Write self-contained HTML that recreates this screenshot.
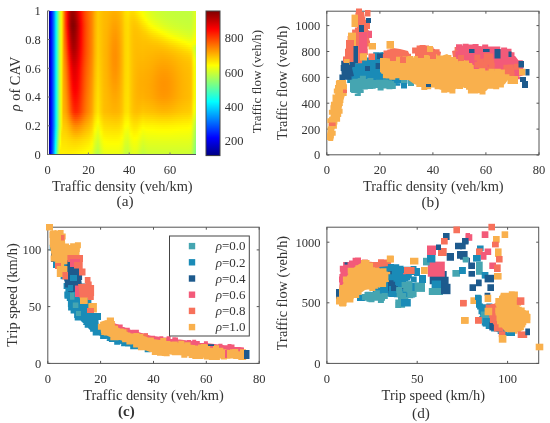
<!DOCTYPE html>
<html><head><meta charset="utf-8"><style>
html,body{margin:0;padding:0;background:#fff;width:550px;height:423px;overflow:hidden}
#hm div{position:absolute}
#hm,svg{filter:blur(0.3px)}
svg{position:absolute;left:0;top:0}
text{fill:#333}
</style></head><body>
<div id="hm"><div style="left:48.9px;top:10.80px;width:147.1px;height:2.60px;background:linear-gradient(90deg,#000095 0.0px,#0000bb 0.8px,#0000e2 1.5px,#0009ff 2.2px,#0029ff 3.0px,#0049ff 3.8px,#0053ff 4.0px,#008aff 5.2px,#00d7ff 6.5px,#22ffdd 7.8px,#69ff96 9.0px,#b0ff4f 10.2px,#dcff23 11.5px,#fff000 12.8px,#ffb600 14.0px,#ff7c00 15.2px,#ff4200 16.5px,#ff1800 17.8px,#ed0000 19.0px,#ce0000 20.0px,#a30000 22.0px,#9b0000 24.0px,#a90000 26.0px,#c50000 28.0px,#e90000 30.0px,#ff0f00 32.0px,#ff2f00 34.0px,#ff4900 36.0px,#ff5d00 38.0px,#ff6d00 40.0px,#ff8800 43.0px,#ffb000 46.0px,#ffcb00 49.0px,#ffc300 52.0px,#ffbb00 55.0px,#ffb900 58.0px,#ffb400 61.0px,#ffaf00 64.0px,#ffaf00 67.0px,#ffb500 70.0px,#ffc400 73.0px,#ffdd00 76.0px,#ffe600 79.0px,#ffdb00 82.0px,#ffdc00 85.0px,#ffe900 88.0px,#fff800 91.0px,#f7ff08 94.0px,#ebff14 97.0px,#e1ff1e 100.0px,#d9ff26 103.0px,#d4ff2b 106.0px,#cfff30 109.0px,#cbff34 112.0px,#c9ff36 115.0px,#c7ff38 118.0px,#c5ff3a 121.0px,#c4ff3b 124.0px,#c3ff3c 127.0px,#c3ff3c 130.0px,#c2ff3d 133.0px,#c2ff3d 136.0px,#c2ff3d 139.0px,#c2ff3d 142.0px,#d6ff29 145.0px,#e3ff1c 147.1px)"></div>
<div style="left:48.9px;top:12.80px;width:147.1px;height:2.60px;background:linear-gradient(90deg,#000095 0.0px,#0000bb 0.8px,#0000e2 1.5px,#0009ff 2.2px,#0029ff 3.0px,#0049ff 3.8px,#0053ff 4.0px,#008aff 5.2px,#00d7ff 6.5px,#22ffdd 7.8px,#69ff96 9.0px,#b0ff4f 10.2px,#dcff23 11.5px,#fff000 12.8px,#ffb600 14.0px,#ff7c00 15.2px,#ff4200 16.5px,#ff1800 17.8px,#ec0000 19.0px,#cd0000 20.0px,#a00000 22.0px,#980000 24.0px,#a60000 26.0px,#c20000 28.0px,#e60000 30.0px,#ff0c00 32.0px,#ff2d00 34.0px,#ff4800 36.0px,#ff5c00 38.0px,#ff6d00 40.0px,#ff8800 43.0px,#ffb000 46.0px,#ffcb00 49.0px,#ffc300 52.0px,#ffbb00 55.0px,#ffb800 58.0px,#ffb300 61.0px,#ffad00 64.0px,#ffad00 67.0px,#ffb300 70.0px,#ffc300 73.0px,#ffdc00 76.0px,#ffe400 79.0px,#ffd800 82.0px,#ffd800 85.0px,#ffe400 88.0px,#fff300 91.0px,#fbff04 94.0px,#efff10 97.0px,#e4ff1b 100.0px,#dcff23 103.0px,#d6ff29 106.0px,#d1ff2e 109.0px,#cdff32 112.0px,#caff35 115.0px,#c8ff37 118.0px,#c6ff39 121.0px,#c5ff3a 124.0px,#c4ff3b 127.0px,#c3ff3c 130.0px,#c3ff3c 133.0px,#c2ff3d 136.0px,#c2ff3d 139.0px,#c3ff3c 142.0px,#d6ff29 145.0px,#e3ff1c 147.1px)"></div>
<div style="left:48.9px;top:14.79px;width:147.1px;height:2.60px;background:linear-gradient(90deg,#000095 0.0px,#0000bb 0.8px,#0000e2 1.5px,#0009ff 2.2px,#0029ff 3.0px,#0049ff 3.8px,#0053ff 4.0px,#008aff 5.2px,#00d7ff 6.5px,#22ffdd 7.8px,#69ff96 9.0px,#b0ff4f 10.2px,#dcff23 11.5px,#fff000 12.8px,#ffb600 14.0px,#ff7c00 15.2px,#ff4200 16.5px,#ff1800 17.8px,#ec0000 19.0px,#cc0000 20.0px,#9e0000 22.0px,#940000 24.0px,#a20000 26.0px,#be0000 28.0px,#e20000 30.0px,#ff0900 32.0px,#ff2b00 34.0px,#ff4600 36.0px,#ff5b00 38.0px,#ff6c00 40.0px,#ff8800 43.0px,#ffb100 46.0px,#ffcb00 49.0px,#ffc300 52.0px,#ffbb00 55.0px,#ffb700 58.0px,#ffb100 61.0px,#ffab00 64.0px,#ffab00 67.0px,#ffb100 70.0px,#ffc100 73.0px,#ffda00 76.0px,#ffe200 79.0px,#ffd500 82.0px,#ffd400 85.0px,#ffde00 88.0px,#ffee00 91.0px,#fffe00 94.0px,#f4ff0b 97.0px,#e8ff17 100.0px,#dfff20 103.0px,#d9ff26 106.0px,#d3ff2c 109.0px,#cfff30 112.0px,#ccff33 115.0px,#c9ff36 118.0px,#c7ff38 121.0px,#c6ff39 124.0px,#c5ff3a 127.0px,#c4ff3b 130.0px,#c3ff3c 133.0px,#c3ff3c 136.0px,#c2ff3d 139.0px,#c3ff3c 142.0px,#d6ff29 145.0px,#e4ff1b 147.1px)"></div>
<div style="left:48.9px;top:16.79px;width:147.1px;height:2.60px;background:linear-gradient(90deg,#000095 0.0px,#0000bb 0.8px,#0000e2 1.5px,#0009ff 2.2px,#0029ff 3.0px,#0049ff 3.8px,#0053ff 4.0px,#008aff 5.2px,#00d7ff 6.5px,#22ffdd 7.8px,#69ff96 9.0px,#b0ff4f 10.2px,#dcff23 11.5px,#fff000 12.8px,#ffb600 14.0px,#ff7c00 15.2px,#ff4200 16.5px,#ff1900 17.8px,#ec0000 19.0px,#cb0000 20.0px,#9c0000 22.0px,#910000 24.0px,#9e0000 26.0px,#ba0000 28.0px,#df0000 30.0px,#ff0600 32.0px,#ff2900 34.0px,#ff4500 36.0px,#ff5a00 38.0px,#ff6b00 40.0px,#ff8700 43.0px,#ffb100 46.0px,#ffcb00 49.0px,#ffc300 52.0px,#ffba00 55.0px,#ffb700 58.0px,#ffb000 61.0px,#ffa900 64.0px,#ffa900 67.0px,#ffb000 70.0px,#ffc000 73.0px,#ffd900 76.0px,#ffe000 79.0px,#ffd200 82.0px,#ffd000 85.0px,#ffd900 88.0px,#ffe800 91.0px,#fff800 94.0px,#f9ff06 97.0px,#ecff13 100.0px,#e3ff1c 103.0px,#dcff23 106.0px,#d7ff28 109.0px,#d2ff2d 112.0px,#ceff31 115.0px,#cbff34 118.0px,#c9ff36 121.0px,#c7ff38 124.0px,#c6ff39 127.0px,#c5ff3a 130.0px,#c4ff3b 133.0px,#c4ff3b 136.0px,#c3ff3c 139.0px,#c4ff3b 142.0px,#d7ff28 145.0px,#e4ff1b 147.1px)"></div>
<div style="left:48.9px;top:18.78px;width:147.1px;height:2.60px;background:linear-gradient(90deg,#000095 0.0px,#0000bb 0.8px,#0000e2 1.5px,#0009ff 2.2px,#0029ff 3.0px,#0049ff 3.8px,#0053ff 4.0px,#008aff 5.2px,#00d7ff 6.5px,#22ffdd 7.8px,#69ff96 9.0px,#b0ff4f 10.2px,#dcff23 11.5px,#fff000 12.8px,#ffb600 14.0px,#ff7c00 15.2px,#ff4300 16.5px,#ff1900 17.8px,#ec0000 19.0px,#ca0000 20.0px,#990000 22.0px,#8d0000 24.0px,#9a0000 26.0px,#b60000 28.0px,#db0000 30.0px,#ff0300 32.0px,#ff2700 34.0px,#ff4300 36.0px,#ff5900 38.0px,#ff6b00 40.0px,#ff8700 43.0px,#ffb100 46.0px,#ffcc00 49.0px,#ffc300 52.0px,#ffba00 55.0px,#ffb600 58.0px,#ffaf00 61.0px,#ffa800 64.0px,#ffa700 67.0px,#ffae00 70.0px,#ffbe00 73.0px,#ffd800 76.0px,#ffdf00 79.0px,#ffd000 82.0px,#ffcc00 85.0px,#ffd400 88.0px,#ffe200 91.0px,#fff100 94.0px,#ffff00 97.0px,#f2ff0d 100.0px,#e8ff17 103.0px,#e1ff1e 106.0px,#dbff24 109.0px,#d6ff29 112.0px,#d1ff2e 115.0px,#ceff31 118.0px,#cbff34 121.0px,#c9ff36 124.0px,#c8ff37 127.0px,#c6ff39 130.0px,#c5ff3a 133.0px,#c5ff3a 136.0px,#c4ff3b 139.0px,#c4ff3b 142.0px,#d8ff27 145.0px,#e5ff1a 147.1px)"></div>
<div style="left:48.9px;top:20.78px;width:147.1px;height:2.60px;background:linear-gradient(90deg,#000095 0.0px,#0000bb 0.8px,#0000e2 1.5px,#0009ff 2.2px,#0029ff 3.0px,#0049ff 3.8px,#0053ff 4.0px,#008aff 5.2px,#00d7ff 6.5px,#22ffdd 7.8px,#69ff96 9.0px,#b0ff4f 10.2px,#dcff23 11.5px,#fff000 12.8px,#ffb600 14.0px,#ff7c00 15.2px,#ff4400 16.5px,#ff1900 17.8px,#ec0000 19.0px,#ca0000 20.0px,#970000 22.0px,#8a0000 24.0px,#960000 26.0px,#b20000 28.0px,#d80000 30.0px,#ff0100 32.0px,#ff2400 34.0px,#ff4200 36.0px,#ff5800 38.0px,#ff6a00 40.0px,#ff8700 43.0px,#ffb100 46.0px,#ffcc00 49.0px,#ffc300 52.0px,#ffba00 55.0px,#ffb600 58.0px,#ffae00 61.0px,#ffa600 64.0px,#ffa500 67.0px,#ffac00 70.0px,#ffbd00 73.0px,#ffd700 76.0px,#ffde00 79.0px,#ffce00 82.0px,#ffc900 85.0px,#ffcf00 88.0px,#ffdc00 91.0px,#ffea00 94.0px,#fff800 97.0px,#f8ff07 100.0px,#eeff11 103.0px,#e7ff18 106.0px,#e0ff1f 109.0px,#daff25 112.0px,#d5ff2a 115.0px,#d1ff2e 118.0px,#ceff31 121.0px,#ccff33 124.0px,#caff35 127.0px,#c8ff37 130.0px,#c7ff38 133.0px,#c6ff39 136.0px,#c5ff3a 139.0px,#c5ff3a 142.0px,#d8ff27 145.0px,#e6ff19 147.1px)"></div>
<div style="left:48.9px;top:22.77px;width:147.1px;height:2.60px;background:linear-gradient(90deg,#000095 0.0px,#0000bb 0.8px,#0000e2 1.5px,#0009ff 2.2px,#0029ff 3.0px,#0049ff 3.8px,#0053ff 4.0px,#008aff 5.2px,#00d7ff 6.5px,#22ffdd 7.8px,#69ff96 9.0px,#b0ff4f 10.2px,#dcff23 11.5px,#fff000 12.8px,#ffb600 14.0px,#ff7c00 15.2px,#ff4400 16.5px,#ff1a00 17.8px,#ec0000 19.0px,#c90000 20.0px,#950000 22.0px,#860000 24.0px,#920000 26.0px,#af0000 28.0px,#d40000 30.0px,#fd0000 32.0px,#ff2200 34.0px,#ff4000 36.0px,#ff5700 38.0px,#ff6a00 40.0px,#ff8700 43.0px,#ffb100 46.0px,#ffcc00 49.0px,#ffc300 52.0px,#ffba00 55.0px,#ffb500 58.0px,#ffad00 61.0px,#ffa400 64.0px,#ffa300 67.0px,#ffab00 70.0px,#ffbc00 73.0px,#ffd600 76.0px,#ffdd00 79.0px,#ffcd00 82.0px,#ffc700 85.0px,#ffcb00 88.0px,#ffd600 91.0px,#ffe400 94.0px,#fff000 97.0px,#ffff00 100.0px,#f5ff0a 103.0px,#edff12 106.0px,#e6ff19 109.0px,#e0ff1f 112.0px,#daff25 115.0px,#d5ff2a 118.0px,#d2ff2d 121.0px,#cfff30 124.0px,#cdff32 127.0px,#cbff34 130.0px,#c9ff36 133.0px,#c8ff37 136.0px,#c7ff38 139.0px,#c7ff38 142.0px,#daff25 145.0px,#e7ff18 147.1px)"></div>
<div style="left:48.9px;top:24.77px;width:147.1px;height:2.60px;background:linear-gradient(90deg,#000095 0.0px,#0000bb 0.8px,#0000e2 1.5px,#0009ff 2.2px,#0029ff 3.0px,#0049ff 3.8px,#0053ff 4.0px,#008aff 5.2px,#00d7ff 6.5px,#22ffdd 7.8px,#69ff96 9.0px,#b0ff4f 10.2px,#dcff23 11.5px,#fff000 12.8px,#ffb600 14.0px,#ff7c00 15.2px,#ff4600 16.5px,#ff1b00 17.8px,#ed0000 19.0px,#ca0000 20.0px,#950000 22.0px,#850000 24.0px,#900000 26.0px,#ac0000 28.0px,#d20000 30.0px,#fb0000 32.0px,#ff2100 34.0px,#ff3f00 36.0px,#ff5700 38.0px,#ff6900 40.0px,#ff8700 43.0px,#ffb100 46.0px,#ffcc00 49.0px,#ffc300 52.0px,#ffba00 55.0px,#ffb500 58.0px,#ffac00 61.0px,#ffa200 64.0px,#ffa100 67.0px,#ffa900 70.0px,#ffbb00 73.0px,#ffd600 76.0px,#ffdd00 79.0px,#ffcc00 82.0px,#ffc500 85.0px,#ffc800 88.0px,#ffd100 91.0px,#ffdd00 94.0px,#ffe900 97.0px,#fff700 100.0px,#fdff02 103.0px,#f5ff0a 106.0px,#edff12 109.0px,#e6ff19 112.0px,#e0ff1f 115.0px,#dbff24 118.0px,#d6ff29 121.0px,#d3ff2c 124.0px,#d0ff2f 127.0px,#ceff31 130.0px,#ccff33 133.0px,#caff35 136.0px,#c9ff36 139.0px,#c9ff36 142.0px,#dbff24 145.0px,#e8ff17 147.1px)"></div>
<div style="left:48.9px;top:26.77px;width:147.1px;height:2.60px;background:linear-gradient(90deg,#000095 0.0px,#0000bb 0.8px,#0000e2 1.5px,#0009ff 2.2px,#0029ff 3.0px,#0049ff 3.8px,#0053ff 4.0px,#008aff 5.2px,#00d7ff 6.5px,#22ffdd 7.8px,#69ff96 9.0px,#b0ff4f 10.2px,#dcff23 11.5px,#fff000 12.8px,#ffb600 14.0px,#ff7c00 15.2px,#ff4900 16.5px,#ff1f00 17.8px,#f10000 19.0px,#cf0000 20.0px,#990000 22.0px,#880000 24.0px,#930000 26.0px,#ae0000 28.0px,#d30000 30.0px,#fc0000 32.0px,#ff2100 34.0px,#ff3f00 36.0px,#ff5700 38.0px,#ff6900 40.0px,#ff8700 43.0px,#ffb100 46.0px,#ffcd00 49.0px,#ffc300 52.0px,#ffba00 55.0px,#ffb400 58.0px,#ffab00 61.0px,#ffa100 64.0px,#ff9f00 67.0px,#ffa800 70.0px,#ffbb00 73.0px,#ffd500 76.0px,#ffdd00 79.0px,#ffcc00 82.0px,#ffc300 85.0px,#ffc500 88.0px,#ffcd00 91.0px,#ffd700 94.0px,#ffe200 97.0px,#ffef00 100.0px,#fff900 103.0px,#fdff02 106.0px,#f5ff0a 109.0px,#eeff11 112.0px,#e7ff18 115.0px,#e1ff1e 118.0px,#dcff23 121.0px,#d8ff27 124.0px,#d5ff2a 127.0px,#d2ff2d 130.0px,#cfff30 133.0px,#cdff32 136.0px,#cbff34 139.0px,#cbff34 142.0px,#ddff22 145.0px,#eaff15 147.1px)"></div>
<div style="left:48.9px;top:28.76px;width:147.1px;height:2.60px;background:linear-gradient(90deg,#000095 0.0px,#0000bb 0.8px,#0000e2 1.5px,#0009ff 2.2px,#0029ff 3.0px,#0049ff 3.8px,#0053ff 4.0px,#008aff 5.2px,#00d7ff 6.5px,#22ffdd 7.8px,#69ff96 9.0px,#b0ff4f 10.2px,#dcff23 11.5px,#fff000 12.8px,#ffb600 14.0px,#ff7c00 15.2px,#ff4c00 16.5px,#ff2300 17.8px,#f60000 19.0px,#d30000 20.0px,#9d0000 22.0px,#8b0000 24.0px,#950000 26.0px,#b00000 28.0px,#d50000 30.0px,#fc0000 32.0px,#ff2200 34.0px,#ff4000 36.0px,#ff5700 38.0px,#ff6900 40.0px,#ff8700 43.0px,#ffb200 46.0px,#ffcd00 49.0px,#ffc300 52.0px,#ffb900 55.0px,#ffb400 58.0px,#ffa900 61.0px,#ff9f00 64.0px,#ff9d00 67.0px,#ffa700 70.0px,#ffba00 73.0px,#ffd500 76.0px,#ffdc00 79.0px,#ffcb00 82.0px,#ffc200 85.0px,#ffc300 88.0px,#ffc900 91.0px,#ffd200 94.0px,#ffdb00 97.0px,#ffe700 100.0px,#fff000 103.0px,#fff800 106.0px,#feff01 109.0px,#f6ff09 112.0px,#efff10 115.0px,#e8ff17 118.0px,#e2ff1d 121.0px,#deff21 124.0px,#daff25 127.0px,#d7ff28 130.0px,#d4ff2b 133.0px,#d1ff2e 136.0px,#cfff30 139.0px,#ceff31 142.0px,#e0ff1f 145.0px,#edff12 147.1px)"></div>
<div style="left:48.9px;top:30.76px;width:147.1px;height:2.60px;background:linear-gradient(90deg,#000095 0.0px,#0000bb 0.8px,#0000e2 1.5px,#0009ff 2.2px,#0029ff 3.0px,#0049ff 3.8px,#0053ff 4.0px,#008aff 5.2px,#00d7ff 6.5px,#22ffdd 7.8px,#69ff96 9.0px,#b0ff4f 10.2px,#dcff23 11.5px,#fff000 12.8px,#ffb600 14.0px,#ff7c00 15.2px,#ff4f00 16.5px,#ff2700 17.8px,#fa0000 19.0px,#d80000 20.0px,#a20000 22.0px,#8e0000 24.0px,#980000 26.0px,#b20000 28.0px,#d60000 30.0px,#fd0000 32.0px,#ff2200 34.0px,#ff4000 36.0px,#ff5700 38.0px,#ff6a00 40.0px,#ff8700 43.0px,#ffb200 46.0px,#ffcd00 49.0px,#ffc400 52.0px,#ffb900 55.0px,#ffb300 58.0px,#ffa800 61.0px,#ff9e00 64.0px,#ff9c00 67.0px,#ffa500 70.0px,#ffb900 73.0px,#ffd500 76.0px,#ffdc00 79.0px,#ffcb00 82.0px,#ffc100 85.0px,#ffc200 88.0px,#ffc600 91.0px,#ffcd00 94.0px,#ffd400 97.0px,#ffdf00 100.0px,#ffe800 103.0px,#ffef00 106.0px,#fff700 109.0px,#fffe00 112.0px,#f8ff07 115.0px,#f1ff0e 118.0px,#eaff15 121.0px,#e5ff1a 124.0px,#e1ff1e 127.0px,#ddff22 130.0px,#d9ff26 133.0px,#d6ff29 136.0px,#d3ff2c 139.0px,#d2ff2d 142.0px,#e3ff1c 145.0px,#f0ff0f 147.1px)"></div>
<div style="left:48.9px;top:32.75px;width:147.1px;height:2.60px;background:linear-gradient(90deg,#000095 0.0px,#0000bb 0.8px,#0000e2 1.5px,#0009ff 2.2px,#0029ff 3.0px,#0049ff 3.8px,#0053ff 4.0px,#008aff 5.2px,#00d7ff 6.5px,#22ffdd 7.8px,#69ff96 9.0px,#b0ff4f 10.2px,#dcff23 11.5px,#fff000 12.8px,#ffb600 14.0px,#ff7c00 15.2px,#ff5300 16.5px,#ff2b00 17.8px,#fe0000 19.0px,#dd0000 20.0px,#a60000 22.0px,#920000 24.0px,#9b0000 26.0px,#b40000 28.0px,#d70000 30.0px,#fe0000 32.0px,#ff2300 34.0px,#ff4000 36.0px,#ff5700 38.0px,#ff6a00 40.0px,#ff8700 43.0px,#ffb200 46.0px,#ffcd00 49.0px,#ffc400 52.0px,#ffb900 55.0px,#ffb300 58.0px,#ffa700 61.0px,#ff9c00 64.0px,#ff9a00 67.0px,#ffa400 70.0px,#ffb800 73.0px,#ffd500 76.0px,#ffdc00 79.0px,#ffcb00 82.0px,#ffc100 85.0px,#ffc100 88.0px,#ffc400 91.0px,#ffca00 94.0px,#ffcf00 97.0px,#ffd800 100.0px,#ffdf00 103.0px,#ffe600 106.0px,#ffed00 109.0px,#fff500 112.0px,#fffc00 115.0px,#faff05 118.0px,#f3ff0c 121.0px,#eeff11 124.0px,#e8ff17 127.0px,#e4ff1b 130.0px,#dfff20 133.0px,#dcff23 136.0px,#d8ff27 139.0px,#d6ff29 142.0px,#e8ff17 145.0px,#f4ff0b 147.1px)"></div>
<div style="left:48.9px;top:34.75px;width:147.1px;height:2.60px;background:linear-gradient(90deg,#000095 0.0px,#0000bb 0.8px,#0000e2 1.5px,#0009ff 2.2px,#0029ff 3.0px,#0049ff 3.8px,#0053ff 4.0px,#008aff 5.2px,#00d7ff 6.5px,#22ffdd 7.8px,#69ff96 9.0px,#b0ff4f 10.2px,#dcff23 11.5px,#fff000 12.8px,#ffb600 14.0px,#ff7c00 15.2px,#ff5600 16.5px,#ff2e00 17.8px,#ff0400 19.0px,#e10000 20.0px,#aa0000 22.0px,#950000 24.0px,#9d0000 26.0px,#b60000 28.0px,#d90000 30.0px,#ff0000 32.0px,#ff2300 34.0px,#ff4100 36.0px,#ff5700 38.0px,#ff6a00 40.0px,#ff8700 43.0px,#ffb200 46.0px,#ffce00 49.0px,#ffc400 52.0px,#ffb900 55.0px,#ffb200 58.0px,#ffa600 61.0px,#ff9b00 64.0px,#ff9800 67.0px,#ffa300 70.0px,#ffb800 73.0px,#ffd400 76.0px,#ffdc00 79.0px,#ffca00 82.0px,#ffc000 85.0px,#ffc000 88.0px,#ffc300 91.0px,#ffc700 94.0px,#ffca00 97.0px,#ffd100 100.0px,#ffd800 103.0px,#ffde00 106.0px,#ffe400 109.0px,#ffeb00 112.0px,#fff200 115.0px,#fffa00 118.0px,#fcff03 121.0px,#f7ff08 124.0px,#f1ff0e 127.0px,#ecff13 130.0px,#e7ff18 133.0px,#e3ff1c 136.0px,#deff21 139.0px,#dcff23 142.0px,#edff12 145.0px,#f9ff06 147.1px)"></div>
<div style="left:48.9px;top:36.75px;width:147.1px;height:2.60px;background:linear-gradient(90deg,#000095 0.0px,#0000bb 0.8px,#0000e2 1.5px,#0009ff 2.2px,#0029ff 3.0px,#0049ff 3.8px,#0053ff 4.0px,#008aff 5.2px,#00d7ff 6.5px,#22ffdd 7.8px,#69ff96 9.0px,#b0ff4f 10.2px,#dcff23 11.5px,#fff000 12.8px,#ffb600 14.0px,#ff7c00 15.2px,#ff5900 16.5px,#ff3200 17.8px,#ff0800 19.0px,#e60000 20.0px,#af0000 22.0px,#980000 24.0px,#a00000 26.0px,#b80000 28.0px,#da0000 30.0px,#ff0100 32.0px,#ff2400 34.0px,#ff4100 36.0px,#ff5800 38.0px,#ff6a00 40.0px,#ff8700 43.0px,#ffb200 46.0px,#ffce00 49.0px,#ffc400 52.0px,#ffb900 55.0px,#ffb200 58.0px,#ffa500 61.0px,#ff9900 64.0px,#ff9700 67.0px,#ffa200 70.0px,#ffb700 73.0px,#ffd400 76.0px,#ffdc00 79.0px,#ffca00 82.0px,#ffc000 85.0px,#ffbf00 88.0px,#ffc100 91.0px,#ffc500 94.0px,#ffc700 97.0px,#ffcc00 100.0px,#ffd100 103.0px,#ffd600 106.0px,#ffdb00 109.0px,#ffe100 112.0px,#ffe800 115.0px,#fff000 118.0px,#fff700 121.0px,#fffd00 124.0px,#fbff04 127.0px,#f5ff0a 130.0px,#f0ff0f 133.0px,#ebff14 136.0px,#e6ff19 139.0px,#e3ff1c 142.0px,#f3ff0c 145.0px,#feff01 147.1px)"></div>
<div style="left:48.9px;top:38.74px;width:147.1px;height:2.60px;background:linear-gradient(90deg,#000095 0.0px,#0000bb 0.8px,#0000e2 1.5px,#0009ff 2.2px,#0029ff 3.0px,#0049ff 3.8px,#0053ff 4.0px,#008aff 5.2px,#00d7ff 6.5px,#22ffdd 7.8px,#69ff96 9.0px,#b0ff4f 10.2px,#dcff23 11.5px,#fff000 12.8px,#ffb600 14.0px,#ff7c00 15.2px,#ff5b00 16.5px,#ff3600 17.8px,#ff0c00 19.0px,#ea0000 20.0px,#b30000 22.0px,#9c0000 24.0px,#a30000 26.0px,#ba0000 28.0px,#db0000 30.0px,#ff0100 32.0px,#ff2400 34.0px,#ff4100 36.0px,#ff5800 38.0px,#ff6a00 40.0px,#ff8800 43.0px,#ffb300 46.0px,#ffce00 49.0px,#ffc400 52.0px,#ffb900 55.0px,#ffb100 58.0px,#ffa500 61.0px,#ff9800 64.0px,#ff9500 67.0px,#ffa100 70.0px,#ffb700 73.0px,#ffd400 76.0px,#ffdc00 79.0px,#ffca00 82.0px,#ffc000 85.0px,#ffbe00 88.0px,#ffc000 91.0px,#ffc300 94.0px,#ffc400 97.0px,#ffc700 100.0px,#ffcb00 103.0px,#ffcf00 106.0px,#ffd300 109.0px,#ffd900 112.0px,#ffdf00 115.0px,#ffe600 118.0px,#ffed00 121.0px,#fff300 124.0px,#fff900 127.0px,#ffff00 130.0px,#f9ff06 133.0px,#f3ff0c 136.0px,#eeff11 139.0px,#ebff14 142.0px,#f9ff06 145.0px,#fffb00 147.1px)"></div>
<div style="left:48.9px;top:40.74px;width:147.1px;height:2.60px;background:linear-gradient(90deg,#000095 0.0px,#0000bb 0.8px,#0000e2 1.5px,#0009ff 2.2px,#0029ff 3.0px,#0049ff 3.8px,#0053ff 4.0px,#008aff 5.2px,#00d7ff 6.5px,#22ffdd 7.8px,#69ff96 9.0px,#b0ff4f 10.2px,#dcff23 11.5px,#fff000 12.8px,#ffb600 14.0px,#ff7d00 15.2px,#ff5e00 16.5px,#ff3900 17.8px,#ff1000 19.0px,#ee0000 20.0px,#b80000 22.0px,#9f0000 24.0px,#a50000 26.0px,#bc0000 28.0px,#dd0000 30.0px,#ff0200 32.0px,#ff2500 34.0px,#ff4100 36.0px,#ff5800 38.0px,#ff6a00 40.0px,#ff8800 43.0px,#ffb300 46.0px,#ffce00 49.0px,#ffc400 52.0px,#ffb900 55.0px,#ffb100 58.0px,#ffa400 61.0px,#ff9700 64.0px,#ff9400 67.0px,#ffa000 70.0px,#ffb600 73.0px,#ffd400 76.0px,#ffdc00 79.0px,#ffca00 82.0px,#ffc000 85.0px,#ffbe00 88.0px,#ffbf00 91.0px,#ffc100 94.0px,#ffc100 97.0px,#ffc400 100.0px,#ffc700 103.0px,#ffc900 106.0px,#ffcc00 109.0px,#ffd100 112.0px,#ffd600 115.0px,#ffdc00 118.0px,#ffe300 121.0px,#ffe900 124.0px,#ffef00 127.0px,#fff500 130.0px,#fffb00 133.0px,#fdff02 136.0px,#f7ff08 139.0px,#f3ff0c 142.0px,#fcff03 145.0px,#fffd00 147.1px)"></div>
<div style="left:48.9px;top:42.73px;width:147.1px;height:2.60px;background:linear-gradient(90deg,#000095 0.0px,#0000bb 0.8px,#0000e2 1.5px,#0009ff 2.2px,#0029ff 3.0px,#0049ff 3.8px,#0053ff 4.0px,#008aff 5.2px,#00d7ff 6.5px,#22ffdd 7.8px,#69ff96 9.0px,#b0ff4f 10.2px,#dcff23 11.5px,#fff000 12.8px,#ffb600 14.0px,#ff7f00 15.2px,#ff6100 16.5px,#ff3d00 17.8px,#ff1400 19.0px,#f30000 20.0px,#bc0000 22.0px,#a30000 24.0px,#a80000 26.0px,#be0000 28.0px,#de0000 30.0px,#ff0300 32.0px,#ff2500 34.0px,#ff4200 36.0px,#ff5800 38.0px,#ff6a00 40.0px,#ff8800 43.0px,#ffb300 46.0px,#ffcf00 49.0px,#ffc400 52.0px,#ffb900 55.0px,#ffb100 58.0px,#ffa300 61.0px,#ff9600 64.0px,#ff9300 67.0px,#ff9f00 70.0px,#ffb600 73.0px,#ffd400 76.0px,#ffdc00 79.0px,#ffca00 82.0px,#ffbf00 85.0px,#ffbd00 88.0px,#ffbe00 91.0px,#ffc000 94.0px,#ffc000 97.0px,#ffc100 100.0px,#ffc300 103.0px,#ffc400 106.0px,#ffc600 109.0px,#ffca00 112.0px,#ffce00 115.0px,#ffd300 118.0px,#ffda00 121.0px,#ffdf00 124.0px,#ffe500 127.0px,#ffeb00 130.0px,#fff100 133.0px,#fff700 136.0px,#fffd00 139.0px,#fcff03 142.0px,#f5ff0a 145.0px,#f1ff0e 147.1px)"></div>
<div style="left:48.9px;top:44.73px;width:147.1px;height:2.60px;background:linear-gradient(90deg,#000095 0.0px,#0000bb 0.8px,#0000e2 1.5px,#0009ff 2.2px,#0029ff 3.0px,#0049ff 3.8px,#0053ff 4.0px,#008aff 5.2px,#00d7ff 6.5px,#22ffdd 7.8px,#69ff96 9.0px,#b0ff4f 10.2px,#dcff23 11.5px,#fff000 12.8px,#ffb600 14.0px,#ff8100 15.2px,#ff6400 16.5px,#ff4000 17.8px,#ff1800 19.0px,#f70000 20.0px,#c00000 22.0px,#a60000 24.0px,#ab0000 26.0px,#c00000 28.0px,#df0000 30.0px,#ff0400 32.0px,#ff2600 34.0px,#ff4200 36.0px,#ff5800 38.0px,#ff6a00 40.0px,#ff8800 43.0px,#ffb300 46.0px,#ffcf00 49.0px,#ffc400 52.0px,#ffb900 55.0px,#ffb000 58.0px,#ffa200 61.0px,#ff9500 64.0px,#ff9200 67.0px,#ff9e00 70.0px,#ffb500 73.0px,#ffd400 76.0px,#ffdc00 79.0px,#ffca00 82.0px,#ffbf00 85.0px,#ffbd00 88.0px,#ffbd00 91.0px,#ffbf00 94.0px,#ffbe00 97.0px,#ffbe00 100.0px,#ffbf00 103.0px,#ffc000 106.0px,#ffc100 109.0px,#ffc400 112.0px,#ffc700 115.0px,#ffcb00 118.0px,#ffd100 121.0px,#ffd600 124.0px,#ffdc00 127.0px,#ffe200 130.0px,#ffe800 133.0px,#ffed00 136.0px,#fff300 139.0px,#fffa00 142.0px,#e7ff18 145.0px,#d2ff2d 147.1px)"></div>
<div style="left:48.9px;top:46.72px;width:147.1px;height:2.60px;background:linear-gradient(90deg,#000095 0.0px,#0000bb 0.8px,#0000e2 1.5px,#0009ff 2.2px,#0029ff 3.0px,#0049ff 3.8px,#0053ff 4.0px,#008aff 5.2px,#00d7ff 6.5px,#22ffdd 7.8px,#69ff96 9.0px,#b0ff4f 10.2px,#dcff23 11.5px,#fff000 12.8px,#ffb600 14.0px,#ff8300 15.2px,#ff6700 16.5px,#ff4400 17.8px,#ff1d00 19.0px,#fc0000 20.0px,#c50000 22.0px,#aa0000 24.0px,#ae0000 26.0px,#c20000 28.0px,#e20000 30.0px,#ff0600 32.0px,#ff2700 34.0px,#ff4300 36.0px,#ff5900 38.0px,#ff6b00 40.0px,#ff8800 43.0px,#ffb300 46.0px,#ffcf00 49.0px,#ffc400 52.0px,#ffb800 55.0px,#ffb000 58.0px,#ffa200 61.0px,#ff9400 64.0px,#ff9100 67.0px,#ff9e00 70.0px,#ffb500 73.0px,#ffd400 76.0px,#ffdc00 79.0px,#ffca00 82.0px,#ffbf00 85.0px,#ffbc00 88.0px,#ffbd00 91.0px,#ffbe00 94.0px,#ffbd00 97.0px,#ffbc00 100.0px,#ffbd00 103.0px,#ffbd00 106.0px,#ffbd00 109.0px,#ffbf00 112.0px,#ffc100 115.0px,#ffc500 118.0px,#ffca00 121.0px,#ffce00 124.0px,#ffd300 127.0px,#ffd900 130.0px,#ffdf00 133.0px,#ffe400 136.0px,#ffea00 139.0px,#fff100 142.0px,#deff21 145.0px,#beff41 147.1px)"></div>
<div style="left:48.9px;top:48.72px;width:147.1px;height:2.60px;background:linear-gradient(90deg,#000095 0.0px,#0000bb 0.8px,#0000e2 1.5px,#0009ff 2.2px,#0029ff 3.0px,#0049ff 3.8px,#0053ff 4.0px,#008aff 5.2px,#00d7ff 6.5px,#22ffdd 7.8px,#69ff96 9.0px,#b0ff4f 10.2px,#dcff23 11.5px,#fff000 12.8px,#ffb600 14.0px,#ff8600 15.2px,#ff6a00 16.5px,#ff4800 17.8px,#ff2200 19.0px,#ff0200 20.0px,#cb0000 22.0px,#b00000 24.0px,#b30000 26.0px,#c60000 28.0px,#e40000 30.0px,#ff0800 32.0px,#ff2800 34.0px,#ff4400 36.0px,#ff5900 38.0px,#ff6b00 40.0px,#ff8800 43.0px,#ffb400 46.0px,#ffcf00 49.0px,#ffc400 52.0px,#ffb800 55.0px,#ffb000 58.0px,#ffa200 61.0px,#ff9300 64.0px,#ff9100 67.0px,#ff9d00 70.0px,#ffb500 73.0px,#ffd400 76.0px,#ffdc00 79.0px,#ffca00 82.0px,#ffbf00 85.0px,#ffbb00 88.0px,#ffbc00 91.0px,#ffbd00 94.0px,#ffbb00 97.0px,#ffbb00 100.0px,#ffbb00 103.0px,#ffba00 106.0px,#ffba00 109.0px,#ffba00 112.0px,#ffbc00 115.0px,#ffbf00 118.0px,#ffc300 121.0px,#ffc700 124.0px,#ffcc00 127.0px,#ffd100 130.0px,#ffd600 133.0px,#ffdc00 136.0px,#ffe100 139.0px,#ffe900 142.0px,#e1ff1e 145.0px,#bcff43 147.1px)"></div>
<div style="left:48.9px;top:50.72px;width:147.1px;height:2.60px;background:linear-gradient(90deg,#000095 0.0px,#0000bb 0.8px,#0000e2 1.5px,#0009ff 2.2px,#0029ff 3.0px,#0049ff 3.8px,#0053ff 4.0px,#008aff 5.2px,#00d7ff 6.5px,#22ffdd 7.8px,#69ff96 9.0px,#b0ff4f 10.2px,#dcff23 11.5px,#fff000 12.8px,#ffb600 14.0px,#ff8800 15.2px,#ff6d00 16.5px,#ff4c00 17.8px,#ff2700 19.0px,#ff0800 20.0px,#d10000 22.0px,#b50000 24.0px,#b70000 26.0px,#ca0000 28.0px,#e70000 30.0px,#ff0a00 32.0px,#ff2a00 34.0px,#ff4400 36.0px,#ff5a00 38.0px,#ff6b00 40.0px,#ff8800 43.0px,#ffb400 46.0px,#ffd000 49.0px,#ffc400 52.0px,#ffb800 55.0px,#ffb000 58.0px,#ffa100 61.0px,#ff9300 64.0px,#ff9000 67.0px,#ff9d00 70.0px,#ffb500 73.0px,#ffd400 76.0px,#ffdd00 79.0px,#ffca00 82.0px,#ffbe00 85.0px,#ffbb00 88.0px,#ffbb00 91.0px,#ffbc00 94.0px,#ffba00 97.0px,#ffb900 100.0px,#ffb900 103.0px,#ffb700 106.0px,#ffb700 109.0px,#ffb600 112.0px,#ffb800 115.0px,#ffba00 118.0px,#ffbe00 121.0px,#ffc200 124.0px,#ffc600 127.0px,#ffcb00 130.0px,#ffcf00 133.0px,#ffd400 136.0px,#ffd900 139.0px,#ffe000 142.0px,#e7ff18 145.0px,#c2ff3d 147.1px)"></div>
<div style="left:48.9px;top:52.71px;width:147.1px;height:2.60px;background:linear-gradient(90deg,#000095 0.0px,#0000bb 0.8px,#0000e2 1.5px,#0009ff 2.2px,#0029ff 3.0px,#0049ff 3.8px,#0053ff 4.0px,#008aff 5.2px,#00d7ff 6.5px,#22ffdd 7.8px,#69ff96 9.0px,#b0ff4f 10.2px,#dcff23 11.5px,#fff000 12.8px,#ffb600 14.0px,#ff8a00 15.2px,#ff7000 16.5px,#ff5000 17.8px,#ff2b00 19.0px,#ff0d00 20.0px,#d70000 22.0px,#ba0000 24.0px,#bc0000 26.0px,#cd0000 28.0px,#ea0000 30.0px,#ff0c00 32.0px,#ff2b00 34.0px,#ff4500 36.0px,#ff5a00 38.0px,#ff6c00 40.0px,#ff8900 43.0px,#ffb400 46.0px,#ffd000 49.0px,#ffc500 52.0px,#ffb800 55.0px,#ffb000 58.0px,#ffa100 61.0px,#ff9200 64.0px,#ff9000 67.0px,#ff9c00 70.0px,#ffb500 73.0px,#ffd400 76.0px,#ffdd00 79.0px,#ffca00 82.0px,#ffbe00 85.0px,#ffba00 88.0px,#ffba00 91.0px,#ffbb00 94.0px,#ffb900 97.0px,#ffb800 100.0px,#ffb700 103.0px,#ffb500 106.0px,#ffb400 109.0px,#ffb300 112.0px,#ffb400 115.0px,#ffb600 118.0px,#ffb900 121.0px,#ffbd00 124.0px,#ffc100 127.0px,#ffc500 130.0px,#ffca00 133.0px,#ffce00 136.0px,#ffd200 139.0px,#ffd900 142.0px,#eeff11 145.0px,#c9ff36 147.1px)"></div>
<div style="left:48.9px;top:54.71px;width:147.1px;height:2.60px;background:linear-gradient(90deg,#000095 0.0px,#0000bb 0.8px,#0000e2 1.5px,#0009ff 2.2px,#0029ff 3.0px,#0049ff 3.8px,#0053ff 4.0px,#008aff 5.2px,#00d7ff 6.5px,#22ffdd 7.8px,#69ff96 9.0px,#b0ff4f 10.2px,#dcff23 11.5px,#fff000 12.8px,#ffb600 14.0px,#ff8c00 15.2px,#ff7300 16.5px,#ff5400 17.8px,#ff3000 19.0px,#ff1200 20.0px,#dd0000 22.0px,#c00000 24.0px,#c00000 26.0px,#d10000 28.0px,#ed0000 30.0px,#ff0e00 32.0px,#ff2d00 34.0px,#ff4700 36.0px,#ff5c00 38.0px,#ff6d00 40.0px,#ff8a00 43.0px,#ffb500 46.0px,#ffd100 49.0px,#ffc500 52.0px,#ffb800 55.0px,#ffb000 58.0px,#ffa100 61.0px,#ff9200 64.0px,#ff8f00 67.0px,#ff9c00 70.0px,#ffb400 73.0px,#ffd400 76.0px,#ffdd00 79.0px,#ffca00 82.0px,#ffbe00 85.0px,#ffba00 88.0px,#ffb900 91.0px,#ffba00 94.0px,#ffb800 97.0px,#ffb600 100.0px,#ffb500 103.0px,#ffb300 106.0px,#ffb100 109.0px,#ffb000 112.0px,#ffb000 115.0px,#ffb200 118.0px,#ffb500 121.0px,#ffb800 124.0px,#ffbd00 127.0px,#ffc100 130.0px,#ffc500 133.0px,#ffc900 136.0px,#ffcd00 139.0px,#ffd300 142.0px,#f5ff0a 145.0px,#cfff30 147.1px)"></div>
<div style="left:48.9px;top:56.70px;width:147.1px;height:2.60px;background:linear-gradient(90deg,#000095 0.0px,#0000bb 0.8px,#0000e2 1.5px,#0009ff 2.2px,#0029ff 3.0px,#0049ff 3.8px,#0053ff 4.0px,#008aff 5.2px,#00d7ff 6.5px,#22ffdd 7.8px,#69ff96 9.0px,#b0ff4f 10.2px,#dcff23 11.5px,#fff000 12.8px,#ffb600 14.0px,#ff8e00 15.2px,#ff7600 16.5px,#ff5700 17.8px,#ff3500 19.0px,#ff1800 20.0px,#e20000 22.0px,#c50000 24.0px,#c50000 26.0px,#d50000 28.0px,#f00000 30.0px,#ff1100 32.0px,#ff2f00 34.0px,#ff4900 36.0px,#ff5d00 38.0px,#ff6e00 40.0px,#ff8b00 43.0px,#ffb600 46.0px,#ffd100 49.0px,#ffc500 52.0px,#ffb900 55.0px,#ffb000 58.0px,#ffa100 61.0px,#ff9200 64.0px,#ff8f00 67.0px,#ff9c00 70.0px,#ffb500 73.0px,#ffd400 76.0px,#ffdd00 79.0px,#ffca00 82.0px,#ffbe00 85.0px,#ffb900 88.0px,#ffb800 91.0px,#ffb900 94.0px,#ffb600 97.0px,#ffb500 100.0px,#ffb300 103.0px,#ffb100 106.0px,#ffaf00 109.0px,#ffad00 112.0px,#ffad00 115.0px,#ffaf00 118.0px,#ffb100 121.0px,#ffb500 124.0px,#ffb900 127.0px,#ffbd00 130.0px,#ffc100 133.0px,#ffc500 136.0px,#ffc800 139.0px,#ffce00 142.0px,#faff05 145.0px,#d5ff2a 147.1px)"></div>
<div style="left:48.9px;top:58.70px;width:147.1px;height:2.60px;background:linear-gradient(90deg,#000095 0.0px,#0000bb 0.8px,#0000e2 1.5px,#0009ff 2.2px,#0029ff 3.0px,#0049ff 3.8px,#0053ff 4.0px,#008aff 5.2px,#00d7ff 6.5px,#22ffdd 7.8px,#69ff96 9.0px,#b0ff4f 10.2px,#dcff23 11.5px,#fff000 12.8px,#ffb600 14.0px,#ff9000 15.2px,#ff7900 16.5px,#ff5b00 17.8px,#ff3900 19.0px,#ff1d00 20.0px,#e80000 22.0px,#ca0000 24.0px,#ca0000 26.0px,#d90000 28.0px,#f30000 30.0px,#ff1300 32.0px,#ff3100 34.0px,#ff4a00 36.0px,#ff5f00 38.0px,#ff7000 40.0px,#ff8c00 43.0px,#ffb700 46.0px,#ffd200 49.0px,#ffc600 52.0px,#ffb900 55.0px,#ffb000 58.0px,#ffa100 61.0px,#ff9200 64.0px,#ff9000 67.0px,#ff9c00 70.0px,#ffb500 73.0px,#ffd400 76.0px,#ffdd00 79.0px,#ffca00 82.0px,#ffbd00 85.0px,#ffb900 88.0px,#ffb700 91.0px,#ffb800 94.0px,#ffb500 97.0px,#ffb400 100.0px,#ffb200 103.0px,#ffaf00 106.0px,#ffac00 109.0px,#ffaa00 112.0px,#ffaa00 115.0px,#ffab00 118.0px,#ffae00 121.0px,#ffb200 124.0px,#ffb600 127.0px,#ffba00 130.0px,#ffbe00 133.0px,#ffc200 136.0px,#ffc500 139.0px,#ffca00 142.0px,#feff01 145.0px,#d9ff26 147.1px)"></div>
<div style="left:48.9px;top:60.70px;width:147.1px;height:2.60px;background:linear-gradient(90deg,#000095 0.0px,#0000bb 0.8px,#0000e2 1.5px,#0009ff 2.2px,#0029ff 3.0px,#0049ff 3.8px,#0053ff 4.0px,#008aff 5.2px,#00d7ff 6.5px,#22ffdd 7.8px,#69ff96 9.0px,#b0ff4f 10.2px,#dcff23 11.5px,#fff000 12.8px,#ffb600 14.0px,#ff9200 15.2px,#ff7b00 16.5px,#ff5f00 17.8px,#ff3e00 19.0px,#ff2200 20.0px,#ee0000 22.0px,#d00000 24.0px,#ce0000 26.0px,#dd0000 28.0px,#f60000 30.0px,#ff1600 32.0px,#ff3300 34.0px,#ff4c00 36.0px,#ff6000 38.0px,#ff7100 40.0px,#ff8d00 43.0px,#ffb800 46.0px,#ffd300 49.0px,#ffc600 52.0px,#ffb900 55.0px,#ffb000 58.0px,#ffa100 61.0px,#ff9300 64.0px,#ff9000 67.0px,#ff9d00 70.0px,#ffb500 73.0px,#ffd400 76.0px,#ffdd00 79.0px,#ffca00 82.0px,#ffbd00 85.0px,#ffb800 88.0px,#ffb600 91.0px,#ffb600 94.0px,#ffb400 97.0px,#ffb200 100.0px,#ffb000 103.0px,#ffad00 106.0px,#ffaa00 109.0px,#ffa800 112.0px,#ffa700 115.0px,#ffa900 118.0px,#ffab00 121.0px,#ffaf00 124.0px,#ffb300 127.0px,#ffb800 130.0px,#ffbc00 133.0px,#ffbf00 136.0px,#ffc200 139.0px,#ffc700 142.0px,#fffd00 145.0px,#dcff23 147.1px)"></div>
<div style="left:48.9px;top:62.69px;width:147.1px;height:2.60px;background:linear-gradient(90deg,#000095 0.0px,#0000bb 0.8px,#0000e2 1.5px,#0009ff 2.2px,#0029ff 3.0px,#0049ff 3.8px,#0053ff 4.0px,#008aff 5.2px,#00d7ff 6.5px,#22ffdd 7.8px,#69ff96 9.0px,#b0ff4f 10.2px,#dcff23 11.5px,#fff000 12.8px,#ffb600 14.0px,#ff9400 15.2px,#ff7e00 16.5px,#ff6200 17.8px,#ff4200 19.0px,#ff2700 20.0px,#f30000 22.0px,#d50000 24.0px,#d30000 26.0px,#e10000 28.0px,#fa0000 30.0px,#ff1800 32.0px,#ff3500 34.0px,#ff4e00 36.0px,#ff6200 38.0px,#ff7200 40.0px,#ff8e00 43.0px,#ffb900 46.0px,#ffd300 49.0px,#ffc600 52.0px,#ffb900 55.0px,#ffb000 58.0px,#ffa200 61.0px,#ff9300 64.0px,#ff9000 67.0px,#ff9d00 70.0px,#ffb500 73.0px,#ffd400 76.0px,#ffdd00 79.0px,#ffca00 82.0px,#ffbd00 85.0px,#ffb700 88.0px,#ffb500 91.0px,#ffb500 94.0px,#ffb300 97.0px,#ffb100 100.0px,#ffaf00 103.0px,#ffab00 106.0px,#ffa800 109.0px,#ffa500 112.0px,#ffa500 115.0px,#ffa600 118.0px,#ffa900 121.0px,#ffad00 124.0px,#ffb100 127.0px,#ffb600 130.0px,#ffba00 133.0px,#ffbd00 136.0px,#ffc000 139.0px,#ffc500 142.0px,#fffb00 145.0px,#dfff20 147.1px)"></div>
<div style="left:48.9px;top:64.69px;width:147.1px;height:2.60px;background:linear-gradient(90deg,#000095 0.0px,#0000bb 0.8px,#0000e2 1.5px,#0009ff 2.2px,#0029ff 3.0px,#0049ff 3.8px,#0053ff 4.0px,#008aff 5.2px,#00d7ff 6.5px,#22ffdd 7.8px,#69ff96 9.0px,#b0ff4f 10.2px,#dcff23 11.5px,#fff000 12.8px,#ffb600 14.0px,#ff9600 15.2px,#ff8100 16.5px,#ff6600 17.8px,#ff4600 19.0px,#ff2c00 20.0px,#f90000 22.0px,#da0000 24.0px,#d80000 26.0px,#e50000 28.0px,#fd0000 30.0px,#ff1b00 32.0px,#ff3700 34.0px,#ff5000 36.0px,#ff6300 38.0px,#ff7400 40.0px,#ff8f00 43.0px,#ffba00 46.0px,#ffd400 49.0px,#ffc700 52.0px,#ffb900 55.0px,#ffb000 58.0px,#ffa200 61.0px,#ff9400 64.0px,#ff9100 67.0px,#ff9d00 70.0px,#ffb500 73.0px,#ffd500 76.0px,#ffdd00 79.0px,#ffca00 82.0px,#ffbd00 85.0px,#ffb700 88.0px,#ffb400 91.0px,#ffb400 94.0px,#ffb200 97.0px,#ffb000 100.0px,#ffad00 103.0px,#ffa900 106.0px,#ffa500 109.0px,#ffa300 112.0px,#ffa200 115.0px,#ffa300 118.0px,#ffa600 121.0px,#ffaa00 124.0px,#ffaf00 127.0px,#ffb400 130.0px,#ffb800 133.0px,#ffbc00 136.0px,#ffbf00 139.0px,#ffc400 142.0px,#fff900 145.0px,#e1ff1e 147.1px)"></div>
<div style="left:48.9px;top:66.68px;width:147.1px;height:2.60px;background:linear-gradient(90deg,#000095 0.0px,#0000bb 0.8px,#0000e2 1.5px,#0009ff 2.2px,#0029ff 3.0px,#0049ff 3.8px,#0053ff 4.0px,#008aff 5.2px,#00d7ff 6.5px,#22ffdd 7.8px,#69ff96 9.0px,#b0ff4f 10.2px,#dcff23 11.5px,#fff000 12.8px,#ffb600 14.0px,#ff9800 15.2px,#ff8300 16.5px,#ff6900 17.8px,#ff4b00 19.0px,#ff3000 20.0px,#ff0000 22.0px,#e00000 24.0px,#dc0000 26.0px,#e90000 28.0px,#ff0100 30.0px,#ff1e00 32.0px,#ff3a00 34.0px,#ff5200 36.0px,#ff6500 38.0px,#ff7500 40.0px,#ff9000 43.0px,#ffbb00 46.0px,#ffd500 49.0px,#ffc700 52.0px,#ffb900 55.0px,#ffb100 58.0px,#ffa200 61.0px,#ff9500 64.0px,#ff9200 67.0px,#ff9e00 70.0px,#ffb600 73.0px,#ffd500 76.0px,#ffdd00 79.0px,#ffca00 82.0px,#ffbc00 85.0px,#ffb600 88.0px,#ffb300 91.0px,#ffb300 94.0px,#ffb100 97.0px,#ffaf00 100.0px,#ffac00 103.0px,#ffa700 106.0px,#ffa300 109.0px,#ffa000 112.0px,#ffa000 115.0px,#ffa100 118.0px,#ffa400 121.0px,#ffa800 124.0px,#ffad00 127.0px,#ffb200 130.0px,#ffb700 133.0px,#ffbb00 136.0px,#ffbd00 139.0px,#ffc200 142.0px,#fff700 145.0px,#e2ff1d 147.1px)"></div>
<div style="left:48.9px;top:68.68px;width:147.1px;height:2.60px;background:linear-gradient(90deg,#000095 0.0px,#0000bb 0.8px,#0000e2 1.5px,#0009ff 2.2px,#0029ff 3.0px,#0049ff 3.8px,#0053ff 4.0px,#008aff 5.2px,#00d7ff 6.5px,#22ffdd 7.8px,#69ff96 9.0px,#b0ff4f 10.2px,#dcff23 11.5px,#fff000 12.8px,#ffb600 14.0px,#ff9900 15.2px,#ff8500 16.5px,#ff6c00 17.8px,#ff4e00 19.0px,#ff3400 20.0px,#ff0400 22.0px,#e40000 24.0px,#e00000 26.0px,#ec0000 28.0px,#ff0400 30.0px,#ff1f00 32.0px,#ff3b00 34.0px,#ff5300 36.0px,#ff6600 38.0px,#ff7600 40.0px,#ff9100 43.0px,#ffbc00 46.0px,#ffd500 49.0px,#ffc700 52.0px,#ffb900 55.0px,#ffb100 58.0px,#ffa300 61.0px,#ff9500 64.0px,#ff9300 67.0px,#ff9f00 70.0px,#ffb600 73.0px,#ffd500 76.0px,#ffdd00 79.0px,#ffca00 82.0px,#ffbc00 85.0px,#ffb500 88.0px,#ffb200 91.0px,#ffb200 94.0px,#ffaf00 97.0px,#ffad00 100.0px,#ffaa00 103.0px,#ffa600 106.0px,#ffa100 109.0px,#ff9e00 112.0px,#ff9d00 115.0px,#ff9e00 118.0px,#ffa200 121.0px,#ffa600 124.0px,#ffac00 127.0px,#ffb100 130.0px,#ffb600 133.0px,#ffba00 136.0px,#ffbc00 139.0px,#ffc100 142.0px,#fff700 145.0px,#e3ff1c 147.1px)"></div>
<div style="left:48.9px;top:70.67px;width:147.1px;height:2.60px;background:linear-gradient(90deg,#000095 0.0px,#0000bb 0.8px,#0000e2 1.5px,#0009ff 2.2px,#0029ff 3.0px,#0049ff 3.8px,#0053ff 4.0px,#008aff 5.2px,#00d7ff 6.5px,#22ffdd 7.8px,#69ff96 9.0px,#b0ff4f 10.2px,#dcff23 11.5px,#fff000 12.8px,#ffb600 14.0px,#ff9a00 15.2px,#ff8700 16.5px,#ff6e00 17.8px,#ff5100 19.0px,#ff3800 20.0px,#ff0800 22.0px,#e70000 24.0px,#e20000 26.0px,#ee0000 28.0px,#ff0500 30.0px,#ff2100 32.0px,#ff3c00 34.0px,#ff5400 36.0px,#ff6700 38.0px,#ff7700 40.0px,#ff9200 43.0px,#ffbd00 46.0px,#ffd600 49.0px,#ffc800 52.0px,#ffba00 55.0px,#ffb100 58.0px,#ffa400 61.0px,#ff9700 64.0px,#ff9400 67.0px,#ffa000 70.0px,#ffb700 73.0px,#ffd500 76.0px,#ffde00 79.0px,#ffca00 82.0px,#ffbc00 85.0px,#ffb500 88.0px,#ffb100 91.0px,#ffb100 94.0px,#ffae00 97.0px,#ffac00 100.0px,#ffa900 103.0px,#ffa400 106.0px,#ff9f00 109.0px,#ff9c00 112.0px,#ff9b00 115.0px,#ff9c00 118.0px,#ffa000 121.0px,#ffa500 124.0px,#ffaa00 127.0px,#ffb000 130.0px,#ffb500 133.0px,#ffb900 136.0px,#ffbc00 139.0px,#ffc100 142.0px,#fff600 145.0px,#e4ff1b 147.1px)"></div>
<div style="left:48.9px;top:72.67px;width:147.1px;height:2.60px;background:linear-gradient(90deg,#000095 0.0px,#0000bb 0.8px,#0000e2 1.5px,#0009ff 2.2px,#0029ff 3.0px,#0049ff 3.8px,#0053ff 4.0px,#008aff 5.2px,#00d7ff 6.5px,#22ffdd 7.8px,#69ff96 9.0px,#b0ff4f 10.2px,#dcff23 11.5px,#fff000 12.8px,#ffb600 14.0px,#ff9c00 15.2px,#ff8900 16.5px,#ff7100 17.8px,#ff5400 19.0px,#ff3b00 20.0px,#ff0b00 22.0px,#ea0000 24.0px,#e50000 26.0px,#f00000 28.0px,#ff0700 30.0px,#ff2200 32.0px,#ff3d00 34.0px,#ff5500 36.0px,#ff6800 38.0px,#ff7800 40.0px,#ff9300 43.0px,#ffbe00 46.0px,#ffd700 49.0px,#ffc800 52.0px,#ffba00 55.0px,#ffb200 58.0px,#ffa500 61.0px,#ff9800 64.0px,#ff9500 67.0px,#ffa100 70.0px,#ffb700 73.0px,#ffd600 76.0px,#ffde00 79.0px,#ffca00 82.0px,#ffbc00 85.0px,#ffb400 88.0px,#ffb000 91.0px,#ffb000 94.0px,#ffad00 97.0px,#ffab00 100.0px,#ffa800 103.0px,#ffa300 106.0px,#ff9e00 109.0px,#ff9a00 112.0px,#ff9900 115.0px,#ff9a00 118.0px,#ff9e00 121.0px,#ffa300 124.0px,#ffa900 127.0px,#ffaf00 130.0px,#ffb400 133.0px,#ffb800 136.0px,#ffbb00 139.0px,#ffc000 142.0px,#fff500 145.0px,#e4ff1b 147.1px)"></div>
<div style="left:48.9px;top:74.67px;width:147.1px;height:2.60px;background:linear-gradient(90deg,#000095 0.0px,#0000bb 0.8px,#0000e2 1.5px,#0009ff 2.2px,#0029ff 3.0px,#0049ff 3.8px,#0053ff 4.0px,#008aff 5.2px,#00d7ff 6.5px,#22ffdd 7.8px,#69ff96 9.0px,#b0ff4f 10.2px,#dcff23 11.5px,#fff000 12.8px,#ffb600 14.0px,#ff9d00 15.2px,#ff8b00 16.5px,#ff7300 17.8px,#ff5700 19.0px,#ff3e00 20.0px,#ff0f00 22.0px,#ee0000 24.0px,#e80000 26.0px,#f20000 28.0px,#ff0900 30.0px,#ff2400 32.0px,#ff3f00 34.0px,#ff5600 36.0px,#ff6a00 38.0px,#ff7a00 40.0px,#ff9400 43.0px,#ffbe00 46.0px,#ffd700 49.0px,#ffc800 52.0px,#ffba00 55.0px,#ffb200 58.0px,#ffa500 61.0px,#ff9900 64.0px,#ff9700 67.0px,#ffa200 70.0px,#ffb800 73.0px,#ffd600 76.0px,#ffde00 79.0px,#ffca00 82.0px,#ffbb00 85.0px,#ffb400 88.0px,#ffb000 91.0px,#ffaf00 94.0px,#ffad00 97.0px,#ffaa00 100.0px,#ffa700 103.0px,#ffa100 106.0px,#ff9c00 109.0px,#ff9900 112.0px,#ff9700 115.0px,#ff9900 118.0px,#ff9d00 121.0px,#ffa200 124.0px,#ffa800 127.0px,#ffae00 130.0px,#ffb300 133.0px,#ffb800 136.0px,#ffbb00 139.0px,#ffc000 142.0px,#fff500 145.0px,#e5ff1a 147.1px)"></div>
<div style="left:48.9px;top:76.66px;width:147.1px;height:2.60px;background:linear-gradient(90deg,#000095 0.0px,#0000bb 0.8px,#0000e2 1.5px,#0009ff 2.2px,#0029ff 3.0px,#0049ff 3.8px,#0053ff 4.0px,#008aff 5.2px,#00d7ff 6.5px,#22ffdd 7.8px,#69ff96 9.0px,#b0ff4f 10.2px,#dcff23 11.5px,#fff000 12.8px,#ffb600 14.0px,#ff9e00 15.2px,#ff8c00 16.5px,#ff7500 17.8px,#ff5900 19.0px,#ff4100 20.0px,#ff1200 22.0px,#f10000 24.0px,#ea0000 26.0px,#f40000 28.0px,#ff0a00 30.0px,#ff2500 32.0px,#ff4000 34.0px,#ff5800 36.0px,#ff6b00 38.0px,#ff7b00 40.0px,#ff9600 43.0px,#ffbf00 46.0px,#ffd800 49.0px,#ffc900 52.0px,#ffba00 55.0px,#ffb200 58.0px,#ffa600 61.0px,#ff9a00 64.0px,#ff9800 67.0px,#ffa300 70.0px,#ffb800 73.0px,#ffd600 76.0px,#ffde00 79.0px,#ffca00 82.0px,#ffbb00 85.0px,#ffb300 88.0px,#ffaf00 91.0px,#ffae00 94.0px,#ffac00 97.0px,#ffaa00 100.0px,#ffa600 103.0px,#ffa000 106.0px,#ff9b00 109.0px,#ff9700 112.0px,#ff9600 115.0px,#ff9700 118.0px,#ff9b00 121.0px,#ffa100 124.0px,#ffa700 127.0px,#ffad00 130.0px,#ffb300 133.0px,#ffb700 136.0px,#ffba00 139.0px,#ffc000 142.0px,#fff500 145.0px,#e5ff1a 147.1px)"></div>
<div style="left:48.9px;top:78.66px;width:147.1px;height:2.60px;background:linear-gradient(90deg,#000095 0.0px,#0000bb 0.8px,#0000e2 1.5px,#0009ff 2.2px,#0029ff 3.0px,#0049ff 3.8px,#0053ff 4.0px,#008aff 5.2px,#00d7ff 6.5px,#22ffdd 7.8px,#69ff96 9.0px,#b0ff4f 10.2px,#dcff23 11.5px,#fff000 12.8px,#ffb600 14.0px,#ff9f00 15.2px,#ff8e00 16.5px,#ff7700 17.8px,#ff5c00 19.0px,#ff4400 20.0px,#ff1600 22.0px,#f40000 24.0px,#ed0000 26.0px,#f60000 28.0px,#ff0c00 30.0px,#ff2600 32.0px,#ff4100 34.0px,#ff5900 36.0px,#ff6c00 38.0px,#ff7c00 40.0px,#ff9700 43.0px,#ffc000 46.0px,#ffd900 49.0px,#ffc900 52.0px,#ffbb00 55.0px,#ffb300 58.0px,#ffa700 61.0px,#ff9c00 64.0px,#ff9a00 67.0px,#ffa400 70.0px,#ffb900 73.0px,#ffd700 76.0px,#ffde00 79.0px,#ffca00 82.0px,#ffbb00 85.0px,#ffb300 88.0px,#ffae00 91.0px,#ffae00 94.0px,#ffab00 97.0px,#ffa900 100.0px,#ffa500 103.0px,#ffa000 106.0px,#ff9a00 109.0px,#ff9600 112.0px,#ff9500 115.0px,#ff9600 118.0px,#ff9a00 121.0px,#ffa000 124.0px,#ffa600 127.0px,#ffad00 130.0px,#ffb200 133.0px,#ffb700 136.0px,#ffba00 139.0px,#ffbf00 142.0px,#fff400 145.0px,#e5ff1a 147.1px)"></div>
<div style="left:48.9px;top:80.65px;width:147.1px;height:2.60px;background:linear-gradient(90deg,#000095 0.0px,#0000bb 0.8px,#0000e2 1.5px,#0009ff 2.2px,#0029ff 3.0px,#0049ff 3.8px,#0053ff 4.0px,#008aff 5.2px,#00d7ff 6.5px,#22ffdd 7.8px,#69ff96 9.0px,#b0ff4f 10.2px,#dcff23 11.5px,#fff000 12.8px,#ffb600 14.0px,#ffa000 15.2px,#ff9000 16.5px,#ff7a00 17.8px,#ff5f00 19.0px,#ff4800 20.0px,#ff1a00 22.0px,#f80000 24.0px,#f00000 26.0px,#f90000 28.0px,#ff0e00 30.0px,#ff2800 32.0px,#ff4200 34.0px,#ff5a00 36.0px,#ff6d00 38.0px,#ff7d00 40.0px,#ff9800 43.0px,#ffc100 46.0px,#ffda00 49.0px,#ffc900 52.0px,#ffbb00 55.0px,#ffb300 58.0px,#ffa800 61.0px,#ff9d00 64.0px,#ff9b00 67.0px,#ffa500 70.0px,#ffba00 73.0px,#ffd700 76.0px,#ffde00 79.0px,#ffca00 82.0px,#ffbb00 85.0px,#ffb300 88.0px,#ffae00 91.0px,#ffad00 94.0px,#ffab00 97.0px,#ffa900 100.0px,#ffa500 103.0px,#ff9f00 106.0px,#ff9900 109.0px,#ff9500 112.0px,#ff9400 115.0px,#ff9500 118.0px,#ff9900 121.0px,#ff9f00 124.0px,#ffa600 127.0px,#ffac00 130.0px,#ffb200 133.0px,#ffb700 136.0px,#ffba00 139.0px,#ffbf00 142.0px,#fff400 145.0px,#e5ff1a 147.1px)"></div>
<div style="left:48.9px;top:82.65px;width:147.1px;height:2.60px;background:linear-gradient(90deg,#000095 0.0px,#0000bb 0.8px,#0000e2 1.5px,#0009ff 2.2px,#0029ff 3.0px,#0049ff 3.8px,#0053ff 4.0px,#008aff 5.2px,#00d7ff 6.5px,#22ffdd 7.8px,#69ff96 9.0px,#b0ff4f 10.2px,#dcff23 11.5px,#fff000 12.8px,#ffb600 14.0px,#ffa100 15.2px,#ff9100 16.5px,#ff7c00 17.8px,#ff6200 19.0px,#ff4b00 20.0px,#ff1d00 22.0px,#fb0000 24.0px,#f20000 26.0px,#fb0000 28.0px,#ff1000 30.0px,#ff2900 32.0px,#ff4400 34.0px,#ff5b00 36.0px,#ff6e00 38.0px,#ff7e00 40.0px,#ff9900 43.0px,#ffc200 46.0px,#ffda00 49.0px,#ffca00 52.0px,#ffbb00 55.0px,#ffb400 58.0px,#ffa900 61.0px,#ff9f00 64.0px,#ff9d00 67.0px,#ffa600 70.0px,#ffba00 73.0px,#ffd700 76.0px,#ffdf00 79.0px,#ffca00 82.0px,#ffbb00 85.0px,#ffb200 88.0px,#ffae00 91.0px,#ffad00 94.0px,#ffab00 97.0px,#ffa800 100.0px,#ffa400 103.0px,#ff9f00 106.0px,#ff9900 109.0px,#ff9500 112.0px,#ff9300 115.0px,#ff9500 118.0px,#ff9900 121.0px,#ff9f00 124.0px,#ffa600 127.0px,#ffac00 130.0px,#ffb200 133.0px,#ffb600 136.0px,#ffba00 139.0px,#ffbf00 142.0px,#fff400 145.0px,#e5ff1a 147.1px)"></div>
<div style="left:48.9px;top:84.65px;width:147.1px;height:2.60px;background:linear-gradient(90deg,#000095 0.0px,#0000bb 0.8px,#0000e2 1.5px,#0009ff 2.2px,#0029ff 3.0px,#0049ff 3.8px,#0053ff 4.0px,#008aff 5.2px,#00d7ff 6.5px,#22ffdd 7.8px,#69ff96 9.0px,#b0ff4f 10.2px,#dcff23 11.5px,#fff000 12.8px,#ffb600 14.0px,#ffa200 15.2px,#ff9300 16.5px,#ff7e00 17.8px,#ff6400 19.0px,#ff4e00 20.0px,#ff2100 22.0px,#fe0000 24.0px,#f50000 26.0px,#fd0000 28.0px,#ff1100 30.0px,#ff2b00 32.0px,#ff4500 34.0px,#ff5c00 36.0px,#ff6f00 38.0px,#ff7f00 40.0px,#ff9a00 43.0px,#ffc300 46.0px,#ffdb00 49.0px,#ffca00 52.0px,#ffbb00 55.0px,#ffb400 58.0px,#ffaa00 61.0px,#ffa100 64.0px,#ff9f00 67.0px,#ffa800 70.0px,#ffbb00 73.0px,#ffd800 76.0px,#ffdf00 79.0px,#ffca00 82.0px,#ffbb00 85.0px,#ffb200 88.0px,#ffae00 91.0px,#ffad00 94.0px,#ffab00 97.0px,#ffa800 100.0px,#ffa400 103.0px,#ff9e00 106.0px,#ff9900 109.0px,#ff9500 112.0px,#ff9300 115.0px,#ff9500 118.0px,#ff9900 121.0px,#ff9f00 124.0px,#ffa500 127.0px,#ffac00 130.0px,#ffb200 133.0px,#ffb600 136.0px,#ffba00 139.0px,#ffbf00 142.0px,#fff400 145.0px,#e5ff1a 147.1px)"></div>
<div style="left:48.9px;top:86.64px;width:147.1px;height:2.60px;background:linear-gradient(90deg,#000095 0.0px,#0000bb 0.8px,#0000e2 1.5px,#0009ff 2.2px,#0029ff 3.0px,#0049ff 3.8px,#0053ff 4.0px,#008aff 5.2px,#00d7ff 6.5px,#22ffdd 7.8px,#69ff96 9.0px,#b0ff4f 10.2px,#dcff23 11.5px,#fff000 12.8px,#ffb600 14.0px,#ffa400 15.2px,#ff9400 16.5px,#ff8000 17.8px,#ff6700 19.0px,#ff5100 20.0px,#ff2400 22.0px,#ff0300 24.0px,#f80000 26.0px,#ff0000 28.0px,#ff1300 30.0px,#ff2c00 32.0px,#ff4600 34.0px,#ff5d00 36.0px,#ff7100 38.0px,#ff8000 40.0px,#ff9b00 43.0px,#ffc400 46.0px,#ffdc00 49.0px,#ffcb00 52.0px,#ffbc00 55.0px,#ffb500 58.0px,#ffac00 61.0px,#ffa200 64.0px,#ffa000 67.0px,#ffa900 70.0px,#ffbc00 73.0px,#ffd800 76.0px,#ffdf00 79.0px,#ffca00 82.0px,#ffbb00 85.0px,#ffb200 88.0px,#ffae00 91.0px,#ffae00 94.0px,#ffab00 97.0px,#ffa800 100.0px,#ffa400 103.0px,#ff9f00 106.0px,#ff9900 109.0px,#ff9500 112.0px,#ff9400 115.0px,#ff9500 118.0px,#ff9900 121.0px,#ff9f00 124.0px,#ffa600 127.0px,#ffac00 130.0px,#ffb200 133.0px,#ffb600 136.0px,#ffba00 139.0px,#ffbf00 142.0px,#fff400 145.0px,#e5ff1a 147.1px)"></div>
<div style="left:48.9px;top:88.64px;width:147.1px;height:2.60px;background:linear-gradient(90deg,#000095 0.0px,#0000bb 0.8px,#0000e2 1.5px,#0009ff 2.2px,#0029ff 3.0px,#0049ff 3.8px,#0053ff 4.0px,#008aff 5.2px,#00d7ff 6.5px,#22ffdd 7.8px,#69ff96 9.0px,#b0ff4f 10.2px,#dcff23 11.5px,#fff000 12.8px,#ffb600 14.0px,#ffa500 15.2px,#ff9600 16.5px,#ff8200 17.8px,#ff6900 19.0px,#ff5400 20.0px,#ff2800 22.0px,#ff0600 24.0px,#fb0000 26.0px,#ff0300 28.0px,#ff1500 30.0px,#ff2e00 32.0px,#ff4700 34.0px,#ff5f00 36.0px,#ff7200 38.0px,#ff8200 40.0px,#ff9c00 43.0px,#ffc500 46.0px,#ffdd00 49.0px,#ffcb00 52.0px,#ffbc00 55.0px,#ffb600 58.0px,#ffad00 61.0px,#ffa400 64.0px,#ffa200 67.0px,#ffaa00 70.0px,#ffbc00 73.0px,#ffd900 76.0px,#ffe000 79.0px,#ffca00 82.0px,#ffbb00 85.0px,#ffb200 88.0px,#ffae00 91.0px,#ffae00 94.0px,#ffab00 97.0px,#ffa900 100.0px,#ffa500 103.0px,#ff9f00 106.0px,#ff9900 109.0px,#ff9500 112.0px,#ff9400 115.0px,#ff9500 118.0px,#ff9900 121.0px,#ff9f00 124.0px,#ffa600 127.0px,#ffac00 130.0px,#ffb200 133.0px,#ffb600 136.0px,#ffba00 139.0px,#ffbf00 142.0px,#fff400 145.0px,#e5ff1a 147.1px)"></div>
<div style="left:48.9px;top:90.63px;width:147.1px;height:2.60px;background:linear-gradient(90deg,#000095 0.0px,#0000bb 0.8px,#0000e2 1.5px,#0009ff 2.2px,#0029ff 3.0px,#0049ff 3.8px,#0053ff 4.0px,#008aff 5.2px,#00d7ff 6.5px,#22ffdd 7.8px,#69ff96 9.0px,#b0ff4f 10.2px,#dcff23 11.5px,#fff000 12.8px,#ffb600 14.0px,#ffa600 15.2px,#ff9700 16.5px,#ff8400 17.8px,#ff6c00 19.0px,#ff5700 20.0px,#ff2c00 22.0px,#ff0b00 24.0px,#fe0000 26.0px,#ff0600 28.0px,#ff1800 30.0px,#ff3000 32.0px,#ff4900 34.0px,#ff6000 36.0px,#ff7300 38.0px,#ff8300 40.0px,#ff9d00 43.0px,#ffc600 46.0px,#ffde00 49.0px,#ffcc00 52.0px,#ffbc00 55.0px,#ffb600 58.0px,#ffae00 61.0px,#ffa500 64.0px,#ffa400 67.0px,#ffac00 70.0px,#ffbd00 73.0px,#ffd900 76.0px,#ffe000 79.0px,#ffca00 82.0px,#ffbb00 85.0px,#ffb200 88.0px,#ffaf00 91.0px,#ffaf00 94.0px,#ffab00 97.0px,#ffa900 100.0px,#ffa500 103.0px,#ffa000 106.0px,#ff9a00 109.0px,#ff9600 112.0px,#ff9500 115.0px,#ff9600 118.0px,#ff9a00 121.0px,#ffa000 124.0px,#ffa600 127.0px,#ffad00 130.0px,#ffb200 133.0px,#ffb700 136.0px,#ffba00 139.0px,#ffbf00 142.0px,#fff400 145.0px,#e5ff1a 147.1px)"></div>
<div style="left:48.9px;top:92.63px;width:147.1px;height:2.60px;background:linear-gradient(90deg,#000095 0.0px,#0000bb 0.8px,#0000e2 1.5px,#0009ff 2.2px,#0029ff 3.0px,#0049ff 3.8px,#0053ff 4.0px,#008aff 5.2px,#00d7ff 6.5px,#22ffdd 7.8px,#69ff96 9.0px,#b0ff4f 10.2px,#dcff23 11.5px,#fff000 12.8px,#ffb600 14.0px,#ffa700 15.2px,#ff9900 16.5px,#ff8600 17.8px,#ff6f00 19.0px,#ff5b00 20.0px,#ff3000 22.0px,#ff0f00 24.0px,#ff0300 26.0px,#ff0900 28.0px,#ff1b00 30.0px,#ff3200 32.0px,#ff4b00 34.0px,#ff6200 36.0px,#ff7500 38.0px,#ff8400 40.0px,#ff9e00 43.0px,#ffc700 46.0px,#ffdf00 49.0px,#ffcc00 52.0px,#ffbd00 55.0px,#ffb700 58.0px,#ffaf00 61.0px,#ffa700 64.0px,#ffa600 67.0px,#ffad00 70.0px,#ffbe00 73.0px,#ffda00 76.0px,#ffe000 79.0px,#ffca00 82.0px,#ffbb00 85.0px,#ffb300 88.0px,#ffaf00 91.0px,#ffb000 94.0px,#ffac00 97.0px,#ffaa00 100.0px,#ffa600 103.0px,#ffa000 106.0px,#ff9b00 109.0px,#ff9700 112.0px,#ff9600 115.0px,#ff9700 118.0px,#ff9b00 121.0px,#ffa100 124.0px,#ffa700 127.0px,#ffad00 130.0px,#ffb300 133.0px,#ffb700 136.0px,#ffba00 139.0px,#ffbf00 142.0px,#fff400 145.0px,#e5ff1a 147.1px)"></div>
<div style="left:48.9px;top:94.62px;width:147.1px;height:2.60px;background:linear-gradient(90deg,#000095 0.0px,#0000bb 0.8px,#0000e2 1.5px,#0009ff 2.2px,#0029ff 3.0px,#0049ff 3.8px,#0053ff 4.0px,#008aff 5.2px,#00d7ff 6.5px,#22ffdd 7.8px,#69ff96 9.0px,#b0ff4f 10.2px,#dcff23 11.5px,#fff000 12.8px,#ffb600 14.0px,#ffa800 15.2px,#ff9a00 16.5px,#ff8900 17.8px,#ff7200 19.0px,#ff5e00 20.0px,#ff3400 22.0px,#ff1300 24.0px,#ff0700 26.0px,#ff0d00 28.0px,#ff1d00 30.0px,#ff3500 32.0px,#ff4d00 34.0px,#ff6400 36.0px,#ff7600 38.0px,#ff8600 40.0px,#ff9f00 43.0px,#ffc800 46.0px,#ffdf00 49.0px,#ffcc00 52.0px,#ffbd00 55.0px,#ffb700 58.0px,#ffb000 61.0px,#ffa900 64.0px,#ffa700 67.0px,#ffae00 70.0px,#ffbf00 73.0px,#ffda00 76.0px,#ffe000 79.0px,#ffca00 82.0px,#ffbb00 85.0px,#ffb300 88.0px,#ffb000 91.0px,#ffb100 94.0px,#ffad00 97.0px,#ffaa00 100.0px,#ffa700 103.0px,#ffa200 106.0px,#ff9c00 109.0px,#ff9900 112.0px,#ff9700 115.0px,#ff9900 118.0px,#ff9c00 121.0px,#ffa200 124.0px,#ffa800 127.0px,#ffae00 130.0px,#ffb300 133.0px,#ffb700 136.0px,#ffba00 139.0px,#ffbf00 142.0px,#fff400 145.0px,#e5ff1a 147.1px)"></div>
<div style="left:48.9px;top:96.62px;width:147.1px;height:2.60px;background:linear-gradient(90deg,#000095 0.0px,#0000bb 0.8px,#0000e2 1.5px,#0009ff 2.2px,#0029ff 3.0px,#0049ff 3.8px,#0053ff 4.0px,#008aff 5.2px,#00d7ff 6.5px,#22ffdd 7.8px,#69ff96 9.0px,#b0ff4f 10.2px,#dcff23 11.5px,#fff000 12.8px,#ffb600 14.0px,#ffa900 15.2px,#ff9c00 16.5px,#ff8b00 17.8px,#ff7500 19.0px,#ff6100 20.0px,#ff3800 22.0px,#ff1800 24.0px,#ff0b00 26.0px,#ff1000 28.0px,#ff2000 30.0px,#ff3700 32.0px,#ff4f00 34.0px,#ff6500 36.0px,#ff7800 38.0px,#ff8700 40.0px,#ffa000 43.0px,#ffc900 46.0px,#ffe000 49.0px,#ffcd00 52.0px,#ffbd00 55.0px,#ffb800 58.0px,#ffb100 61.0px,#ffaa00 64.0px,#ffa900 67.0px,#ffaf00 70.0px,#ffbf00 73.0px,#ffdb00 76.0px,#ffe100 79.0px,#ffcb00 82.0px,#ffbb00 85.0px,#ffb400 88.0px,#ffb100 91.0px,#ffb200 94.0px,#ffae00 97.0px,#ffac00 100.0px,#ffa800 103.0px,#ffa300 106.0px,#ff9e00 109.0px,#ff9b00 112.0px,#ff9a00 115.0px,#ff9b00 118.0px,#ff9f00 121.0px,#ffa400 124.0px,#ffa900 127.0px,#ffaf00 130.0px,#ffb400 133.0px,#ffb800 136.0px,#ffbb00 139.0px,#ffc000 142.0px,#fff500 145.0px,#e5ff1a 147.1px)"></div>
<div style="left:48.9px;top:98.62px;width:147.1px;height:2.60px;background:linear-gradient(90deg,#000095 0.0px,#0000bb 0.8px,#0000e2 1.5px,#0009ff 2.2px,#0029ff 3.0px,#0049ff 3.8px,#0053ff 4.0px,#008aff 5.2px,#00d7ff 6.5px,#22ffdd 7.8px,#69ff96 9.0px,#b0ff4f 10.2px,#dcff23 11.5px,#fff000 12.8px,#ffb600 14.0px,#ffaa00 15.2px,#ff9d00 16.5px,#ff8d00 17.8px,#ff7800 19.0px,#ff6500 20.0px,#ff3d00 22.0px,#ff1c00 24.0px,#ff0f00 26.0px,#ff1400 28.0px,#ff2300 30.0px,#ff3900 32.0px,#ff5100 34.0px,#ff6700 36.0px,#ff7900 38.0px,#ff8800 40.0px,#ffa100 43.0px,#ffca00 46.0px,#ffe100 49.0px,#ffcd00 52.0px,#ffbd00 55.0px,#ffb800 58.0px,#ffb200 61.0px,#ffac00 64.0px,#ffab00 67.0px,#ffb100 70.0px,#ffc000 73.0px,#ffdb00 76.0px,#ffe100 79.0px,#ffcb00 82.0px,#ffbc00 85.0px,#ffb500 88.0px,#ffb300 91.0px,#ffb500 94.0px,#ffb100 97.0px,#ffaf00 100.0px,#ffac00 103.0px,#ffa700 106.0px,#ffa200 109.0px,#ff9f00 112.0px,#ff9e00 115.0px,#ff9f00 118.0px,#ffa200 121.0px,#ffa700 124.0px,#ffad00 127.0px,#ffb200 130.0px,#ffb700 133.0px,#ffba00 136.0px,#ffbd00 139.0px,#ffc200 142.0px,#fff700 145.0px,#e3ff1c 147.1px)"></div>
<div style="left:48.9px;top:100.61px;width:147.1px;height:2.60px;background:linear-gradient(90deg,#000095 0.0px,#0000bb 0.8px,#0000e2 1.5px,#0009ff 2.2px,#0029ff 3.0px,#0049ff 3.8px,#0053ff 4.0px,#008aff 5.2px,#00d7ff 6.5px,#22ffdd 7.8px,#69ff96 9.0px,#b0ff4f 10.2px,#dcff23 11.5px,#fff000 12.8px,#ffb600 14.0px,#ffab00 15.2px,#ff9f00 16.5px,#ff8f00 17.8px,#ff7b00 19.0px,#ff6800 20.0px,#ff4100 22.0px,#ff2100 24.0px,#ff1300 26.0px,#ff1700 28.0px,#ff2600 30.0px,#ff3b00 32.0px,#ff5300 34.0px,#ff6800 36.0px,#ff7a00 38.0px,#ff8900 40.0px,#ffa200 43.0px,#ffcb00 46.0px,#ffe200 49.0px,#ffce00 52.0px,#ffbe00 55.0px,#ffb900 58.0px,#ffb300 61.0px,#ffad00 64.0px,#ffac00 67.0px,#ffb200 70.0px,#ffc100 73.0px,#ffdb00 76.0px,#ffe100 79.0px,#ffcb00 82.0px,#ffbd00 85.0px,#ffb600 88.0px,#ffb500 91.0px,#ffb800 94.0px,#ffb400 97.0px,#ffb200 100.0px,#ffaf00 103.0px,#ffab00 106.0px,#ffa600 109.0px,#ffa300 112.0px,#ffa200 115.0px,#ffa300 118.0px,#ffa600 121.0px,#ffab00 124.0px,#ffb000 127.0px,#ffb500 130.0px,#ffb900 133.0px,#ffbd00 136.0px,#ffc000 139.0px,#ffc400 142.0px,#fff900 145.0px,#e1ff1e 147.1px)"></div>
<div style="left:48.9px;top:102.61px;width:147.1px;height:2.60px;background:linear-gradient(90deg,#000095 0.0px,#0000bb 0.8px,#0000e2 1.5px,#0009ff 2.2px,#0029ff 3.0px,#0049ff 3.8px,#0053ff 4.0px,#008aff 5.2px,#00d7ff 6.5px,#22ffdd 7.8px,#69ff96 9.0px,#b0ff4f 10.2px,#dcff23 11.5px,#fff000 12.8px,#ffb600 14.0px,#ffac00 15.2px,#ffa000 16.5px,#ff9100 17.8px,#ff7d00 19.0px,#ff6b00 20.0px,#ff4500 22.0px,#ff2500 24.0px,#ff1700 26.0px,#ff1b00 28.0px,#ff2900 30.0px,#ff3e00 32.0px,#ff5500 34.0px,#ff6a00 36.0px,#ff7b00 38.0px,#ff8a00 40.0px,#ffa300 43.0px,#ffcc00 46.0px,#ffe300 49.0px,#ffce00 52.0px,#ffbe00 55.0px,#ffb900 58.0px,#ffb400 61.0px,#ffaf00 64.0px,#ffae00 67.0px,#ffb300 70.0px,#ffc100 73.0px,#ffdc00 76.0px,#ffe200 79.0px,#ffcc00 82.0px,#ffbd00 85.0px,#ffb700 88.0px,#ffb700 91.0px,#ffba00 94.0px,#ffb700 97.0px,#ffb500 100.0px,#ffb200 103.0px,#ffae00 106.0px,#ffaa00 109.0px,#ffa700 112.0px,#ffa600 115.0px,#ffa700 118.0px,#ffaa00 121.0px,#ffae00 124.0px,#ffb300 127.0px,#ffb800 130.0px,#ffbc00 133.0px,#ffbf00 136.0px,#ffc200 139.0px,#ffc700 142.0px,#fffb00 145.0px,#deff21 147.1px)"></div>
<div style="left:48.9px;top:104.60px;width:147.1px;height:2.60px;background:linear-gradient(90deg,#000095 0.0px,#0000bb 0.8px,#0000e2 1.5px,#0009ff 2.2px,#0029ff 3.0px,#0049ff 3.8px,#0053ff 4.0px,#008aff 5.2px,#00d7ff 6.5px,#22ffdd 7.8px,#69ff96 9.0px,#b0ff4f 10.2px,#dcff23 11.5px,#fff000 12.8px,#ffb600 14.0px,#ffad00 15.2px,#ffa200 16.5px,#ff9300 17.8px,#ff8000 19.0px,#ff6e00 20.0px,#ff4900 22.0px,#ff2900 24.0px,#ff1b00 26.0px,#ff1e00 28.0px,#ff2c00 30.0px,#ff4000 32.0px,#ff5700 34.0px,#ff6b00 36.0px,#ff7d00 38.0px,#ff8b00 40.0px,#ffa400 43.0px,#ffcd00 46.0px,#ffe300 49.0px,#ffce00 52.0px,#ffbe00 55.0px,#ffb900 58.0px,#ffb500 61.0px,#ffb000 64.0px,#ffaf00 67.0px,#ffb400 70.0px,#ffc200 73.0px,#ffdc00 76.0px,#ffe200 79.0px,#ffcc00 82.0px,#ffbe00 85.0px,#ffb900 88.0px,#ffba00 91.0px,#ffbd00 94.0px,#ffba00 97.0px,#ffb800 100.0px,#ffb600 103.0px,#ffb200 106.0px,#ffae00 109.0px,#ffac00 112.0px,#ffab00 115.0px,#ffac00 118.0px,#ffae00 121.0px,#ffb200 124.0px,#ffb700 127.0px,#ffbb00 130.0px,#ffbf00 133.0px,#ffc200 136.0px,#ffc400 139.0px,#ffc900 142.0px,#fffd00 145.0px,#dcff23 147.1px)"></div>
<div style="left:48.9px;top:106.60px;width:147.1px;height:2.60px;background:linear-gradient(90deg,#000095 0.0px,#0000bb 0.8px,#0000e2 1.5px,#0009ff 2.2px,#0029ff 3.0px,#0049ff 3.8px,#0053ff 4.0px,#008aff 5.2px,#00d7ff 6.5px,#22ffdd 7.8px,#69ff96 9.0px,#b0ff4f 10.2px,#dcff23 11.5px,#fff000 12.8px,#ffb600 14.0px,#ffad00 15.2px,#ffa300 16.5px,#ff9500 17.8px,#ff8200 19.0px,#ff7100 20.0px,#ff4d00 22.0px,#ff2e00 24.0px,#ff1f00 26.0px,#ff2200 28.0px,#ff2f00 30.0px,#ff4300 32.0px,#ff5900 34.0px,#ff6d00 36.0px,#ff7e00 38.0px,#ff8c00 40.0px,#ffa500 43.0px,#ffce00 46.0px,#ffe400 49.0px,#ffcf00 52.0px,#ffbe00 55.0px,#ffba00 58.0px,#ffb600 61.0px,#ffb100 64.0px,#ffb100 67.0px,#ffb500 70.0px,#ffc300 73.0px,#ffdd00 76.0px,#ffe200 79.0px,#ffcc00 82.0px,#ffbf00 85.0px,#ffba00 88.0px,#ffbc00 91.0px,#ffc000 94.0px,#ffbd00 97.0px,#ffbb00 100.0px,#ffb900 103.0px,#ffb600 106.0px,#ffb200 109.0px,#ffb000 112.0px,#ffaf00 115.0px,#ffb000 118.0px,#ffb200 121.0px,#ffb600 124.0px,#ffba00 127.0px,#ffbe00 130.0px,#ffc200 133.0px,#ffc400 136.0px,#ffc700 139.0px,#ffcb00 142.0px,#feff01 145.0px,#daff25 147.1px)"></div>
<div style="left:48.9px;top:108.60px;width:147.1px;height:2.60px;background:linear-gradient(90deg,#000095 0.0px,#0000bb 0.8px,#0000e2 1.5px,#0009ff 2.2px,#0029ff 3.0px,#0049ff 3.8px,#0053ff 4.0px,#008aff 5.2px,#00d7ff 6.5px,#22ffdd 7.8px,#69ff96 9.0px,#b0ff4f 10.2px,#dcff23 11.5px,#fff000 12.8px,#ffb600 14.0px,#ffae00 15.2px,#ffa400 16.5px,#ff9600 17.8px,#ff8500 19.0px,#ff7400 20.0px,#ff5000 22.0px,#ff3200 24.0px,#ff2300 26.0px,#ff2500 28.0px,#ff3200 30.0px,#ff4500 32.0px,#ff5a00 34.0px,#ff6e00 36.0px,#ff7f00 38.0px,#ff8d00 40.0px,#ffa600 43.0px,#ffcf00 46.0px,#ffe500 49.0px,#ffcf00 52.0px,#ffbe00 55.0px,#ffba00 58.0px,#ffb600 61.0px,#ffb300 64.0px,#ffb200 67.0px,#ffb600 70.0px,#ffc300 73.0px,#ffdd00 76.0px,#ffe300 79.0px,#ffcd00 82.0px,#ffc000 85.0px,#ffbc00 88.0px,#ffbe00 91.0px,#ffc300 94.0px,#ffc000 97.0px,#ffbe00 100.0px,#ffbd00 103.0px,#ffba00 106.0px,#ffb600 109.0px,#ffb400 112.0px,#ffb300 115.0px,#ffb400 118.0px,#ffb700 121.0px,#ffba00 124.0px,#ffbe00 127.0px,#ffc100 130.0px,#ffc400 133.0px,#ffc700 136.0px,#ffc900 139.0px,#ffcd00 142.0px,#fcff03 145.0px,#d8ff27 147.1px)"></div>
<div style="left:48.9px;top:110.59px;width:147.1px;height:2.60px;background:linear-gradient(90deg,#000095 0.0px,#0000bb 0.8px,#0000e2 1.5px,#0009ff 2.2px,#0029ff 3.0px,#0049ff 3.8px,#0053ff 4.0px,#008aff 5.2px,#00d7ff 6.5px,#22ffdd 7.8px,#69ff96 9.0px,#b0ff4f 10.2px,#dcff23 11.5px,#fff000 12.8px,#ffb600 14.0px,#ffaf00 15.2px,#ffa600 16.5px,#ff9900 17.8px,#ff8800 19.0px,#ff7800 20.0px,#ff5500 22.0px,#ff3700 24.0px,#ff2800 26.0px,#ff2a00 28.0px,#ff3600 30.0px,#ff4800 32.0px,#ff5d00 34.0px,#ff7100 36.0px,#ff8100 38.0px,#ff8f00 40.0px,#ffa700 43.0px,#ffd000 46.0px,#ffe600 49.0px,#ffd000 52.0px,#ffbf00 55.0px,#ffbb00 58.0px,#ffb800 61.0px,#ffb400 64.0px,#ffb400 67.0px,#ffb700 70.0px,#ffc400 73.0px,#ffde00 76.0px,#ffe300 79.0px,#ffcd00 82.0px,#ffc100 85.0px,#ffbe00 88.0px,#ffc100 91.0px,#ffc700 94.0px,#ffc300 97.0px,#ffc200 100.0px,#ffc100 103.0px,#ffbe00 106.0px,#ffbb00 109.0px,#ffb900 112.0px,#ffb800 115.0px,#ffb900 118.0px,#ffbb00 121.0px,#ffbe00 124.0px,#ffc100 127.0px,#ffc500 130.0px,#ffc800 133.0px,#ffca00 136.0px,#ffcc00 139.0px,#ffd000 142.0px,#faff05 145.0px,#d6ff29 147.1px)"></div>
<div style="left:48.9px;top:112.59px;width:147.1px;height:2.60px;background:linear-gradient(90deg,#000095 0.0px,#0000bb 0.8px,#0000e2 1.5px,#0009ff 2.2px,#0029ff 3.0px,#0049ff 3.8px,#0053ff 4.0px,#008aff 5.2px,#00d7ff 6.5px,#22ffdd 7.8px,#69ff96 9.0px,#b0ff4f 10.2px,#dcff23 11.5px,#fff000 12.8px,#ffb900 14.0px,#ffb300 15.2px,#ffab00 16.5px,#ff9f00 17.8px,#ff8f00 19.0px,#ff8000 20.0px,#ff6000 22.0px,#ff4400 24.0px,#ff3600 26.0px,#ff3800 28.0px,#ff4200 30.0px,#ff5400 32.0px,#ff6700 34.0px,#ff7900 36.0px,#ff8800 38.0px,#ff9500 40.0px,#ffad00 43.0px,#ffd500 46.0px,#ffeb00 49.0px,#ffd400 52.0px,#ffc300 55.0px,#ffc000 58.0px,#ffbd00 61.0px,#ffb900 64.0px,#ffb900 67.0px,#ffbc00 70.0px,#ffc900 73.0px,#ffe200 76.0px,#ffe800 79.0px,#ffd200 82.0px,#ffc600 85.0px,#ffc300 88.0px,#ffc800 91.0px,#ffce00 94.0px,#ffcb00 97.0px,#ffc900 100.0px,#ffc800 103.0px,#ffc600 106.0px,#ffc300 109.0px,#ffc100 112.0px,#ffc100 115.0px,#ffc100 118.0px,#ffc300 121.0px,#ffc600 124.0px,#ffc900 127.0px,#ffcc00 130.0px,#ffcf00 133.0px,#ffd100 136.0px,#ffd200 139.0px,#ffd600 142.0px,#f3ff0c 145.0px,#cfff30 147.1px)"></div>
<div style="left:48.9px;top:114.58px;width:147.1px;height:2.60px;background:linear-gradient(90deg,#000095 0.0px,#0000bb 0.8px,#0000e2 1.5px,#0009ff 2.2px,#0029ff 3.0px,#0049ff 3.8px,#0053ff 4.0px,#008aff 5.2px,#00d7ff 6.5px,#22ffdd 7.8px,#69ff96 9.0px,#b0ff4f 10.2px,#dcff23 11.5px,#fff000 12.8px,#ffbd00 14.0px,#ffb700 15.2px,#ffaf00 16.5px,#ffa400 17.8px,#ff9600 19.0px,#ff8900 20.0px,#ff6c00 22.0px,#ff5200 24.0px,#ff4400 26.0px,#ff4500 28.0px,#ff4f00 30.0px,#ff5f00 32.0px,#ff7000 34.0px,#ff8100 36.0px,#ff9000 38.0px,#ff9c00 40.0px,#ffb200 43.0px,#ffdb00 46.0px,#fff000 49.0px,#ffd900 52.0px,#ffc800 55.0px,#ffc400 58.0px,#ffc100 61.0px,#ffbf00 64.0px,#ffbe00 67.0px,#ffc100 70.0px,#ffce00 73.0px,#ffe700 76.0px,#ffec00 79.0px,#ffd600 82.0px,#ffcb00 85.0px,#ffc900 88.0px,#ffcf00 91.0px,#ffd500 94.0px,#ffd200 97.0px,#ffd100 100.0px,#ffd000 103.0px,#ffce00 106.0px,#ffcb00 109.0px,#ffca00 112.0px,#ffc900 115.0px,#ffca00 118.0px,#ffcb00 121.0px,#ffce00 124.0px,#ffd100 127.0px,#ffd300 130.0px,#ffd600 133.0px,#ffd700 136.0px,#ffd900 139.0px,#ffdd00 142.0px,#edff12 145.0px,#c9ff36 147.1px)"></div>
<div style="left:48.9px;top:116.58px;width:147.1px;height:2.60px;background:linear-gradient(90deg,#000095 0.0px,#0000bb 0.8px,#0000e2 1.5px,#0009ff 2.2px,#0029ff 3.0px,#0049ff 3.8px,#0053ff 4.0px,#008aff 5.2px,#00d7ff 6.5px,#22ffdd 7.8px,#69ff96 9.0px,#b0ff4f 10.2px,#dcff23 11.5px,#fff000 12.8px,#ffc000 14.0px,#ffbb00 15.2px,#ffb400 16.5px,#ffaa00 17.8px,#ff9d00 19.0px,#ff9100 20.0px,#ff7700 22.0px,#ff5f00 24.0px,#ff5200 26.0px,#ff5300 28.0px,#ff5c00 30.0px,#ff6a00 32.0px,#ff7a00 34.0px,#ff8a00 36.0px,#ff9700 38.0px,#ffa200 40.0px,#ffb800 43.0px,#ffe000 46.0px,#fff500 49.0px,#ffde00 52.0px,#ffcc00 55.0px,#ffc900 58.0px,#ffc600 61.0px,#ffc400 64.0px,#ffc300 67.0px,#ffc600 70.0px,#ffd200 73.0px,#ffec00 76.0px,#fff100 79.0px,#ffdb00 82.0px,#ffd000 85.0px,#ffcf00 88.0px,#ffd500 91.0px,#ffdd00 94.0px,#ffd900 97.0px,#ffd800 100.0px,#ffd700 103.0px,#ffd500 106.0px,#ffd300 109.0px,#ffd200 112.0px,#ffd200 115.0px,#ffd200 118.0px,#ffd300 121.0px,#ffd600 124.0px,#ffd800 127.0px,#ffda00 130.0px,#ffdc00 133.0px,#ffde00 136.0px,#ffdf00 139.0px,#ffe300 142.0px,#e7ff18 145.0px,#c3ff3c 147.1px)"></div>
<div style="left:48.9px;top:118.57px;width:147.1px;height:2.60px;background:linear-gradient(90deg,#000095 0.0px,#0000bb 0.8px,#0000e2 1.5px,#0009ff 2.2px,#0029ff 3.0px,#0049ff 3.8px,#0053ff 4.0px,#008aff 5.2px,#00d7ff 6.5px,#22ffdd 7.8px,#69ff96 9.0px,#b0ff4f 10.2px,#dcff23 11.5px,#fff000 12.8px,#ffc300 14.0px,#ffbf00 15.2px,#ffb900 16.5px,#ffb000 17.8px,#ffa400 19.0px,#ff9a00 20.0px,#ff8200 22.0px,#ff6c00 24.0px,#ff6000 26.0px,#ff6100 28.0px,#ff6900 30.0px,#ff7500 32.0px,#ff8400 34.0px,#ff9200 36.0px,#ff9e00 38.0px,#ffa900 40.0px,#ffbe00 43.0px,#ffe500 46.0px,#fffa00 49.0px,#ffe200 52.0px,#ffd100 55.0px,#ffcd00 58.0px,#ffcb00 61.0px,#ffc900 64.0px,#ffc800 67.0px,#ffcb00 70.0px,#ffd700 73.0px,#fff000 76.0px,#fff500 79.0px,#ffe000 82.0px,#ffd500 85.0px,#ffd400 88.0px,#ffdc00 91.0px,#ffe400 94.0px,#ffe000 97.0px,#ffdf00 100.0px,#ffdf00 103.0px,#ffdd00 106.0px,#ffdb00 109.0px,#ffda00 112.0px,#ffda00 115.0px,#ffda00 118.0px,#ffdb00 121.0px,#ffdd00 124.0px,#ffdf00 127.0px,#ffe100 130.0px,#ffe300 133.0px,#ffe500 136.0px,#ffe600 139.0px,#ffea00 142.0px,#e0ff1f 145.0px,#bcff43 147.1px)"></div>
<div style="left:48.9px;top:120.57px;width:147.1px;height:2.60px;background:linear-gradient(90deg,#000095 0.0px,#0000bb 0.8px,#0000e2 1.5px,#0009ff 2.2px,#0029ff 3.0px,#0049ff 3.8px,#0053ff 4.0px,#008aff 5.2px,#00d7ff 6.5px,#22ffdd 7.8px,#69ff96 9.0px,#b0ff4f 10.2px,#dcff23 11.5px,#fff000 12.8px,#ffc600 14.0px,#ffc300 15.2px,#ffbd00 16.5px,#ffb500 17.8px,#ffab00 19.0px,#ffa200 20.0px,#ff8d00 22.0px,#ff7900 24.0px,#ff6e00 26.0px,#ff6f00 28.0px,#ff7600 30.0px,#ff8100 32.0px,#ff8e00 34.0px,#ff9b00 36.0px,#ffa500 38.0px,#ffaf00 40.0px,#ffc300 43.0px,#ffea00 46.0px,#ffff00 49.0px,#ffe700 52.0px,#ffd500 55.0px,#ffd200 58.0px,#ffd000 61.0px,#ffce00 64.0px,#ffcd00 67.0px,#ffd000 70.0px,#ffdb00 73.0px,#fff500 76.0px,#fffa00 79.0px,#ffe400 82.0px,#ffda00 85.0px,#ffda00 88.0px,#ffe200 91.0px,#ffeb00 94.0px,#ffe700 97.0px,#ffe600 100.0px,#ffe600 103.0px,#ffe500 106.0px,#ffe300 109.0px,#ffe200 112.0px,#ffe200 115.0px,#ffe200 118.0px,#ffe300 121.0px,#ffe500 124.0px,#ffe700 127.0px,#ffe800 130.0px,#ffea00 133.0px,#ffeb00 136.0px,#ffec00 139.0px,#fff000 142.0px,#daff25 145.0px,#b6ff49 147.1px)"></div>
<div style="left:48.9px;top:122.57px;width:147.1px;height:2.60px;background:linear-gradient(90deg,#000095 0.0px,#0000bb 0.8px,#0000e2 1.5px,#0009ff 2.2px,#0029ff 3.0px,#0049ff 3.8px,#0053ff 4.0px,#008aff 5.2px,#00d7ff 6.5px,#22ffdd 7.8px,#69ff96 9.0px,#b0ff4f 10.2px,#dcff23 11.5px,#fff000 12.8px,#ffca00 14.0px,#ffc600 15.2px,#ffc200 16.5px,#ffbb00 17.8px,#ffb200 19.0px,#ffaa00 20.0px,#ff9700 22.0px,#ff8600 24.0px,#ff7c00 26.0px,#ff7c00 28.0px,#ff8200 30.0px,#ff8c00 32.0px,#ff9800 34.0px,#ffa300 36.0px,#ffad00 38.0px,#ffb600 40.0px,#ffc900 43.0px,#fff000 46.0px,#faff05 49.0px,#ffeb00 52.0px,#ffd900 55.0px,#ffd600 58.0px,#ffd400 61.0px,#ffd300 64.0px,#ffd200 67.0px,#ffd500 70.0px,#ffe000 73.0px,#fff900 76.0px,#fffe00 79.0px,#ffe900 82.0px,#ffdf00 85.0px,#ffdf00 88.0px,#ffe900 91.0px,#fff200 94.0px,#ffee00 97.0px,#ffee00 100.0px,#ffee00 103.0px,#ffec00 106.0px,#ffeb00 109.0px,#ffea00 112.0px,#ffea00 115.0px,#ffea00 118.0px,#ffeb00 121.0px,#ffec00 124.0px,#ffee00 127.0px,#ffef00 130.0px,#fff100 133.0px,#fff200 136.0px,#fff300 139.0px,#fff600 142.0px,#d4ff2b 145.0px,#b0ff4f 147.1px)"></div>
<div style="left:48.9px;top:124.56px;width:147.1px;height:2.60px;background:linear-gradient(90deg,#000095 0.0px,#0000bb 0.8px,#0000e2 1.5px,#0009ff 2.2px,#0029ff 3.0px,#0049ff 3.8px,#0053ff 4.0px,#008aff 5.2px,#00d7ff 6.5px,#22ffdd 7.8px,#69ff96 9.0px,#b0ff4f 10.2px,#dcff23 11.5px,#fff000 12.8px,#ffcd00 14.0px,#ffca00 15.2px,#ffc600 16.5px,#ffc000 17.8px,#ffb800 19.0px,#ffb100 20.0px,#ffa200 22.0px,#ff9300 24.0px,#ff8a00 26.0px,#ff8a00 28.0px,#ff9000 30.0px,#ff9800 32.0px,#ffa200 34.0px,#ffac00 36.0px,#ffb400 38.0px,#ffbc00 40.0px,#ffce00 43.0px,#fff500 46.0px,#f5ff0a 49.0px,#fff000 52.0px,#ffde00 55.0px,#ffda00 58.0px,#ffd900 61.0px,#ffd800 64.0px,#ffd700 67.0px,#ffda00 70.0px,#ffe500 73.0px,#fffe00 76.0px,#fbff04 79.0px,#ffed00 82.0px,#ffe300 85.0px,#ffe500 88.0px,#ffef00 91.0px,#fff900 94.0px,#fff500 97.0px,#fff500 100.0px,#fff500 103.0px,#fff400 106.0px,#fff300 109.0px,#fff200 112.0px,#fff100 115.0px,#fff200 118.0px,#fff300 121.0px,#fff400 124.0px,#fff500 127.0px,#fff600 130.0px,#fff800 133.0px,#fff800 136.0px,#fff900 139.0px,#fffd00 142.0px,#cdff32 145.0px,#a9ff56 147.1px)"></div>
<div style="left:48.9px;top:126.56px;width:147.1px;height:2.60px;background:linear-gradient(90deg,#000095 0.0px,#0000bc 0.8px,#0000e3 1.5px,#000bff 2.2px,#002bff 3.0px,#004aff 3.8px,#0055ff 4.0px,#008dff 5.2px,#00daff 6.5px,#26ffd9 7.8px,#6eff91 9.0px,#b3ff4c 10.2px,#e0ff1f 11.5px,#ffeb00 12.8px,#ffd000 14.0px,#ffcd00 15.2px,#ffca00 16.5px,#ffc500 17.8px,#ffbe00 19.0px,#ffb800 20.0px,#ffaa00 22.0px,#ff9c00 24.0px,#ff9500 26.0px,#ff9500 28.0px,#ff9900 30.0px,#ffa100 32.0px,#ffaa00 34.0px,#ffb300 36.0px,#ffbb00 38.0px,#ffc200 40.0px,#ffd400 43.0px,#fffa00 46.0px,#f0ff0f 49.0px,#fff500 52.0px,#ffe200 55.0px,#ffdf00 58.0px,#ffde00 61.0px,#ffdc00 64.0px,#ffdc00 67.0px,#ffde00 70.0px,#ffe900 73.0px,#fcff03 76.0px,#f7ff08 79.0px,#fff200 82.0px,#ffe800 85.0px,#ffea00 88.0px,#fff500 91.0px,#ffff00 94.0px,#fffb00 97.0px,#fffa00 100.0px,#fffa00 103.0px,#fff900 106.0px,#fff800 109.0px,#fff700 112.0px,#fff700 115.0px,#fff700 118.0px,#fff800 121.0px,#fff900 124.0px,#fffa00 127.0px,#fffb00 130.0px,#fffc00 133.0px,#fffd00 136.0px,#fffe00 139.0px,#fdff02 142.0px,#c9ff36 145.0px,#a5ff5a 147.1px)"></div>
<div style="left:48.9px;top:128.55px;width:147.1px;height:2.60px;background:linear-gradient(90deg,#000096 0.0px,#0000bd 0.8px,#0000e4 1.5px,#000cff 2.2px,#002cff 3.0px,#004cff 3.8px,#0057ff 4.0px,#0090ff 5.2px,#00deff 6.5px,#2affd5 7.8px,#73ff8c 9.0px,#b7ff48 10.2px,#e4ff1b 11.5px,#ffe600 12.8px,#ffd300 14.0px,#ffd100 15.2px,#ffcd00 16.5px,#ffc900 17.8px,#ffc300 19.0px,#ffbd00 20.0px,#ffb100 22.0px,#ffa500 24.0px,#ff9e00 26.0px,#ff9e00 28.0px,#ffa300 30.0px,#ffaa00 32.0px,#ffb200 34.0px,#ffba00 36.0px,#ffc100 38.0px,#ffc800 40.0px,#ffd900 43.0px,#ffff00 46.0px,#ebff14 49.0px,#fff900 52.0px,#ffe600 55.0px,#ffe300 58.0px,#ffe200 61.0px,#ffe100 64.0px,#ffe100 67.0px,#ffe300 70.0px,#ffee00 73.0px,#f7ff08 76.0px,#f2ff0d 79.0px,#fff600 82.0px,#ffec00 85.0px,#ffef00 88.0px,#fffa00 91.0px,#f9ff06 94.0px,#feff01 97.0px,#ffff00 100.0px,#ffff00 103.0px,#fffe00 106.0px,#fffd00 109.0px,#fffd00 112.0px,#fffd00 115.0px,#fffd00 118.0px,#fffd00 121.0px,#fffe00 124.0px,#ffff00 127.0px,#feff01 130.0px,#fdff02 133.0px,#fcff03 136.0px,#fcff03 139.0px,#f9ff06 142.0px,#c5ff3a 145.0px,#a1ff5e 147.1px)"></div>
<div style="left:48.9px;top:130.55px;width:147.1px;height:2.60px;background:linear-gradient(90deg,#000096 0.0px,#0000be 0.8px,#0000e5 1.5px,#000dff 2.2px,#002eff 3.0px,#004eff 3.8px,#0059ff 4.0px,#0094ff 5.2px,#00e2ff 6.5px,#2effd1 7.8px,#78ff87 9.0px,#baff45 10.2px,#e7ff18 11.5px,#ffe000 12.8px,#ffd600 14.0px,#ffd400 15.2px,#ffd100 16.5px,#ffcd00 17.8px,#ffc800 19.0px,#ffc300 20.0px,#ffb900 22.0px,#ffae00 24.0px,#ffa800 26.0px,#ffa800 28.0px,#ffac00 30.0px,#ffb200 32.0px,#ffba00 34.0px,#ffc100 36.0px,#ffc800 38.0px,#ffce00 40.0px,#ffde00 43.0px,#faff05 46.0px,#e6ff19 49.0px,#fffe00 52.0px,#ffeb00 55.0px,#ffe800 58.0px,#ffe700 61.0px,#ffe600 64.0px,#ffe600 67.0px,#ffe700 70.0px,#fff200 73.0px,#f3ff0c 76.0px,#eeff11 79.0px,#fffa00 82.0px,#fff100 85.0px,#fff300 88.0px,#ffff00 91.0px,#f4ff0b 94.0px,#f9ff06 97.0px,#fbff04 100.0px,#faff05 103.0px,#fbff04 106.0px,#fcff03 109.0px,#fcff03 112.0px,#fcff03 115.0px,#fcff03 118.0px,#fcff03 121.0px,#fbff04 124.0px,#faff05 127.0px,#f9ff06 130.0px,#f9ff06 133.0px,#f8ff07 136.0px,#f8ff07 139.0px,#f4ff0b 142.0px,#c0ff3f 145.0px,#9cff63 147.1px)"></div>
<div style="left:48.9px;top:132.55px;width:147.1px;height:2.60px;background:linear-gradient(90deg,#000097 0.0px,#0000bf 0.8px,#0000e7 1.5px,#000fff 2.2px,#002fff 3.0px,#0050ff 3.8px,#005aff 4.0px,#0097ff 5.2px,#00e6ff 6.5px,#33ffcc 7.8px,#7cff83 9.0px,#beff41 10.2px,#ebff14 11.5px,#ffdb00 12.8px,#ffd800 14.0px,#ffd700 15.2px,#ffd500 16.5px,#ffd100 17.8px,#ffcc00 19.0px,#ffc900 20.0px,#ffc000 22.0px,#ffb700 24.0px,#ffb200 26.0px,#ffb200 28.0px,#ffb600 30.0px,#ffbb00 32.0px,#ffc200 34.0px,#ffc800 36.0px,#ffce00 38.0px,#ffd400 40.0px,#ffe400 43.0px,#f4ff0b 46.0px,#e1ff1e 49.0px,#fcff03 52.0px,#ffef00 55.0px,#ffec00 58.0px,#ffeb00 61.0px,#ffea00 64.0px,#ffea00 67.0px,#ffec00 70.0px,#fff600 73.0px,#eeff11 76.0px,#e9ff16 79.0px,#ffff00 82.0px,#fff500 85.0px,#fff800 88.0px,#faff05 91.0px,#efff10 94.0px,#f4ff0b 97.0px,#f6ff09 100.0px,#f6ff09 103.0px,#f6ff09 106.0px,#f7ff08 109.0px,#f7ff08 112.0px,#f7ff08 115.0px,#f7ff08 118.0px,#f7ff08 121.0px,#f6ff09 124.0px,#f5ff0a 127.0px,#f5ff0a 130.0px,#f4ff0b 133.0px,#f4ff0b 136.0px,#f3ff0c 139.0px,#f0ff0f 142.0px,#bcff43 145.0px,#98ff67 147.1px)"></div>
<div style="left:48.9px;top:134.54px;width:147.1px;height:2.60px;background:linear-gradient(90deg,#000097 0.0px,#0000c0 0.8px,#0000e8 1.5px,#0010ff 2.2px,#0031ff 3.0px,#0051ff 3.8px,#005cff 4.0px,#009aff 5.2px,#00eaff 6.5px,#37ffc8 7.8px,#81ff7e 9.0px,#c1ff3e 10.2px,#efff10 11.5px,#ffdc00 12.8px,#ffdb00 14.0px,#ffda00 15.2px,#ffd800 16.5px,#ffd500 17.8px,#ffd100 19.0px,#ffce00 20.0px,#ffc700 22.0px,#ffc000 24.0px,#ffbc00 26.0px,#ffbc00 28.0px,#ffbf00 30.0px,#ffc400 32.0px,#ffca00 34.0px,#ffcf00 36.0px,#ffd500 38.0px,#ffda00 40.0px,#ffe900 43.0px,#efff10 46.0px,#dcff23 49.0px,#f7ff08 52.0px,#fff300 55.0px,#fff000 58.0px,#fff000 61.0px,#ffef00 64.0px,#ffef00 67.0px,#fff100 70.0px,#fffb00 73.0px,#eaff15 76.0px,#e5ff1a 79.0px,#fbff04 82.0px,#fff900 85.0px,#fffc00 88.0px,#f5ff0a 91.0px,#e9ff16 94.0px,#efff10 97.0px,#f1ff0e 100.0px,#f1ff0e 103.0px,#f1ff0e 106.0px,#f2ff0d 109.0px,#f2ff0d 112.0px,#f2ff0d 115.0px,#f2ff0d 118.0px,#f2ff0d 121.0px,#f1ff0e 124.0px,#f1ff0e 127.0px,#f0ff0f 130.0px,#f0ff0f 133.0px,#efff10 136.0px,#efff10 139.0px,#ecff13 142.0px,#b8ff47 145.0px,#94ff6b 147.1px)"></div>
<div style="left:48.9px;top:136.54px;width:147.1px;height:2.60px;background:linear-gradient(90deg,#000098 0.0px,#0000c0 0.8px,#0000e9 1.5px,#0011ff 2.2px,#0032ff 3.0px,#0053ff 3.8px,#005eff 4.0px,#009eff 5.2px,#00eeff 6.5px,#3bffc4 7.8px,#86ff79 9.0px,#c4ff3b 10.2px,#f3ff0c 11.5px,#ffdf00 12.8px,#ffde00 14.0px,#ffdd00 15.2px,#ffdb00 16.5px,#ffd900 17.8px,#ffd600 19.0px,#ffd400 20.0px,#ffce00 22.0px,#ffc900 24.0px,#ffc600 26.0px,#ffc600 28.0px,#ffc900 30.0px,#ffcd00 32.0px,#ffd200 34.0px,#ffd600 36.0px,#ffdb00 38.0px,#ffe000 40.0px,#ffef00 43.0px,#eaff15 46.0px,#d7ff28 49.0px,#f3ff0c 52.0px,#fff800 55.0px,#fff500 58.0px,#fff400 61.0px,#fff300 64.0px,#fff300 67.0px,#fff500 70.0px,#ffff00 73.0px,#e5ff1a 76.0px,#e0ff1f 79.0px,#f7ff08 82.0px,#fffe00 85.0px,#fdff02 88.0px,#f0ff0f 91.0px,#e4ff1b 94.0px,#eaff15 97.0px,#edff12 100.0px,#ecff13 103.0px,#edff12 106.0px,#edff12 109.0px,#edff12 112.0px,#edff12 115.0px,#edff12 118.0px,#edff12 121.0px,#edff12 124.0px,#ecff13 127.0px,#ecff13 130.0px,#ebff14 133.0px,#ebff14 136.0px,#ebff14 139.0px,#e8ff17 142.0px,#b4ff4b 145.0px,#90ff6f 147.1px)"></div>
<div style="left:48.9px;top:138.53px;width:147.1px;height:2.60px;background:linear-gradient(90deg,#000099 0.0px,#0000c1 0.8px,#0000ea 1.5px,#0012ff 2.2px,#0034ff 3.0px,#0055ff 3.8px,#0060ff 4.0px,#00a1ff 5.2px,#00f2ff 6.5px,#40ffbf 7.8px,#8bff74 9.0px,#c8ff37 10.2px,#f6ff09 11.5px,#ffe100 12.8px,#ffe100 14.0px,#ffe000 15.2px,#ffdf00 16.5px,#ffdd00 17.8px,#ffda00 19.0px,#ffd900 20.0px,#ffd500 22.0px,#ffd200 24.0px,#ffcf00 26.0px,#ffd000 28.0px,#ffd200 30.0px,#ffd600 32.0px,#ffda00 34.0px,#ffde00 36.0px,#ffe200 38.0px,#ffe600 40.0px,#fff400 43.0px,#e5ff1a 46.0px,#d2ff2d 49.0px,#eeff11 52.0px,#fffc00 55.0px,#fff900 58.0px,#fff800 61.0px,#fff800 64.0px,#fff800 67.0px,#fff900 70.0px,#faff05 73.0px,#e1ff1e 76.0px,#dcff23 79.0px,#f2ff0d 82.0px,#fcff03 85.0px,#f8ff07 88.0px,#ebff14 91.0px,#dfff20 94.0px,#e5ff1a 97.0px,#e8ff17 100.0px,#e8ff17 103.0px,#e8ff17 106.0px,#e8ff17 109.0px,#e9ff16 112.0px,#e9ff16 115.0px,#e9ff16 118.0px,#e8ff17 121.0px,#e8ff17 124.0px,#e8ff17 127.0px,#e7ff18 130.0px,#e7ff18 133.0px,#e7ff18 136.0px,#e6ff19 139.0px,#e3ff1c 142.0px,#afff50 145.0px,#8cff73 147.1px)"></div>
<div style="left:48.9px;top:140.53px;width:147.1px;height:2.60px;background:linear-gradient(90deg,#000099 0.0px,#0000c2 0.8px,#0000eb 1.5px,#0013ff 2.2px,#0035ff 3.0px,#0057ff 3.8px,#0062ff 4.0px,#00a4ff 5.2px,#00f6ff 6.5px,#44ffbb 7.8px,#90ff6f 9.0px,#cbff34 10.2px,#fbff04 11.5px,#ffe400 12.8px,#ffe300 14.0px,#ffe300 15.2px,#ffe200 16.5px,#ffe000 17.8px,#ffde00 19.0px,#ffdd00 20.0px,#ffda00 22.0px,#ffd700 24.0px,#ffd600 26.0px,#ffd700 28.0px,#ffd900 30.0px,#ffdc00 32.0px,#ffe000 34.0px,#ffe300 36.0px,#ffe700 38.0px,#ffeb00 40.0px,#fff900 43.0px,#e0ff1f 46.0px,#ceff31 49.0px,#eaff15 52.0px,#feff01 55.0px,#fffd00 58.0px,#fffc00 61.0px,#fffc00 64.0px,#fffc00 67.0px,#fffd00 70.0px,#f6ff09 73.0px,#ddff22 76.0px,#d8ff27 79.0px,#efff10 82.0px,#f8ff07 85.0px,#f4ff0b 88.0px,#e6ff19 91.0px,#daff25 94.0px,#e1ff1e 97.0px,#e4ff1b 100.0px,#e4ff1b 103.0px,#e4ff1b 106.0px,#e4ff1b 109.0px,#e4ff1b 112.0px,#e4ff1b 115.0px,#e4ff1b 118.0px,#e4ff1b 121.0px,#e4ff1b 124.0px,#e4ff1b 127.0px,#e3ff1c 130.0px,#e3ff1c 133.0px,#e3ff1c 136.0px,#e3ff1c 139.0px,#dfff20 142.0px,#acff53 145.0px,#88ff77 147.1px)"></div>
<div style="left:48.9px;top:142.53px;width:147.1px;height:2.60px;background:linear-gradient(90deg,#00009a 0.0px,#0000c3 0.8px,#0000ed 1.5px,#0015ff 2.2px,#0037ff 3.0px,#0058ff 3.8px,#0064ff 4.0px,#00a8ff 5.2px,#00faff 6.5px,#48ffb7 7.8px,#95ff6a 9.0px,#cfff30 10.2px,#fffe00 11.5px,#ffe600 12.8px,#ffe600 14.0px,#ffe500 15.2px,#ffe400 16.5px,#ffe300 17.8px,#ffe100 19.0px,#ffe000 20.0px,#ffde00 22.0px,#ffdc00 24.0px,#ffdb00 26.0px,#ffdc00 28.0px,#ffde00 30.0px,#ffe100 32.0px,#ffe500 34.0px,#ffe800 36.0px,#ffec00 38.0px,#fff000 40.0px,#fffd00 43.0px,#dcff23 46.0px,#c9ff36 49.0px,#e6ff19 52.0px,#faff05 55.0px,#fdff02 58.0px,#feff01 61.0px,#feff01 64.0px,#feff01 67.0px,#fdff02 70.0px,#f3ff0c 73.0px,#d9ff26 76.0px,#d4ff2b 79.0px,#ebff14 82.0px,#f4ff0b 85.0px,#f1ff0e 88.0px,#e2ff1d 91.0px,#d6ff29 94.0px,#ddff22 97.0px,#e0ff1f 100.0px,#e0ff1f 103.0px,#e0ff1f 106.0px,#e0ff1f 109.0px,#e0ff1f 112.0px,#e0ff1f 115.0px,#e0ff1f 118.0px,#e0ff1f 121.0px,#e0ff1f 124.0px,#e0ff1f 127.0px,#e0ff1f 130.0px,#dfff20 133.0px,#dfff20 136.0px,#dfff20 139.0px,#dcff23 142.0px,#a8ff57 145.0px,#84ff7b 147.1px)"></div>
<div style="left:48.9px;top:144.52px;width:147.1px;height:2.60px;background:linear-gradient(90deg,#00009a 0.0px,#0000c4 0.8px,#0000ee 1.5px,#0016ff 2.2px,#0038ff 3.0px,#005aff 3.8px,#0066ff 4.0px,#00abff 5.2px,#00feff 6.5px,#4cffb3 7.8px,#9aff65 9.0px,#d2ff2d 10.2px,#fff900 11.5px,#ffe800 12.8px,#ffe800 14.0px,#ffe700 15.2px,#ffe700 16.5px,#ffe600 17.8px,#ffe400 19.0px,#ffe300 20.0px,#ffe200 22.0px,#ffe100 24.0px,#ffe000 26.0px,#ffe100 28.0px,#ffe400 30.0px,#ffe700 32.0px,#ffea00 34.0px,#ffed00 36.0px,#fff100 38.0px,#fff500 40.0px,#fcff03 43.0px,#d7ff28 46.0px,#c5ff3a 49.0px,#e2ff1d 52.0px,#f7ff08 55.0px,#faff05 58.0px,#faff05 61.0px,#faff05 64.0px,#faff05 67.0px,#f9ff06 70.0px,#efff10 73.0px,#d5ff2a 76.0px,#d0ff2f 79.0px,#e7ff18 82.0px,#f1ff0e 85.0px,#edff12 88.0px,#deff21 91.0px,#d1ff2e 94.0px,#d9ff26 97.0px,#dcff23 100.0px,#dcff23 103.0px,#dcff23 106.0px,#dcff23 109.0px,#dcff23 112.0px,#dcff23 115.0px,#dcff23 118.0px,#dcff23 121.0px,#dcff23 124.0px,#dcff23 127.0px,#dcff23 130.0px,#dcff23 133.0px,#dcff23 136.0px,#dbff24 139.0px,#d8ff27 142.0px,#a4ff5b 145.0px,#81ff7e 147.1px)"></div>
<div style="left:48.9px;top:146.52px;width:147.1px;height:2.60px;background:linear-gradient(90deg,#00009b 0.0px,#0000c5 0.8px,#0000ef 1.5px,#0017ff 2.2px,#003aff 3.0px,#005cff 3.8px,#0067ff 4.0px,#00aeff 5.2px,#03fffc 6.5px,#51ffae 7.8px,#9fff60 9.0px,#d5ff2a 10.2px,#fff400 11.5px,#ffeb00 12.8px,#ffea00 14.0px,#ffea00 15.2px,#ffe900 16.5px,#ffe800 17.8px,#ffe700 19.0px,#ffe700 20.0px,#ffe600 22.0px,#ffe600 24.0px,#ffe500 26.0px,#ffe700 28.0px,#ffe900 30.0px,#ffec00 32.0px,#ffef00 34.0px,#fff200 36.0px,#fff600 38.0px,#fff900 40.0px,#f8ff07 43.0px,#d3ff2c 46.0px,#c1ff3e 49.0px,#deff21 52.0px,#f3ff0c 55.0px,#f6ff09 58.0px,#f6ff09 61.0px,#f7ff08 64.0px,#f7ff08 67.0px,#f5ff0a 70.0px,#ebff14 73.0px,#d1ff2e 76.0px,#ccff33 79.0px,#e3ff1c 82.0px,#edff12 85.0px,#e9ff16 88.0px,#daff25 91.0px,#cdff32 94.0px,#d5ff2a 97.0px,#d8ff27 100.0px,#d8ff27 103.0px,#d8ff27 106.0px,#d9ff26 109.0px,#d9ff26 112.0px,#d9ff26 115.0px,#d9ff26 118.0px,#d9ff26 121.0px,#d8ff27 124.0px,#d8ff27 127.0px,#d8ff27 130.0px,#d8ff27 133.0px,#d8ff27 136.0px,#d8ff27 139.0px,#d5ff2a 142.0px,#a1ff5e 145.0px,#7dff82 147.1px)"></div>
<div style="left:48.9px;top:148.51px;width:147.1px;height:2.60px;background:linear-gradient(90deg,#00009b 0.0px,#0000c6 0.8px,#0000f0 1.5px,#0018ff 2.2px,#003bff 3.0px,#005eff 3.8px,#0069ff 4.0px,#00b2ff 5.2px,#06fff9 6.5px,#55ffaa 7.8px,#a4ff5b 9.0px,#d9ff26 10.2px,#ffef00 11.5px,#ffed00 12.8px,#ffed00 14.0px,#ffec00 15.2px,#ffec00 16.5px,#ffeb00 17.8px,#ffea00 19.0px,#ffea00 20.0px,#ffea00 22.0px,#ffea00 24.0px,#ffeb00 26.0px,#ffec00 28.0px,#ffef00 30.0px,#fff100 32.0px,#fff400 34.0px,#fff700 36.0px,#fffa00 38.0px,#fffe00 40.0px,#f3ff0c 43.0px,#ceff31 46.0px,#bcff43 49.0px,#daff25 52.0px,#efff10 55.0px,#f2ff0d 58.0px,#f3ff0c 61.0px,#f3ff0c 64.0px,#f3ff0c 67.0px,#f2ff0d 70.0px,#e7ff18 73.0px,#ceff31 76.0px,#c9ff36 79.0px,#e0ff1f 82.0px,#e9ff16 85.0px,#e5ff1a 88.0px,#d5ff2a 91.0px,#c9ff36 94.0px,#d1ff2e 97.0px,#d5ff2a 100.0px,#d5ff2a 103.0px,#d5ff2a 106.0px,#d5ff2a 109.0px,#d5ff2a 112.0px,#d5ff2a 115.0px,#d5ff2a 118.0px,#d5ff2a 121.0px,#d5ff2a 124.0px,#d5ff2a 127.0px,#d4ff2b 130.0px,#d4ff2b 133.0px,#d4ff2b 136.0px,#d4ff2b 139.0px,#d1ff2e 142.0px,#9dff62 145.0px,#79ff86 147.1px)"></div>
<div style="left:48.9px;top:150.51px;width:147.1px;height:2.60px;background:linear-gradient(90deg,#00009c 0.0px,#0000c7 0.8px,#0000f1 1.5px,#001aff 2.2px,#003dff 3.0px,#005fff 3.8px,#006bff 4.0px,#00b5ff 5.2px,#0afff5 6.5px,#59ffa6 7.8px,#a9ff56 9.0px,#dcff23 10.2px,#ffef00 11.5px,#ffef00 12.8px,#ffef00 14.0px,#ffef00 15.2px,#ffee00 16.5px,#ffed00 17.8px,#ffed00 19.0px,#ffed00 20.0px,#ffee00 22.0px,#ffef00 24.0px,#fff000 26.0px,#fff200 28.0px,#fff400 30.0px,#fff700 32.0px,#fff900 34.0px,#fffc00 36.0px,#ffff00 38.0px,#fbff04 40.0px,#efff10 43.0px,#caff35 46.0px,#b8ff47 49.0px,#d6ff29 52.0px,#ebff14 55.0px,#efff10 58.0px,#efff10 61.0px,#efff10 64.0px,#efff10 67.0px,#eeff11 70.0px,#e4ff1b 73.0px,#caff35 76.0px,#c5ff3a 79.0px,#dcff23 82.0px,#e6ff19 85.0px,#e1ff1e 88.0px,#d1ff2e 91.0px,#c4ff3b 94.0px,#cdff32 97.0px,#d1ff2e 100.0px,#d1ff2e 103.0px,#d1ff2e 106.0px,#d1ff2e 109.0px,#d1ff2e 112.0px,#d1ff2e 115.0px,#d1ff2e 118.0px,#d1ff2e 121.0px,#d1ff2e 124.0px,#d1ff2e 127.0px,#d1ff2e 130.0px,#d1ff2e 133.0px,#d1ff2e 136.0px,#d0ff2f 139.0px,#cdff32 142.0px,#9aff65 145.0px,#76ff89 147.1px)"></div>
<div style="left:48.9px;top:152.50px;width:147.1px;height:2.60px;background:linear-gradient(90deg,#00009c 0.0px,#0000c7 0.8px,#0000f3 1.5px,#001bff 2.2px,#003eff 3.0px,#0061ff 3.8px,#006dff 4.0px,#00b9ff 5.2px,#0efff1 6.5px,#5effa1 7.8px,#aeff51 9.0px,#e0ff1f 10.2px,#fff100 11.5px,#fff100 12.8px,#fff100 14.0px,#fff100 15.2px,#fff100 16.5px,#fff000 17.8px,#ffef00 19.0px,#fff000 20.0px,#fff200 22.0px,#fff300 24.0px,#fff500 26.0px,#fff700 28.0px,#fffa00 30.0px,#fffc00 32.0px,#ffff00 34.0px,#fdff02 36.0px,#faff05 38.0px,#f6ff09 40.0px,#eaff15 43.0px,#c5ff3a 46.0px,#b3ff4c 49.0px,#d2ff2d 52.0px,#e8ff17 55.0px,#ebff14 58.0px,#ebff14 61.0px,#ebff14 64.0px,#ebff14 67.0px,#eaff15 70.0px,#e0ff1f 73.0px,#c6ff39 76.0px,#c1ff3e 79.0px,#d8ff27 82.0px,#e2ff1d 85.0px,#deff21 88.0px,#cdff32 91.0px,#c0ff3f 94.0px,#c9ff36 97.0px,#cdff32 100.0px,#cdff32 103.0px,#cdff32 106.0px,#cdff32 109.0px,#cdff32 112.0px,#cdff32 115.0px,#cdff32 118.0px,#cdff32 121.0px,#cdff32 124.0px,#cdff32 127.0px,#cdff32 130.0px,#cdff32 133.0px,#cdff32 136.0px,#cdff32 139.0px,#caff35 142.0px,#96ff69 145.0px,#72ff8d 147.1px)"></div>
<div style="left:206.0px;top:11.0px;width:14.0px;height:144.6px;background:linear-gradient(180deg,#800000 0.0%,#ff0000 12.5%,#ff8000 25.0%,#ffff00 37.5%,#80ff80 50.0%,#00ffff 62.5%,#0080ff 75.0%,#0000ff 87.5%,#000080 100.0%)"></div></div>
<svg width="550" height="423" viewBox="0 0 550 423" font-family="Liberation Serif">
<line x1="47.6" y1="10.8" x2="47.6" y2="155.0" stroke="#555" stroke-width="1"/>
<line x1="47.6" y1="154.5" x2="196.0" y2="154.5" stroke="#555" stroke-width="1"/>
<text x="47.6" y="174.0" font-size="12.5" text-anchor="middle">0</text>
<text x="88.4" y="174.0" font-size="12.5" text-anchor="middle">20</text>
<line x1="88.4" y1="154.5" x2="88.4" y2="152.5" stroke="#777" stroke-width="1"/>
<text x="129.2" y="174.0" font-size="12.5" text-anchor="middle">40</text>
<line x1="129.2" y1="154.5" x2="129.2" y2="152.5" stroke="#777" stroke-width="1"/>
<text x="170.0" y="174.0" font-size="12.5" text-anchor="middle">60</text>
<line x1="170.0" y1="154.5" x2="170.0" y2="152.5" stroke="#777" stroke-width="1"/>
<text x="40.8" y="158.9" font-size="12.5" text-anchor="end">0</text>
<line x1="47.6" y1="154.5" x2="49.6" y2="154.5" stroke="#777" stroke-width="1"/>
<text x="40.8" y="130.2" font-size="12.5" text-anchor="end">0.2</text>
<line x1="47.6" y1="125.8" x2="49.6" y2="125.8" stroke="#777" stroke-width="1"/>
<text x="40.8" y="101.4" font-size="12.5" text-anchor="end">0.4</text>
<line x1="47.6" y1="97.0" x2="49.6" y2="97.0" stroke="#777" stroke-width="1"/>
<text x="40.8" y="72.7" font-size="12.5" text-anchor="end">0.6</text>
<line x1="47.6" y1="68.3" x2="49.6" y2="68.3" stroke="#777" stroke-width="1"/>
<text x="40.8" y="43.9" font-size="12.5" text-anchor="end">0.8</text>
<line x1="47.6" y1="39.5" x2="49.6" y2="39.5" stroke="#777" stroke-width="1"/>
<text x="40.8" y="15.2" font-size="12.5" text-anchor="end">1</text>
<line x1="47.6" y1="10.8" x2="49.6" y2="10.8" stroke="#777" stroke-width="1"/>
<rect x="206.0" y="11.0" width="14.0" height="144.6" fill="none" stroke="#444" stroke-width="1"/>
<text x="224.8" y="145.3" font-size="12.5" text-anchor="start">200</text>
<text x="224.8" y="111.0" font-size="12.5" text-anchor="start">400</text>
<text x="224.8" y="76.6" font-size="12.5" text-anchor="start">600</text>
<text x="224.8" y="42.3" font-size="12.5" text-anchor="start">800</text>
<text x="261.0" y="81.5" font-size="13" text-anchor="middle" transform="rotate(-90 261.0 81.5)">Traffic flow (veh/h)</text>
<text x="20.2" y="84.0" font-size="14.4" text-anchor="middle" transform="rotate(-90 20.2 84.0)"><tspan font-style="italic">&#961;</tspan> of CAV</text>
<text x="122.3" y="191.2" font-size="14.4" text-anchor="middle">Traffic density (veh/km)</text>
<text x="125.1" y="206.3" font-size="15.3" text-anchor="middle">(a)</text>
<rect x="326.8" y="11.2" width="212.2" height="143.6" fill="none" stroke="#555555" stroke-width="1"/>
<line x1="326.8" y1="154.8" x2="326.8" y2="152.3" stroke="#555555" stroke-width="1"/>
<line x1="326.8" y1="11.2" x2="326.8" y2="13.7" stroke="#555555" stroke-width="1"/>
<text x="326.8" y="174.3" font-size="12.5" text-anchor="middle">0</text>
<line x1="379.9" y1="154.8" x2="379.9" y2="152.3" stroke="#555555" stroke-width="1"/>
<line x1="379.9" y1="11.2" x2="379.9" y2="13.7" stroke="#555555" stroke-width="1"/>
<text x="379.9" y="174.3" font-size="12.5" text-anchor="middle">20</text>
<line x1="432.9" y1="154.8" x2="432.9" y2="152.3" stroke="#555555" stroke-width="1"/>
<line x1="432.9" y1="11.2" x2="432.9" y2="13.7" stroke="#555555" stroke-width="1"/>
<text x="432.9" y="174.3" font-size="12.5" text-anchor="middle">40</text>
<line x1="485.9" y1="154.8" x2="485.9" y2="152.3" stroke="#555555" stroke-width="1"/>
<line x1="485.9" y1="11.2" x2="485.9" y2="13.7" stroke="#555555" stroke-width="1"/>
<text x="485.9" y="174.3" font-size="12.5" text-anchor="middle">60</text>
<line x1="539.0" y1="154.8" x2="539.0" y2="152.3" stroke="#555555" stroke-width="1"/>
<line x1="539.0" y1="11.2" x2="539.0" y2="13.7" stroke="#555555" stroke-width="1"/>
<text x="539.0" y="174.3" font-size="12.5" text-anchor="middle">80</text>
<line x1="326.8" y1="155.0" x2="329.3" y2="155.0" stroke="#555555" stroke-width="1"/>
<line x1="539.0" y1="155.0" x2="536.5" y2="155.0" stroke="#555555" stroke-width="1"/>
<text x="320.3" y="159.4" font-size="12.5" text-anchor="end">0</text>
<line x1="326.8" y1="129.1" x2="329.3" y2="129.1" stroke="#555555" stroke-width="1"/>
<line x1="539.0" y1="129.1" x2="536.5" y2="129.1" stroke="#555555" stroke-width="1"/>
<text x="320.3" y="133.5" font-size="12.5" text-anchor="end">200</text>
<line x1="326.8" y1="103.2" x2="329.3" y2="103.2" stroke="#555555" stroke-width="1"/>
<line x1="539.0" y1="103.2" x2="536.5" y2="103.2" stroke="#555555" stroke-width="1"/>
<text x="320.3" y="107.6" font-size="12.5" text-anchor="end">400</text>
<line x1="326.8" y1="77.4" x2="329.3" y2="77.4" stroke="#555555" stroke-width="1"/>
<line x1="539.0" y1="77.4" x2="536.5" y2="77.4" stroke="#555555" stroke-width="1"/>
<text x="320.3" y="81.8" font-size="12.5" text-anchor="end">600</text>
<line x1="326.8" y1="51.5" x2="329.3" y2="51.5" stroke="#555555" stroke-width="1"/>
<line x1="539.0" y1="51.5" x2="536.5" y2="51.5" stroke="#555555" stroke-width="1"/>
<text x="320.3" y="55.9" font-size="12.5" text-anchor="end">800</text>
<line x1="326.8" y1="25.6" x2="329.3" y2="25.6" stroke="#555555" stroke-width="1"/>
<line x1="539.0" y1="25.6" x2="536.5" y2="25.6" stroke="#555555" stroke-width="1"/>
<text x="320.3" y="30.0" font-size="12.5" text-anchor="end">1000</text>
<text x="287.5" y="82.8" font-size="14.4" text-anchor="middle" transform="rotate(-90 287.5 82.8)">Traffic flow (veh/h)</text>
<text x="433.3" y="191.2" font-size="14.4" text-anchor="middle">Traffic density (veh/km)</text>
<text x="430.4" y="207.4" font-size="15.3" text-anchor="middle">(b)</text>
<rect x="47.8" y="227.2" width="211.4" height="136.2" fill="none" stroke="#555555" stroke-width="1"/>
<line x1="47.8" y1="363.4" x2="47.8" y2="360.9" stroke="#555555" stroke-width="1"/>
<line x1="47.8" y1="227.2" x2="47.8" y2="229.7" stroke="#555555" stroke-width="1"/>
<text x="47.8" y="382.9" font-size="12.5" text-anchor="middle">0</text>
<line x1="100.6" y1="363.4" x2="100.6" y2="360.9" stroke="#555555" stroke-width="1"/>
<line x1="100.6" y1="227.2" x2="100.6" y2="229.7" stroke="#555555" stroke-width="1"/>
<text x="100.6" y="382.9" font-size="12.5" text-anchor="middle">20</text>
<line x1="153.5" y1="363.4" x2="153.5" y2="360.9" stroke="#555555" stroke-width="1"/>
<line x1="153.5" y1="227.2" x2="153.5" y2="229.7" stroke="#555555" stroke-width="1"/>
<text x="153.5" y="382.9" font-size="12.5" text-anchor="middle">40</text>
<line x1="206.3" y1="363.4" x2="206.3" y2="360.9" stroke="#555555" stroke-width="1"/>
<line x1="206.3" y1="227.2" x2="206.3" y2="229.7" stroke="#555555" stroke-width="1"/>
<text x="206.3" y="382.9" font-size="12.5" text-anchor="middle">60</text>
<line x1="259.2" y1="363.4" x2="259.2" y2="360.9" stroke="#555555" stroke-width="1"/>
<line x1="259.2" y1="227.2" x2="259.2" y2="229.7" stroke="#555555" stroke-width="1"/>
<text x="259.2" y="382.9" font-size="12.5" text-anchor="middle">80</text>
<line x1="47.8" y1="363.4" x2="50.3" y2="363.4" stroke="#555555" stroke-width="1"/>
<line x1="259.2" y1="363.4" x2="256.7" y2="363.4" stroke="#555555" stroke-width="1"/>
<text x="41.3" y="367.8" font-size="12.5" text-anchor="end">0</text>
<line x1="47.8" y1="306.6" x2="50.3" y2="306.6" stroke="#555555" stroke-width="1"/>
<line x1="259.2" y1="306.6" x2="256.7" y2="306.6" stroke="#555555" stroke-width="1"/>
<text x="41.3" y="311.0" font-size="12.5" text-anchor="end">50</text>
<line x1="47.8" y1="249.9" x2="50.3" y2="249.9" stroke="#555555" stroke-width="1"/>
<line x1="259.2" y1="249.9" x2="256.7" y2="249.9" stroke="#555555" stroke-width="1"/>
<text x="41.3" y="254.3" font-size="12.5" text-anchor="end">100</text>
<text x="17.3" y="295.0" font-size="14.4" text-anchor="middle" transform="rotate(-90 17.3 295.0)">Trip speed (km/h)</text>
<text x="153.5" y="400.0" font-size="14.4" text-anchor="middle">Traffic density (veh/km)</text>
<text x="126.4" y="416.0" font-size="15" text-anchor="middle" font-weight="bold">(c)</text>
<rect x="326.9" y="227.2" width="211.8" height="136.2" fill="none" stroke="#555555" stroke-width="1"/>
<line x1="326.9" y1="363.4" x2="326.9" y2="360.9" stroke="#555555" stroke-width="1"/>
<line x1="326.9" y1="227.2" x2="326.9" y2="229.7" stroke="#555555" stroke-width="1"/>
<text x="326.9" y="382.9" font-size="12.5" text-anchor="middle">0</text>
<line x1="417.2" y1="363.4" x2="417.2" y2="360.9" stroke="#555555" stroke-width="1"/>
<line x1="417.2" y1="227.2" x2="417.2" y2="229.7" stroke="#555555" stroke-width="1"/>
<text x="417.2" y="382.9" font-size="12.5" text-anchor="middle">50</text>
<line x1="507.6" y1="363.4" x2="507.6" y2="360.9" stroke="#555555" stroke-width="1"/>
<line x1="507.6" y1="227.2" x2="507.6" y2="229.7" stroke="#555555" stroke-width="1"/>
<text x="507.6" y="382.9" font-size="12.5" text-anchor="middle">100</text>
<line x1="326.9" y1="363.4" x2="329.4" y2="363.4" stroke="#555555" stroke-width="1"/>
<line x1="538.7" y1="363.4" x2="536.2" y2="363.4" stroke="#555555" stroke-width="1"/>
<text x="320.4" y="367.8" font-size="12.5" text-anchor="end">0</text>
<line x1="326.9" y1="302.8" x2="329.4" y2="302.8" stroke="#555555" stroke-width="1"/>
<line x1="538.7" y1="302.8" x2="536.2" y2="302.8" stroke="#555555" stroke-width="1"/>
<text x="320.4" y="307.2" font-size="12.5" text-anchor="end">500</text>
<line x1="326.9" y1="242.2" x2="329.4" y2="242.2" stroke="#555555" stroke-width="1"/>
<line x1="538.7" y1="242.2" x2="536.2" y2="242.2" stroke="#555555" stroke-width="1"/>
<text x="320.4" y="246.6" font-size="12.5" text-anchor="end">1000</text>
<text x="286.8" y="293.0" font-size="14.4" text-anchor="middle" transform="rotate(-90 286.8 293.0)">Traffic flow (veh/h)</text>
<text x="433.3" y="399.5" font-size="14.4" text-anchor="middle">Trip speed (km/h)</text>
<text x="421.0" y="418.2" font-size="15.3" text-anchor="middle">(d)</text>
<path fill="#1a8bb7" d="M346.0 64.0L356.0 60.0L366.0 60.0L375.0 53.0L383.0 52.0L384.0 70.0L395.0 73.0L407.0 74.0L407.0 83.0L384.0 84.0L370.0 84.0L352.0 82.0L345.0 76.0zM368.9 54.4h6.0v6.0h-6.0zM373.2 52.3h6.0v6.0h-6.0zM378.8 52.5h6.0v6.0h-6.0zM355.1 57.3h6.0v6.0h-6.0zM360.7 58.3h6.0v6.0h-6.0zM365.3 57.6h6.0v6.0h-6.0zM369.3 57.9h6.0v6.0h-6.0zM374.3 56.4h6.0v6.0h-6.0zM377.1 57.6h6.0v6.0h-6.0zM347.3 61.4h6.0v6.0h-6.0zM350.5 61.2h6.0v6.0h-6.0zM353.0 59.7h6.0v6.0h-6.0zM356.7 62.1h6.0v6.0h-6.0zM362.6 62.3h6.0v6.0h-6.0zM364.7 61.4h6.0v6.0h-6.0zM370.0 61.6h6.0v6.0h-6.0zM373.5 62.4h6.0v6.0h-6.0zM376.8 61.1h6.0v6.0h-6.0zM344.8 65.4h6.0v6.0h-6.0zM351.4 66.1h6.0v6.0h-6.0zM354.6 64.7h6.0v6.0h-6.0zM358.7 65.2h6.0v6.0h-6.0zM361.8 65.9h6.0v6.0h-6.0zM364.8 65.7h6.0v6.0h-6.0zM368.7 65.3h6.0v6.0h-6.0zM373.9 64.2h6.0v6.0h-6.0zM378.6 65.0h6.0v6.0h-6.0zM342.9 70.2h6.0v6.0h-6.0zM347.1 68.7h6.0v6.0h-6.0zM350.2 68.5h6.0v6.0h-6.0zM353.0 69.0h6.0v6.0h-6.0zM358.9 70.0h6.0v6.0h-6.0zM362.6 70.3h6.0v6.0h-6.0zM365.4 68.1h6.0v6.0h-6.0zM369.9 68.4h6.0v6.0h-6.0zM373.2 68.8h6.0v6.0h-6.0zM378.4 69.0h6.0v6.0h-6.0zM381.5 69.9h6.0v6.0h-6.0zM387.3 68.9h6.0v6.0h-6.0zM342.9 72.3h6.0v6.0h-6.0zM345.0 71.7h6.0v6.0h-6.0zM350.4 72.9h6.0v6.0h-6.0zM354.4 73.4h6.0v6.0h-6.0zM358.9 74.3h6.0v6.0h-6.0zM362.5 72.2h6.0v6.0h-6.0zM365.9 72.1h6.0v6.0h-6.0zM368.6 72.9h6.0v6.0h-6.0zM374.6 72.1h6.0v6.0h-6.0zM377.4 72.6h6.0v6.0h-6.0zM382.6 73.1h6.0v6.0h-6.0zM386.3 73.7h6.0v6.0h-6.0zM389.7 73.8h6.0v6.0h-6.0zM395.1 71.8h6.0v6.0h-6.0zM399.2 73.6h6.0v6.0h-6.0zM401.0 72.9h6.0v6.0h-6.0zM347.2 76.9h6.0v6.0h-6.0zM350.4 76.2h6.0v6.0h-6.0zM354.6 77.9h6.0v6.0h-6.0zM358.4 77.6h6.0v6.0h-6.0zM361.2 78.1h6.0v6.0h-6.0zM367.3 78.3h6.0v6.0h-6.0zM370.1 77.8h6.0v6.0h-6.0zM373.5 78.1h6.0v6.0h-6.0zM379.0 76.6h6.0v6.0h-6.0zM380.8 76.8h6.0v6.0h-6.0zM386.1 77.8h6.0v6.0h-6.0zM390.0 75.7h6.0v6.0h-6.0zM394.9 75.8h6.0v6.0h-6.0zM398.8 76.1h6.0v6.0h-6.0zM401.5 77.8h6.0v6.0h-6.0zM369.5 80.7h6.0v6.0h-6.0zM386.2 80.2h6.0v6.0h-6.0zM394.3 79.7h6.0v6.0h-6.0z"/>
<path fill="#1d5a8d" d="M341.0 66.0L348.0 58.0L351.0 48.0L356.0 48.0L356.0 62.0L352.0 68.0L354.0 76.0L342.0 79.0zM349.0 48.5h6.0v6.0h-6.0zM346.3 52.9h6.0v6.0h-6.0zM349.7 51.7h6.0v6.0h-6.0zM344.9 56.3h6.0v6.0h-6.0zM349.6 57.0h6.0v6.0h-6.0zM341.2 60.8h6.0v6.0h-6.0zM345.7 61.8h6.0v6.0h-6.0zM348.9 61.1h6.0v6.0h-6.0zM340.7 64.9h6.0v6.0h-6.0zM345.2 64.4h6.0v6.0h-6.0zM342.7 70.2h6.0v6.0h-6.0zM344.6 68.4h6.0v6.0h-6.0zM339.4 74.4h6.0v6.0h-6.0zM342.0 71.7h6.0v6.0h-6.0zM345.5 73.8h6.0v6.0h-6.0z"/>
<path fill="#45a5b1" d="M350.0 80.0L362.0 78.0L372.0 80.0L394.0 81.0L395.0 88.0L372.0 88.0L362.0 90.0L358.0 94.0L350.0 92.0zM359.9 75.8h6.0v6.0h-6.0zM352.3 78.7h6.0v6.0h-6.0zM355.6 80.2h6.0v6.0h-6.0zM357.7 78.0h6.0v6.0h-6.0zM363.9 79.9h6.0v6.0h-6.0zM367.4 78.0h6.0v6.0h-6.0zM370.8 80.0h6.0v6.0h-6.0zM376.1 79.8h6.0v6.0h-6.0zM378.2 80.0h6.0v6.0h-6.0zM382.6 79.6h6.0v6.0h-6.0zM386.0 80.3h6.0v6.0h-6.0zM350.6 82.4h6.0v6.0h-6.0zM354.1 83.5h6.0v6.0h-6.0zM357.9 82.2h6.0v6.0h-6.0zM361.8 83.4h6.0v6.0h-6.0zM367.2 83.1h6.0v6.0h-6.0zM369.7 82.8h6.0v6.0h-6.0zM374.6 81.9h6.0v6.0h-6.0zM377.6 84.4h6.0v6.0h-6.0zM381.9 82.4h6.0v6.0h-6.0zM386.4 83.3h6.0v6.0h-6.0zM389.8 82.9h6.0v6.0h-6.0zM351.0 86.9h6.0v6.0h-6.0zM355.5 86.4h6.0v6.0h-6.0zM357.7 87.0h6.0v6.0h-6.0zM354.8 90.0h6.0v6.0h-6.0z"/>
<path fill="#1d5a8d" d="M375.6 63.0h4.9v6.0h-4.9zM377.0 53.4h6.0v5.6h-6.0zM365.0 66.0h5.0v5.0h-5.0z"/>
<path fill="#1a8bb7" d="M401.0 82.5h6.0v6.0h-6.0z"/>
<path fill="#45a5b1" d="M408.0 80.0h6.0v6.0h-6.0zM401.0 77.0h6.0v6.0h-6.0z"/>
<path fill="#1a8bb7" d="M440.8 83.0h4.5v4.5h-4.5z"/>
<path fill="#f9b04d" d="M327.0 140.0L327.0 134.0L329.0 125.0L330.3 117.0L333.4 102.0L336.0 90.0L337.5 80.0L346.0 80.0L346.0 91.0L343.0 102.0L339.8 117.0L335.6 125.0L333.4 134.0L333.4 140.0zM335.9 81.0h5.0v5.0h-5.0zM337.7 80.9h5.0v5.0h-5.0zM341.3 81.7h5.0v5.0h-5.0zM335.0 85.0h5.0v5.0h-5.0zM338.6 84.4h5.0v5.0h-5.0zM342.0 84.3h5.0v5.0h-5.0zM333.8 88.5h5.0v5.0h-5.0zM339.6 87.8h5.0v5.0h-5.0zM341.6 88.2h5.0v5.0h-5.0zM336.2 91.7h5.0v5.0h-5.0zM338.0 92.6h5.0v5.0h-5.0zM341.7 90.9h5.0v5.0h-5.0zM332.5 94.5h5.0v5.0h-5.0zM335.6 94.7h5.0v5.0h-5.0zM338.6 95.2h5.0v5.0h-5.0zM332.5 98.8h5.0v5.0h-5.0zM334.4 99.6h5.0v5.0h-5.0zM338.4 98.1h5.0v5.0h-5.0zM330.9 101.7h5.0v5.0h-5.0zM334.8 101.1h5.0v5.0h-5.0zM337.8 101.1h5.0v5.0h-5.0zM330.4 105.3h5.0v5.0h-5.0zM334.4 105.4h5.0v5.0h-5.0zM328.9 109.8h5.0v5.0h-5.0zM332.6 107.9h5.0v5.0h-5.0zM335.7 108.5h5.0v5.0h-5.0zM337.6 108.7h5.0v5.0h-5.0zM331.9 111.3h5.0v5.0h-5.0zM336.2 111.9h5.0v5.0h-5.0zM329.1 116.8h5.0v5.0h-5.0zM332.0 117.1h5.0v5.0h-5.0zM335.1 116.8h5.0v5.0h-5.0zM327.3 118.3h5.0v5.0h-5.0zM332.4 119.4h5.0v5.0h-5.0zM328.4 123.5h5.0v5.0h-5.0zM331.9 123.7h5.0v5.0h-5.0zM327.6 126.5h5.0v5.0h-5.0zM327.7 131.1h5.0v5.0h-5.0zM330.7 130.7h5.0v5.0h-5.0zM328.9 133.6h5.0v5.0h-5.0zM328.2 136.0h5.0v5.0h-5.0z"/>
<path fill="#f7715b" d="M329.0 122.5h6.6v3.5h-6.6zM343.0 89.5h4.0v3.5h-4.0z"/>
<path fill="#f9b04d" d="M336.4 80.0h7.6v8.0h-7.6z"/>
<path fill="#f7715b" d="M385.0 51.0L393.0 48.0L400.0 49.0L408.0 51.0L411.0 58.0L404.0 63.0L395.0 63.0L386.0 60.0zM383.5 50.5h6.0v6.0h-6.0zM387.4 49.6h6.0v6.0h-6.0zM390.2 48.4h6.0v6.0h-6.0zM394.9 49.4h6.0v6.0h-6.0zM398.6 50.1h6.0v6.0h-6.0zM382.9 53.9h6.0v6.0h-6.0zM386.9 54.0h6.0v6.0h-6.0zM389.5 52.9h6.0v6.0h-6.0zM394.7 53.7h6.0v6.0h-6.0zM399.6 54.1h6.0v6.0h-6.0zM405.0 53.7h6.0v6.0h-6.0zM385.6 57.2h6.0v6.0h-6.0zM389.7 57.3h6.0v6.0h-6.0zM394.0 58.9h6.0v6.0h-6.0zM401.3 57.3h6.0v6.0h-6.0zM414.0 51.0L421.0 47.0L430.0 47.0L437.0 50.0L441.0 52.0L440.0 58.0L430.0 59.0L417.0 58.0zM416.6 45.4h6.0v6.0h-6.0zM419.6 45.0h6.0v6.0h-6.0zM423.0 45.5h6.0v6.0h-6.0zM412.1 47.6h6.0v6.0h-6.0zM416.7 47.7h6.0v6.0h-6.0zM421.4 48.1h6.0v6.0h-6.0zM424.3 48.6h6.0v6.0h-6.0zM427.6 47.2h6.0v6.0h-6.0zM433.6 49.2h6.0v6.0h-6.0zM416.4 54.4h6.0v6.0h-6.0zM420.7 53.3h6.0v6.0h-6.0zM423.1 51.7h6.0v6.0h-6.0zM428.2 51.7h6.0v6.0h-6.0zM432.3 54.4h6.0v6.0h-6.0zM452.0 51.0L460.0 49.0L468.0 50.0L468.0 61.0L458.0 61.0L453.0 57.0zM454.6 46.9h6.0v6.0h-6.0zM458.8 46.5h6.0v6.0h-6.0zM454.1 50.6h6.0v6.0h-6.0zM456.7 50.2h6.0v6.0h-6.0zM461.9 51.3h6.0v6.0h-6.0zM455.1 54.0h6.0v6.0h-6.0zM459.5 53.5h6.0v6.0h-6.0zM463.4 54.5h6.0v6.0h-6.0z"/>
<path fill="#f35a79" d="M458.0 47.0L480.0 46.0L500.0 49.0L512.0 52.0L519.0 61.0L523.0 68.0L524.0 75.0L515.0 78.0L505.0 78.0L500.0 75.0L485.0 73.0L470.0 70.0L458.0 66.0zM456.0 44.3h6.0v6.0h-6.0zM462.6 43.8h6.0v6.0h-6.0zM468.0 44.4h6.0v6.0h-6.0zM472.6 43.9h6.0v6.0h-6.0zM482.2 44.4h6.0v6.0h-6.0zM460.2 46.9h6.0v6.0h-6.0zM462.7 49.0h6.0v6.0h-6.0zM469.8 46.0h6.0v6.0h-6.0zM473.2 48.1h6.0v6.0h-6.0zM477.2 48.2h6.0v6.0h-6.0zM483.4 47.8h6.0v6.0h-6.0zM486.2 46.5h6.0v6.0h-6.0zM490.2 46.4h6.0v6.0h-6.0zM494.3 46.6h6.0v6.0h-6.0zM501.1 47.6h6.0v6.0h-6.0zM505.5 48.8h6.0v6.0h-6.0zM455.4 51.2h6.0v6.0h-6.0zM459.6 51.3h6.0v6.0h-6.0zM462.9 51.4h6.0v6.0h-6.0zM469.2 52.0h6.0v6.0h-6.0zM472.7 52.0h6.0v6.0h-6.0zM477.7 52.0h6.0v6.0h-6.0zM481.8 53.5h6.0v6.0h-6.0zM487.3 51.1h6.0v6.0h-6.0zM490.4 51.0h6.0v6.0h-6.0zM495.1 50.5h6.0v6.0h-6.0zM500.8 52.2h6.0v6.0h-6.0zM504.3 53.2h6.0v6.0h-6.0zM508.5 52.2h6.0v6.0h-6.0zM455.3 56.6h6.0v6.0h-6.0zM459.6 55.5h6.0v6.0h-6.0zM464.2 57.1h6.0v6.0h-6.0zM469.3 56.3h6.0v6.0h-6.0zM472.8 56.5h6.0v6.0h-6.0zM477.6 56.4h6.0v6.0h-6.0zM480.5 55.8h6.0v6.0h-6.0zM488.0 57.5h6.0v6.0h-6.0zM490.9 57.3h6.0v6.0h-6.0zM494.6 55.8h6.0v6.0h-6.0zM500.1 57.1h6.0v6.0h-6.0zM503.0 56.4h6.0v6.0h-6.0zM510.3 56.9h6.0v6.0h-6.0zM455.5 62.1h6.0v6.0h-6.0zM460.4 60.8h6.0v6.0h-6.0zM462.6 61.1h6.0v6.0h-6.0zM467.5 61.1h6.0v6.0h-6.0zM472.3 60.5h6.0v6.0h-6.0zM477.6 62.0h6.0v6.0h-6.0zM483.5 60.7h6.0v6.0h-6.0zM484.9 61.8h6.0v6.0h-6.0zM490.5 61.8h6.0v6.0h-6.0zM496.5 59.5h6.0v6.0h-6.0zM500.7 60.3h6.0v6.0h-6.0zM503.9 60.5h6.0v6.0h-6.0zM509.1 60.2h6.0v6.0h-6.0zM513.5 60.3h6.0v6.0h-6.0zM516.8 60.2h6.0v6.0h-6.0zM460.4 64.4h6.0v6.0h-6.0zM463.4 65.3h6.0v6.0h-6.0zM468.6 65.1h6.0v6.0h-6.0zM473.1 66.3h6.0v6.0h-6.0zM476.4 65.7h6.0v6.0h-6.0zM480.9 65.6h6.0v6.0h-6.0zM485.9 66.5h6.0v6.0h-6.0zM492.2 66.9h6.0v6.0h-6.0zM495.2 65.9h6.0v6.0h-6.0zM499.0 66.2h6.0v6.0h-6.0zM505.4 65.3h6.0v6.0h-6.0zM508.4 66.3h6.0v6.0h-6.0zM514.3 66.4h6.0v6.0h-6.0zM517.3 64.7h6.0v6.0h-6.0zM487.8 70.0h6.0v6.0h-6.0zM489.9 68.8h6.0v6.0h-6.0zM496.5 71.2h6.0v6.0h-6.0zM500.5 70.9h6.0v6.0h-6.0zM505.4 69.2h6.0v6.0h-6.0zM508.1 71.2h6.0v6.0h-6.0zM514.6 69.8h6.0v6.0h-6.0zM517.3 68.7h6.0v6.0h-6.0zM509.0 74.3h6.0v6.0h-6.0zM514.0 73.3h6.0v6.0h-6.0z"/>
<path fill="#f7715b" d="M474.3 54.6h6.0v6.0h-6.0zM483.8 53.3h6.0v6.0h-6.0zM487.0 53.6h6.0v6.0h-6.0zM477.0 58.8h6.0v6.0h-6.0zM483.1 58.3h6.0v6.0h-6.0zM488.1 59.1h6.0v6.0h-6.0zM474.5 61.8h6.0v6.0h-6.0zM478.6 63.5h6.0v6.0h-6.0zM481.8 62.0h6.0v6.0h-6.0zM488.7 62.8h6.0v6.0h-6.0zM486.6 66.8h6.0v6.0h-6.0zM503.4 64.7h6.0v6.0h-6.0zM507.7 64.4h6.0v6.0h-6.0zM514.0 63.7h6.0v6.0h-6.0zM504.9 68.5h6.0v6.0h-6.0zM508.2 68.1h6.0v6.0h-6.0zM505.1 72.6h6.0v6.0h-6.0zM508.6 72.2h6.0v6.0h-6.0z"/>
<path fill="#f9b04d" d="M380.0 58.0L386.0 58.0L400.0 60.0L411.0 57.0L420.0 58.0L441.0 56.0L447.0 54.0L453.0 58.0L458.0 62.0L472.0 63.0L474.0 69.0L484.0 69.0L486.0 71.0L502.0 71.0L504.0 76.0L510.0 77.0L505.0 84.0L500.0 87.0L490.0 87.0L484.0 93.0L474.0 93.0L466.0 87.0L458.0 88.0L452.0 91.0L446.0 92.0L440.0 88.0L432.0 87.5L422.0 87.0L414.0 84.0L407.0 79.0L398.0 77.0L390.0 77.0L384.0 75.0L380.0 72.0zM395.0 56.8h6.0v6.0h-6.0zM402.4 56.4h6.0v6.0h-6.0zM407.4 56.0h6.0v6.0h-6.0zM414.1 56.0h6.0v6.0h-6.0zM417.7 55.7h6.0v6.0h-6.0zM422.8 55.1h6.0v6.0h-6.0zM425.7 55.7h6.0v6.0h-6.0zM431.1 54.3h6.0v6.0h-6.0zM435.6 55.4h6.0v6.0h-6.0zM438.9 56.2h6.0v6.0h-6.0zM445.4 55.0h6.0v6.0h-6.0zM450.2 57.0h6.0v6.0h-6.0zM381.4 60.3h6.0v6.0h-6.0zM385.8 59.8h6.0v6.0h-6.0zM391.8 61.5h6.0v6.0h-6.0zM394.2 61.4h6.0v6.0h-6.0zM398.0 59.5h6.0v6.0h-6.0zM405.3 59.0h6.0v6.0h-6.0zM409.0 61.6h6.0v6.0h-6.0zM413.4 59.9h6.0v6.0h-6.0zM416.0 59.8h6.0v6.0h-6.0zM421.9 60.9h6.0v6.0h-6.0zM426.2 61.0h6.0v6.0h-6.0zM430.7 60.4h6.0v6.0h-6.0zM436.3 58.9h6.0v6.0h-6.0zM441.4 59.8h6.0v6.0h-6.0zM444.4 61.5h6.0v6.0h-6.0zM449.2 60.1h6.0v6.0h-6.0zM452.6 59.1h6.0v6.0h-6.0zM458.8 60.0h6.0v6.0h-6.0zM463.0 60.6h6.0v6.0h-6.0zM382.5 65.1h6.0v6.0h-6.0zM385.9 64.9h6.0v6.0h-6.0zM390.2 65.5h6.0v6.0h-6.0zM396.2 65.4h6.0v6.0h-6.0zM398.9 64.1h6.0v6.0h-6.0zM405.5 64.1h6.0v6.0h-6.0zM409.0 63.2h6.0v6.0h-6.0zM411.8 63.6h6.0v6.0h-6.0zM418.0 63.6h6.0v6.0h-6.0zM422.5 63.2h6.0v6.0h-6.0zM427.1 65.1h6.0v6.0h-6.0zM430.2 63.7h6.0v6.0h-6.0zM434.7 64.5h6.0v6.0h-6.0zM439.0 63.7h6.0v6.0h-6.0zM445.5 65.9h6.0v6.0h-6.0zM447.9 64.6h6.0v6.0h-6.0zM454.0 65.9h6.0v6.0h-6.0zM458.2 64.6h6.0v6.0h-6.0zM463.4 65.4h6.0v6.0h-6.0zM467.7 64.9h6.0v6.0h-6.0zM381.3 67.8h6.0v6.0h-6.0zM386.4 67.6h6.0v6.0h-6.0zM390.1 69.3h6.0v6.0h-6.0zM396.0 68.6h6.0v6.0h-6.0zM398.5 68.5h6.0v6.0h-6.0zM405.0 67.7h6.0v6.0h-6.0zM407.4 68.5h6.0v6.0h-6.0zM414.4 70.2h6.0v6.0h-6.0zM419.0 67.6h6.0v6.0h-6.0zM422.0 67.9h6.0v6.0h-6.0zM426.8 69.9h6.0v6.0h-6.0zM430.9 69.6h6.0v6.0h-6.0zM436.1 69.0h6.0v6.0h-6.0zM439.7 68.2h6.0v6.0h-6.0zM445.2 70.5h6.0v6.0h-6.0zM450.5 70.3h6.0v6.0h-6.0zM454.6 69.5h6.0v6.0h-6.0zM458.0 67.8h6.0v6.0h-6.0zM463.4 68.0h6.0v6.0h-6.0zM468.4 70.1h6.0v6.0h-6.0zM470.8 70.3h6.0v6.0h-6.0zM476.8 70.0h6.0v6.0h-6.0zM479.3 68.3h6.0v6.0h-6.0zM483.9 70.4h6.0v6.0h-6.0zM488.7 68.8h6.0v6.0h-6.0zM494.8 68.7h6.0v6.0h-6.0zM498.9 69.4h6.0v6.0h-6.0zM382.9 72.2h6.0v6.0h-6.0zM385.6 72.5h6.0v6.0h-6.0zM389.3 73.7h6.0v6.0h-6.0zM394.8 72.3h6.0v6.0h-6.0zM399.4 74.1h6.0v6.0h-6.0zM402.9 74.0h6.0v6.0h-6.0zM409.0 74.5h6.0v6.0h-6.0zM414.6 74.7h6.0v6.0h-6.0zM417.1 72.2h6.0v6.0h-6.0zM421.5 72.5h6.0v6.0h-6.0zM427.6 73.1h6.0v6.0h-6.0zM431.2 74.2h6.0v6.0h-6.0zM435.4 75.1h6.0v6.0h-6.0zM440.5 73.8h6.0v6.0h-6.0zM443.4 72.7h6.0v6.0h-6.0zM449.6 73.3h6.0v6.0h-6.0zM453.8 74.7h6.0v6.0h-6.0zM458.6 74.6h6.0v6.0h-6.0zM462.1 72.1h6.0v6.0h-6.0zM466.3 74.8h6.0v6.0h-6.0zM470.7 72.3h6.0v6.0h-6.0zM474.6 75.1h6.0v6.0h-6.0zM479.6 72.2h6.0v6.0h-6.0zM484.6 72.1h6.0v6.0h-6.0zM490.2 74.1h6.0v6.0h-6.0zM493.8 74.2h6.0v6.0h-6.0zM497.0 74.4h6.0v6.0h-6.0zM503.4 74.3h6.0v6.0h-6.0zM413.3 77.2h6.0v6.0h-6.0zM416.1 76.9h6.0v6.0h-6.0zM421.6 78.1h6.0v6.0h-6.0zM426.5 77.8h6.0v6.0h-6.0zM431.1 77.4h6.0v6.0h-6.0zM436.9 77.1h6.0v6.0h-6.0zM439.6 78.5h6.0v6.0h-6.0zM445.6 77.7h6.0v6.0h-6.0zM449.4 77.2h6.0v6.0h-6.0zM452.0 79.5h6.0v6.0h-6.0zM456.6 78.8h6.0v6.0h-6.0zM461.0 77.4h6.0v6.0h-6.0zM467.0 79.3h6.0v6.0h-6.0zM472.5 77.4h6.0v6.0h-6.0zM474.5 78.8h6.0v6.0h-6.0zM481.3 79.4h6.0v6.0h-6.0zM483.8 78.5h6.0v6.0h-6.0zM489.9 79.2h6.0v6.0h-6.0zM495.1 78.8h6.0v6.0h-6.0zM499.6 76.7h6.0v6.0h-6.0zM416.3 80.9h6.0v6.0h-6.0zM421.3 83.9h6.0v6.0h-6.0zM425.2 83.3h6.0v6.0h-6.0zM431.1 81.3h6.0v6.0h-6.0zM434.6 83.2h6.0v6.0h-6.0zM439.6 83.7h6.0v6.0h-6.0zM443.1 82.7h6.0v6.0h-6.0zM450.1 81.7h6.0v6.0h-6.0zM452.8 82.7h6.0v6.0h-6.0zM457.0 83.0h6.0v6.0h-6.0zM463.8 81.9h6.0v6.0h-6.0zM466.0 83.7h6.0v6.0h-6.0zM470.1 83.6h6.0v6.0h-6.0zM475.7 83.4h6.0v6.0h-6.0zM480.1 83.9h6.0v6.0h-6.0zM485.5 82.8h6.0v6.0h-6.0zM488.2 82.8h6.0v6.0h-6.0zM493.2 83.2h6.0v6.0h-6.0zM497.9 81.6h6.0v6.0h-6.0zM441.2 86.8h6.0v6.0h-6.0zM443.6 86.2h6.0v6.0h-6.0zM449.4 87.5h6.0v6.0h-6.0zM467.9 87.5h6.0v6.0h-6.0zM472.4 87.4h6.0v6.0h-6.0zM476.4 86.7h6.0v6.0h-6.0zM479.5 88.4h6.0v6.0h-6.0z"/>
<path fill="#f7715b" d=""/>
<path fill="#f9b04d" d="M507.5 76.0h10.5v8.0h-10.5zM519.0 68.8h6.5v6.6h-6.5z"/>
<path fill="#f7715b" d="M390.0 55.0h6.0v6.0h-6.0zM400.0 57.0h6.0v6.0h-6.0zM418.0 52.0h6.0v6.0h-6.0zM430.0 53.0h6.0v6.0h-6.0zM458.0 55.0h6.0v6.0h-6.0zM385.0 52.0h6.0v6.0h-6.0zM423.0 48.0h6.0v6.0h-6.0z"/>
<path fill="#1d5a8d" d="M469.0 49.0h5.5v4.0h-5.5zM483.0 49.0h6.6v3.0h-6.6zM494.5 49.0h6.0v9.4h-6.0zM508.5 51.5h3.0v5.5h-3.0zM518.5 61.0h5.5v6.5h-5.5zM525.5 69.0h4.0v6.5h-4.0zM520.0 77.0h6.0v5.0h-6.0zM522.0 81.0h6.0v7.0h-6.0zM426.0 84.0h5.0v3.0h-5.0z"/>
<path fill="#f9b04d" d="M427.0 46.0h6.0v6.0h-6.0z"/>
<path fill="#f35a79" d="M462.0 45.5h7.0v5.5h-7.0z"/>
<path fill="#f7715b" d="M346.0 60.0L346.0 50.0L349.0 42.0L353.0 34.0L357.0 27.0L358.0 12.0L364.0 12.0L366.0 24.0L368.0 32.0L367.0 45.0L365.0 55.0L361.0 61.0L355.0 62.0zM355.4 12.4h6.0v6.0h-6.0zM358.0 13.4h6.0v6.0h-6.0zM354.6 15.9h6.0v6.0h-6.0zM359.3 17.1h6.0v6.0h-6.0zM357.9 20.9h6.0v6.0h-6.0zM362.5 19.8h6.0v6.0h-6.0zM359.5 25.1h6.0v6.0h-6.0zM362.0 24.5h6.0v6.0h-6.0zM352.1 29.4h6.0v6.0h-6.0zM354.9 27.6h6.0v6.0h-6.0zM358.1 29.4h6.0v6.0h-6.0zM362.7 30.0h6.0v6.0h-6.0zM350.6 34.3h6.0v6.0h-6.0zM354.7 33.9h6.0v6.0h-6.0zM358.9 31.9h6.0v6.0h-6.0zM363.2 32.2h6.0v6.0h-6.0zM347.6 36.1h6.0v6.0h-6.0zM350.4 38.0h6.0v6.0h-6.0zM353.9 38.3h6.0v6.0h-6.0zM357.7 37.7h6.0v6.0h-6.0zM363.3 36.7h6.0v6.0h-6.0zM348.1 40.7h6.0v6.0h-6.0zM352.0 40.7h6.0v6.0h-6.0zM354.3 41.8h6.0v6.0h-6.0zM360.2 39.9h6.0v6.0h-6.0zM364.0 40.5h6.0v6.0h-6.0zM346.0 43.9h6.0v6.0h-6.0zM351.9 43.7h6.0v6.0h-6.0zM353.9 44.3h6.0v6.0h-6.0zM358.0 45.8h6.0v6.0h-6.0zM361.6 45.5h6.0v6.0h-6.0zM346.7 49.1h6.0v6.0h-6.0zM351.6 48.4h6.0v6.0h-6.0zM355.3 49.6h6.0v6.0h-6.0zM358.4 49.7h6.0v6.0h-6.0zM361.8 49.0h6.0v6.0h-6.0zM348.1 54.4h6.0v6.0h-6.0zM351.4 53.2h6.0v6.0h-6.0zM355.4 53.6h6.0v6.0h-6.0zM359.5 53.1h6.0v6.0h-6.0zM343.0 56.5h6.0v6.0h-6.0zM346.9 56.1h6.0v6.0h-6.0zM352.1 56.0h6.0v6.0h-6.0zM356.1 57.2h6.0v6.0h-6.0zM356.0 8.5h6.0v6.0h-6.0zM365.0 10.0h5.5v6.5h-5.5z"/>
<path fill="#f9b04d" d="M351.5 14.6h6.5v12.4h-6.5z"/>
<path fill="#1d5a8d" d="M366.0 18.0h5.0v5.0h-5.0z"/>
<path fill="#f7715b" d="M364.0 23.0h6.0v6.0h-6.0z"/>
<path fill="#1d5a8d" d="M359.0 25.0h5.0v7.6h-5.0z"/>
<path fill="#f35a79" d="M359.0 32.0h8.0v23.0h-8.0zM367.6 30.7h4.4v7.3h-4.4z"/>
<path fill="#f9b04d" d="M348.0 32.6h8.0v13.4h-8.0z"/>
<path fill="#f7715b" d="M346.0 40.0h8.0v8.0h-8.0zM345.0 48.7h9.0v10.3h-9.0z"/>
<path fill="#f9b04d" d="M368.5 43.0h7.5v6.6h-7.5zM344.0 59.0h5.6v5.7h-5.6zM361.0 53.4h5.7v6.6h-5.7z"/>
<path fill="#f7715b" d="M354.0 53.0h7.0v8.0h-7.0zM368.5 53.4h6.5v6.6h-6.5z"/>
<path fill="#f9b04d" d="M360.0 53.4h7.0v7.1h-7.0z"/>
<path fill="#1d5a8d" d="M353.5 46.0h4.5v17.0h-4.5zM343.0 63.0h6.0v7.0h-6.0z"/>
<path fill="#f9b04d" d="M386.5 41.0h7.5v7.7h-7.5z"/>
<path fill="#f7715b" d="M415.0 51.0h5.0v5.0h-5.0z"/>
<path fill="#1a8bb7" d="M52.0 241.0L60.0 250.0L68.0 260.0L75.0 270.0L80.0 280.0L85.0 290.0L88.0 300.0L90.0 310.0L95.0 320.0L100.0 328.0L110.0 333.0L121.0 337.0L135.0 341.0L150.0 345.0L150.0 351.0L135.0 347.5L121.0 344.0L110.0 340.5L100.0 336.0L90.0 330.0L82.0 322.0L75.0 315.0L70.0 306.0L67.0 296.0L66.0 285.0L62.0 274.0L55.0 260.0L50.0 244.0zM51.1 242.6h6.0v6.0h-6.0zM49.7 244.7h6.0v6.0h-6.0zM54.1 246.1h6.0v6.0h-6.0zM51.5 249.1h6.0v6.0h-6.0zM55.0 248.3h6.0v6.0h-6.0zM57.6 249.2h6.0v6.0h-6.0zM54.3 251.1h6.0v6.0h-6.0zM58.7 251.9h6.0v6.0h-6.0zM61.1 252.8h6.0v6.0h-6.0zM53.7 255.3h6.0v6.0h-6.0zM58.0 256.4h6.0v6.0h-6.0zM60.2 254.9h6.0v6.0h-6.0zM63.3 255.6h6.0v6.0h-6.0zM54.2 258.4h6.0v6.0h-6.0zM56.4 260.1h6.0v6.0h-6.0zM61.5 259.3h6.0v6.0h-6.0zM63.5 260.0h6.0v6.0h-6.0zM58.3 263.7h6.0v6.0h-6.0zM61.3 261.9h6.0v6.0h-6.0zM63.8 261.4h6.0v6.0h-6.0zM60.8 266.2h6.0v6.0h-6.0zM64.8 266.8h6.0v6.0h-6.0zM68.2 265.3h6.0v6.0h-6.0zM71.4 266.2h6.0v6.0h-6.0zM61.3 270.2h6.0v6.0h-6.0zM64.4 270.1h6.0v6.0h-6.0zM68.1 270.4h6.0v6.0h-6.0zM71.6 269.9h6.0v6.0h-6.0zM60.6 273.2h6.0v6.0h-6.0zM65.2 271.9h6.0v6.0h-6.0zM68.6 272.0h6.0v6.0h-6.0zM72.0 271.8h6.0v6.0h-6.0zM74.6 274.0h6.0v6.0h-6.0zM65.7 276.4h6.0v6.0h-6.0zM67.9 277.4h6.0v6.0h-6.0zM72.2 275.4h6.0v6.0h-6.0zM74.8 276.6h6.0v6.0h-6.0zM65.6 279.1h6.0v6.0h-6.0zM68.6 279.9h6.0v6.0h-6.0zM71.7 280.5h6.0v6.0h-6.0zM74.8 280.3h6.0v6.0h-6.0zM63.6 282.9h6.0v6.0h-6.0zM67.5 283.6h6.0v6.0h-6.0zM72.4 283.1h6.0v6.0h-6.0zM74.6 283.4h6.0v6.0h-6.0zM79.6 283.5h6.0v6.0h-6.0zM65.4 287.4h6.0v6.0h-6.0zM68.3 286.8h6.0v6.0h-6.0zM70.9 285.9h6.0v6.0h-6.0zM76.1 287.7h6.0v6.0h-6.0zM79.1 286.0h6.0v6.0h-6.0zM80.8 286.9h6.0v6.0h-6.0zM64.3 291.5h6.0v6.0h-6.0zM67.2 291.5h6.0v6.0h-6.0zM72.7 290.6h6.0v6.0h-6.0zM75.6 290.8h6.0v6.0h-6.0zM79.0 290.9h6.0v6.0h-6.0zM82.5 290.9h6.0v6.0h-6.0zM64.5 292.8h6.0v6.0h-6.0zM66.8 295.0h6.0v6.0h-6.0zM72.6 294.5h6.0v6.0h-6.0zM75.5 293.8h6.0v6.0h-6.0zM78.0 294.6h6.0v6.0h-6.0zM82.7 293.0h6.0v6.0h-6.0zM68.4 296.7h6.0v6.0h-6.0zM70.9 297.9h6.0v6.0h-6.0zM75.0 297.6h6.0v6.0h-6.0zM77.4 297.0h6.0v6.0h-6.0zM81.9 298.5h6.0v6.0h-6.0zM67.9 301.1h6.0v6.0h-6.0zM72.0 301.6h6.0v6.0h-6.0zM75.6 300.5h6.0v6.0h-6.0zM78.2 300.5h6.0v6.0h-6.0zM81.7 301.8h6.0v6.0h-6.0zM85.4 299.9h6.0v6.0h-6.0zM68.1 304.4h6.0v6.0h-6.0zM71.7 304.5h6.0v6.0h-6.0zM75.1 303.4h6.0v6.0h-6.0zM79.0 303.7h6.0v6.0h-6.0zM81.0 305.5h6.0v6.0h-6.0zM86.3 305.2h6.0v6.0h-6.0zM70.6 307.6h6.0v6.0h-6.0zM75.2 307.9h6.0v6.0h-6.0zM79.3 308.4h6.0v6.0h-6.0zM83.0 308.9h6.0v6.0h-6.0zM86.2 308.7h6.0v6.0h-6.0zM74.1 312.1h6.0v6.0h-6.0zM78.8 311.1h6.0v6.0h-6.0zM81.5 311.7h6.0v6.0h-6.0zM85.1 312.3h6.0v6.0h-6.0zM74.7 314.4h6.0v6.0h-6.0zM78.1 314.1h6.0v6.0h-6.0zM80.9 315.2h6.0v6.0h-6.0zM86.5 315.5h6.0v6.0h-6.0zM88.6 313.9h6.0v6.0h-6.0zM83.2 319.1h6.0v6.0h-6.0zM85.3 318.6h6.0v6.0h-6.0zM88.1 318.0h6.0v6.0h-6.0zM92.5 318.1h6.0v6.0h-6.0zM84.7 321.7h6.0v6.0h-6.0zM87.9 321.6h6.0v6.0h-6.0zM92.7 322.5h6.0v6.0h-6.0zM90.1 325.8h6.0v6.0h-6.0zM93.2 326.5h6.0v6.0h-6.0zM95.8 326.6h6.0v6.0h-6.0zM92.7 329.6h6.0v6.0h-6.0zM95.6 328.7h6.0v6.0h-6.0zM98.9 327.9h6.0v6.0h-6.0zM102.7 329.8h6.0v6.0h-6.0zM107.0 330.1h6.0v6.0h-6.0zM100.1 333.1h6.0v6.0h-6.0zM103.7 332.0h6.0v6.0h-6.0zM106.8 332.9h6.0v6.0h-6.0zM110.3 331.5h6.0v6.0h-6.0zM106.7 335.1h6.0v6.0h-6.0zM108.9 335.9h6.0v6.0h-6.0zM112.6 335.8h6.0v6.0h-6.0zM116.1 335.5h6.0v6.0h-6.0zM119.9 337.0h6.0v6.0h-6.0zM123.1 335.9h6.0v6.0h-6.0zM114.2 338.8h6.0v6.0h-6.0zM121.1 340.3h6.0v6.0h-6.0zM125.0 340.5h6.0v6.0h-6.0zM127.5 340.2h6.0v6.0h-6.0zM130.5 339.1h6.0v6.0h-6.0zM135.4 339.5h6.0v6.0h-6.0zM137.5 340.0h6.0v6.0h-6.0zM130.2 343.2h6.0v6.0h-6.0zM135.2 343.2h6.0v6.0h-6.0zM137.6 342.7h6.0v6.0h-6.0zM142.6 343.7h6.0v6.0h-6.0zM144.8 343.2h6.0v6.0h-6.0zM144.7 346.2h6.0v6.0h-6.0z"/>
<path fill="#1d5a8d" d="M67.0 264.0L73.0 261.0L79.0 266.0L80.0 280.0L77.0 289.0L71.0 293.0L67.0 286.0zM66.7 260.7h6.0v6.0h-6.0zM71.6 261.1h6.0v6.0h-6.0zM75.5 263.2h6.0v6.0h-6.0zM64.2 266.8h6.0v6.0h-6.0zM68.2 265.2h6.0v6.0h-6.0zM71.5 265.3h6.0v6.0h-6.0zM75.7 267.4h6.0v6.0h-6.0zM66.9 268.8h6.0v6.0h-6.0zM72.5 268.7h6.0v6.0h-6.0zM75.4 269.7h6.0v6.0h-6.0zM64.5 275.3h6.0v6.0h-6.0zM68.0 275.3h6.0v6.0h-6.0zM73.0 274.3h6.0v6.0h-6.0zM76.1 274.0h6.0v6.0h-6.0zM65.0 278.0h6.0v6.0h-6.0zM68.3 278.9h6.0v6.0h-6.0zM72.4 277.0h6.0v6.0h-6.0zM75.3 276.6h6.0v6.0h-6.0zM64.8 281.5h6.0v6.0h-6.0zM69.3 283.2h6.0v6.0h-6.0zM71.9 280.8h6.0v6.0h-6.0zM75.5 281.1h6.0v6.0h-6.0zM68.2 286.0h6.0v6.0h-6.0zM73.1 285.7h6.0v6.0h-6.0z"/>
<path fill="#1a8bb7" d="M70.0 275.0h7.0v6.0h-7.0zM68.0 285.0h5.0v6.0h-5.0z"/>
<path fill="#45a5b1" d="M70.0 292.6h4.5v7.1h-4.5zM72.8 302.6h5.6v5.4h-5.6zM76.0 311.0h5.0v5.0h-5.0z"/>
<path fill="#1d5a8d" d="M51.0 252.0h3.0v10.0h-3.0z"/>
<path fill="#1a8bb7" d="M53.0 262.0h4.0v6.0h-4.0z"/>
<path fill="#f9b04d" d="M49.7 231.0L56.0 230.0L61.0 233.0L65.0 240.0L65.3 245.0L79.5 245.0L79.5 257.0L68.0 257.0L65.3 263.0L58.0 265.0L52.0 258.0L49.7 245.0zM49.4 232.0h6.0v6.0h-6.0zM55.4 231.2h6.0v6.0h-6.0zM57.6 230.0h6.0v6.0h-6.0zM50.6 234.7h6.0v6.0h-6.0zM55.5 233.9h6.0v6.0h-6.0zM59.7 233.6h6.0v6.0h-6.0zM50.7 238.3h6.0v6.0h-6.0zM55.8 240.3h6.0v6.0h-6.0zM58.6 237.7h6.0v6.0h-6.0zM51.9 244.0h6.0v6.0h-6.0zM55.4 243.2h6.0v6.0h-6.0zM58.7 244.0h6.0v6.0h-6.0zM63.1 243.6h6.0v6.0h-6.0zM70.1 243.2h6.0v6.0h-6.0zM74.9 242.2h6.0v6.0h-6.0zM52.1 247.5h6.0v6.0h-6.0zM53.3 248.2h6.0v6.0h-6.0zM58.5 248.2h6.0v6.0h-6.0zM63.6 246.0h6.0v6.0h-6.0zM65.4 245.7h6.0v6.0h-6.0zM71.5 247.8h6.0v6.0h-6.0zM73.9 245.9h6.0v6.0h-6.0zM51.6 249.6h6.0v6.0h-6.0zM53.3 252.0h6.0v6.0h-6.0zM59.0 250.5h6.0v6.0h-6.0zM61.7 250.5h6.0v6.0h-6.0zM66.2 251.0h6.0v6.0h-6.0zM70.6 250.2h6.0v6.0h-6.0zM73.5 250.2h6.0v6.0h-6.0zM50.6 255.4h6.0v6.0h-6.0zM54.0 253.7h6.0v6.0h-6.0zM57.5 254.5h6.0v6.0h-6.0zM62.3 254.3h6.0v6.0h-6.0zM55.1 260.3h6.0v6.0h-6.0zM58.2 259.9h6.0v6.0h-6.0zM61.4 258.3h6.0v6.0h-6.0zM46.0 224.0h7.0v6.5h-7.0z"/>
<path fill="#f7715b" d="M61.0 235.0h3.5v5.5h-3.5zM55.0 263.0h6.0v6.0h-6.0z"/>
<path fill="#f9b04d" d="M56.8 266.0h10.6v11.0h-10.6z"/>
<path fill="#f7715b" d="M62.4 272.0h5.6v7.5h-5.6zM67.4 255.0h15.6v7.0h-15.6z"/>
<path fill="#f35a79" d="M70.0 259.0h10.0v8.0h-10.0z"/>
<path fill="#f7715b" d="M74.0 262.0h8.7v6.5h-8.7zM79.0 268.5h6.5v7.1h-6.5zM84.8 277.0h5.7v6.4h-5.7z"/>
<path fill="#f35a79" d="M75.0 285.5h9.0v11.5h-9.0z"/>
<path fill="#f7715b" d="M78.0 284.0L90.0 284.0L92.6 287.0L92.6 298.3L80.0 298.3zM85.7 281.5h6.0v6.0h-6.0zM80.0 283.8h6.0v6.0h-6.0zM82.1 283.8h6.0v6.0h-6.0zM88.1 285.1h6.0v6.0h-6.0zM79.3 290.3h6.0v6.0h-6.0zM83.0 289.7h6.0v6.0h-6.0zM88.1 289.9h6.0v6.0h-6.0zM79.5 292.3h6.0v6.0h-6.0zM83.2 292.2h6.0v6.0h-6.0zM87.8 293.9h6.0v6.0h-6.0z"/>
<path fill="#f9b04d" d="M80.0 297.6h7.7v6.4h-7.7zM88.4 303.0h8.5v9.5h-8.5z"/>
<path fill="#f7715b" d="M87.0 308.0h7.0v7.0h-7.0z"/>
<path fill="#1a8bb7" d="M87.0 313.0h14.0v7.0h-14.0z"/>
<path fill="#f35a79" d="M113.0 322.5L130.0 329.5L150.0 335.5L180.0 339.5L210.0 343.5L244.0 347.5L244.0 352.0L210.0 348.0L180.0 344.0L150.0 340.0L130.0 334.0L113.0 327.0zM114.7 324.3h4.0v4.0h-4.0zM118.7 324.6h4.0v4.0h-4.0zM123.5 328.7h4.0v4.0h-4.0zM125.8 327.7h4.0v4.0h-4.0zM131.5 329.7h4.0v4.0h-4.0zM134.9 329.8h4.0v4.0h-4.0zM135.5 333.7h4.0v4.0h-4.0zM139.6 333.4h4.0v4.0h-4.0zM144.0 333.2h4.0v4.0h-4.0zM143.3 335.7h4.0v4.0h-4.0zM147.0 337.3h4.0v4.0h-4.0zM151.1 335.8h4.0v4.0h-4.0zM155.6 336.8h4.0v4.0h-4.0zM159.3 336.3h4.0v4.0h-4.0zM162.8 337.5h4.0v4.0h-4.0zM166.6 336.3h4.0v4.0h-4.0zM172.3 337.3h4.0v4.0h-4.0zM174.0 337.4h4.0v4.0h-4.0zM162.6 339.4h4.0v4.0h-4.0zM175.6 339.9h4.0v4.0h-4.0zM178.8 340.9h4.0v4.0h-4.0zM182.2 341.8h4.0v4.0h-4.0zM187.2 340.1h4.0v4.0h-4.0zM192.2 339.8h4.0v4.0h-4.0zM195.8 341.0h4.0v4.0h-4.0zM203.9 341.3h4.0v4.0h-4.0zM192.1 343.3h4.0v4.0h-4.0zM194.9 343.9h4.0v4.0h-4.0zM200.3 344.1h4.0v4.0h-4.0zM206.2 344.8h4.0v4.0h-4.0zM212.1 344.2h4.0v4.0h-4.0zM215.3 345.4h4.0v4.0h-4.0zM218.5 343.8h4.0v4.0h-4.0zM224.1 345.2h4.0v4.0h-4.0zM227.5 344.1h4.0v4.0h-4.0zM230.5 344.4h4.0v4.0h-4.0zM222.6 347.3h4.0v4.0h-4.0zM228.3 347.9h4.0v4.0h-4.0zM231.3 348.1h4.0v4.0h-4.0zM233.8 348.1h4.0v4.0h-4.0zM238.1 348.5h4.0v4.0h-4.0z"/>
<path fill="#f7715b" d="M113.0 324.5h5.0v3.5h-5.0zM124.7 329.0h3.3v3.0h-3.3zM136.0 333.5h12.0v2.9h-12.0z"/>
<path fill="#f9b04d" d="M100.0 322.0L106.0 320.0L113.0 323.0L116.0 326.5L129.7 333.0L146.0 336.5L150.0 338.5L170.0 341.5L190.0 344.5L210.0 347.5L230.0 350.0L244.0 352.0L244.0 358.4L210.0 357.6L190.0 356.4L170.0 354.0L150.0 352.0L146.0 350.5L138.0 346.0L121.4 340.5L110.0 337.0L101.0 333.0zM101.8 322.3h6.0v6.0h-6.0zM105.9 321.2h6.0v6.0h-6.0zM108.9 321.1h6.0v6.0h-6.0zM97.9 323.7h6.0v6.0h-6.0zM101.0 325.8h6.0v6.0h-6.0zM104.3 324.6h6.0v6.0h-6.0zM109.4 325.4h6.0v6.0h-6.0zM112.0 325.8h6.0v6.0h-6.0zM101.2 328.9h6.0v6.0h-6.0zM103.8 329.6h6.0v6.0h-6.0zM107.8 330.0h6.0v6.0h-6.0zM112.4 329.9h6.0v6.0h-6.0zM117.7 328.6h6.0v6.0h-6.0zM120.4 329.2h6.0v6.0h-6.0zM110.3 334.2h6.0v6.0h-6.0zM112.6 334.3h6.0v6.0h-6.0zM116.0 332.3h6.0v6.0h-6.0zM120.2 333.3h6.0v6.0h-6.0zM124.3 332.4h6.0v6.0h-6.0zM127.9 333.5h6.0v6.0h-6.0zM133.4 332.9h6.0v6.0h-6.0zM137.3 334.0h6.0v6.0h-6.0zM122.1 336.3h6.0v6.0h-6.0zM126.4 338.4h6.0v6.0h-6.0zM128.6 337.1h6.0v6.0h-6.0zM132.1 336.8h6.0v6.0h-6.0zM136.2 336.4h6.0v6.0h-6.0zM141.4 337.9h6.0v6.0h-6.0zM144.8 338.3h6.0v6.0h-6.0zM147.9 337.5h6.0v6.0h-6.0zM160.3 338.0h6.0v6.0h-6.0zM133.1 341.6h6.0v6.0h-6.0zM135.9 340.2h6.0v6.0h-6.0zM140.4 341.0h6.0v6.0h-6.0zM145.1 340.8h6.0v6.0h-6.0zM148.6 341.4h6.0v6.0h-6.0zM151.9 340.2h6.0v6.0h-6.0zM158.3 341.6h6.0v6.0h-6.0zM160.1 340.7h6.0v6.0h-6.0zM164.4 340.9h6.0v6.0h-6.0zM170.0 341.8h6.0v6.0h-6.0zM171.7 341.4h6.0v6.0h-6.0zM178.3 340.8h6.0v6.0h-6.0zM184.5 342.2h6.0v6.0h-6.0zM137.9 344.2h6.0v6.0h-6.0zM139.9 344.0h6.0v6.0h-6.0zM144.6 344.4h6.0v6.0h-6.0zM149.9 345.3h6.0v6.0h-6.0zM153.2 346.1h6.0v6.0h-6.0zM156.5 344.4h6.0v6.0h-6.0zM161.6 345.1h6.0v6.0h-6.0zM164.9 343.8h6.0v6.0h-6.0zM169.9 345.5h6.0v6.0h-6.0zM172.4 346.0h6.0v6.0h-6.0zM176.5 344.2h6.0v6.0h-6.0zM181.8 343.9h6.0v6.0h-6.0zM183.8 344.2h6.0v6.0h-6.0zM189.0 344.9h6.0v6.0h-6.0zM194.0 346.1h6.0v6.0h-6.0zM198.1 344.6h6.0v6.0h-6.0zM200.9 344.1h6.0v6.0h-6.0zM204.1 344.8h6.0v6.0h-6.0zM213.0 345.3h6.0v6.0h-6.0zM151.8 349.1h6.0v6.0h-6.0zM157.0 349.8h6.0v6.0h-6.0zM161.7 350.1h6.0v6.0h-6.0zM163.7 350.3h6.0v6.0h-6.0zM170.1 348.8h6.0v6.0h-6.0zM172.1 349.3h6.0v6.0h-6.0zM177.0 349.0h6.0v6.0h-6.0zM182.3 349.9h6.0v6.0h-6.0zM185.0 347.9h6.0v6.0h-6.0zM189.7 349.4h6.0v6.0h-6.0zM194.4 349.6h6.0v6.0h-6.0zM196.8 349.7h6.0v6.0h-6.0zM202.3 350.1h6.0v6.0h-6.0zM205.1 348.1h6.0v6.0h-6.0zM208.2 348.1h6.0v6.0h-6.0zM212.4 350.2h6.0v6.0h-6.0zM217.3 347.8h6.0v6.0h-6.0zM220.1 349.2h6.0v6.0h-6.0zM226.2 350.1h6.0v6.0h-6.0zM229.9 349.2h6.0v6.0h-6.0zM232.2 348.9h6.0v6.0h-6.0zM240.0 349.2h6.0v6.0h-6.0zM181.3 351.7h6.0v6.0h-6.0zM188.7 351.9h6.0v6.0h-6.0zM192.3 352.9h6.0v6.0h-6.0zM197.5 353.1h6.0v6.0h-6.0zM200.3 351.8h6.0v6.0h-6.0zM204.0 353.6h6.0v6.0h-6.0zM208.8 353.9h6.0v6.0h-6.0zM213.9 354.1h6.0v6.0h-6.0zM217.5 352.6h6.0v6.0h-6.0zM220.9 353.5h6.0v6.0h-6.0zM224.4 352.8h6.0v6.0h-6.0zM228.9 352.4h6.0v6.0h-6.0zM233.2 352.9h6.0v6.0h-6.0zM238.3 353.9h6.0v6.0h-6.0zM240.2 353.9h6.0v6.0h-6.0zM106.8 317.5h7.2v4.5h-7.2z"/>
<path fill="#1d5a8d" d="M244.0 350.0h5.5v9.0h-5.5zM208.0 344.3h6.0v1.7h-6.0z"/>
<path fill="#f35a79" d="M225.0 350.0h2.0v8.0h-2.0z"/>
<path fill="#1d5a8d" d="M336.0 289.0h3.5v12.0h-3.5z"/>
<path fill="#f35a79" d="M339.0 292.0L340.0 276.0L343.0 266.0L348.0 262.0L358.0 260.0L360.0 265.0L354.0 268.0L349.0 273.0L346.0 282.0L342.0 292.0zM352.6 257.7h6.0v6.0h-6.0zM355.0 257.5h6.0v6.0h-6.0zM343.1 262.1h6.0v6.0h-6.0zM349.0 260.4h6.0v6.0h-6.0zM351.0 261.5h6.0v6.0h-6.0zM355.7 261.5h6.0v6.0h-6.0zM339.8 265.7h6.0v6.0h-6.0zM344.1 266.1h6.0v6.0h-6.0zM348.4 264.5h6.0v6.0h-6.0zM351.0 263.8h6.0v6.0h-6.0zM340.4 269.7h6.0v6.0h-6.0zM344.3 268.8h6.0v6.0h-6.0zM339.4 274.1h6.0v6.0h-6.0zM343.5 274.2h6.0v6.0h-6.0zM339.0 276.5h6.0v6.0h-6.0zM343.2 277.5h6.0v6.0h-6.0zM340.4 281.0h6.0v6.0h-6.0z"/>
<path fill="#f7715b" d="M364.0 262.0L390.0 262.0L390.0 274.6L382.0 275.0L372.0 271.0L364.0 269.0zM361.9 259.6h6.0v6.0h-6.0zM378.0 259.3h6.0v6.0h-6.0zM381.9 259.6h6.0v6.0h-6.0zM385.1 260.3h6.0v6.0h-6.0zM362.0 263.2h6.0v6.0h-6.0zM365.6 261.7h6.0v6.0h-6.0zM368.2 262.4h6.0v6.0h-6.0zM371.8 262.3h6.0v6.0h-6.0zM375.9 262.4h6.0v6.0h-6.0zM381.4 262.6h6.0v6.0h-6.0zM384.6 262.2h6.0v6.0h-6.0zM364.1 266.7h6.0v6.0h-6.0zM370.4 267.4h6.0v6.0h-6.0zM373.2 267.5h6.0v6.0h-6.0zM378.0 267.8h6.0v6.0h-6.0zM380.2 265.7h6.0v6.0h-6.0zM384.5 266.3h6.0v6.0h-6.0zM380.7 270.2h6.0v6.0h-6.0zM386.4 271.0h6.0v6.0h-6.0z"/>
<path fill="#1a8bb7" d="M379.0 267.0L390.0 266.0L400.0 266.0L406.0 268.0L406.0 292.0L400.0 296.0L380.0 296.0L372.0 292.0L380.0 287.0L388.0 281.0zM387.9 264.0h6.0v6.0h-6.0zM393.2 264.2h6.0v6.0h-6.0zM380.1 267.3h6.0v6.0h-6.0zM386.3 267.1h6.0v6.0h-6.0zM387.9 267.0h6.0v6.0h-6.0zM393.8 268.3h6.0v6.0h-6.0zM397.6 265.7h6.0v6.0h-6.0zM402.3 267.3h6.0v6.0h-6.0zM386.3 269.9h6.0v6.0h-6.0zM389.7 272.4h6.0v6.0h-6.0zM394.1 272.1h6.0v6.0h-6.0zM396.5 271.6h6.0v6.0h-6.0zM401.0 272.2h6.0v6.0h-6.0zM385.2 276.2h6.0v6.0h-6.0zM388.5 274.6h6.0v6.0h-6.0zM392.1 274.1h6.0v6.0h-6.0zM397.9 275.6h6.0v6.0h-6.0zM402.3 275.5h6.0v6.0h-6.0zM385.0 280.2h6.0v6.0h-6.0zM390.0 280.3h6.0v6.0h-6.0zM393.2 278.3h6.0v6.0h-6.0zM396.0 279.7h6.0v6.0h-6.0zM400.0 277.6h6.0v6.0h-6.0zM381.2 283.5h6.0v6.0h-6.0zM384.2 281.7h6.0v6.0h-6.0zM388.4 283.6h6.0v6.0h-6.0zM392.4 283.4h6.0v6.0h-6.0zM395.8 283.6h6.0v6.0h-6.0zM400.0 282.2h6.0v6.0h-6.0zM372.9 286.8h6.0v6.0h-6.0zM378.2 287.7h6.0v6.0h-6.0zM381.1 288.0h6.0v6.0h-6.0zM385.3 287.6h6.0v6.0h-6.0zM389.1 287.2h6.0v6.0h-6.0zM392.2 288.2h6.0v6.0h-6.0zM397.4 287.9h6.0v6.0h-6.0zM401.3 285.7h6.0v6.0h-6.0zM374.4 291.3h6.0v6.0h-6.0zM377.6 291.0h6.0v6.0h-6.0zM380.3 291.0h6.0v6.0h-6.0zM384.9 290.4h6.0v6.0h-6.0zM388.6 290.8h6.0v6.0h-6.0zM392.3 290.0h6.0v6.0h-6.0zM397.9 290.6h6.0v6.0h-6.0zM357.0 294.5h8.0v6.5h-8.0z"/>
<path fill="#45a5b1" d="M364.5 292.0L376.0 292.0L378.0 295.0L385.0 295.0L385.0 300.7L364.5 300.7zM373.9 290.3h6.0v6.0h-6.0zM362.0 293.9h6.0v6.0h-6.0zM365.3 291.7h6.0v6.0h-6.0zM370.1 293.7h6.0v6.0h-6.0zM373.9 292.5h6.0v6.0h-6.0zM378.4 293.4h6.0v6.0h-6.0zM381.8 293.1h6.0v6.0h-6.0zM366.5 295.7h6.0v6.0h-6.0zM368.5 296.2h6.0v6.0h-6.0zM377.9 297.1h6.0v6.0h-6.0zM398.0 290.0L406.0 290.0L406.0 306.0L398.0 306.0zM400.2 287.1h6.0v6.0h-6.0zM399.7 291.1h6.0v6.0h-6.0zM401.9 290.2h6.0v6.0h-6.0zM398.5 296.0h6.0v6.0h-6.0zM402.1 294.4h6.0v6.0h-6.0zM395.3 299.6h6.0v6.0h-6.0zM399.5 297.8h6.0v6.0h-6.0zM402.4 297.9h6.0v6.0h-6.0zM395.2 302.1h6.0v6.0h-6.0zM399.1 301.8h6.0v6.0h-6.0z"/>
<path fill="#1d5a8d" d="M388.0 271.0h10.0v22.5h-10.0z"/>
<path fill="#f9b04d" d="M339.0 306.0L339.0 288.0L343.0 284.0L347.0 276.0L351.0 270.0L356.0 266.0L361.0 263.0L369.0 263.0L373.0 269.0L381.0 269.0L388.0 272.0L388.0 281.0L381.0 287.0L365.0 290.0L357.0 296.0L347.0 301.5L346.0 306.5L340.0 306.5zM355.5 265.3h6.0v6.0h-6.0zM360.4 264.1h6.0v6.0h-6.0zM364.5 264.0h6.0v6.0h-6.0zM367.0 262.7h6.0v6.0h-6.0zM347.7 267.7h6.0v6.0h-6.0zM352.6 269.1h6.0v6.0h-6.0zM354.8 268.3h6.0v6.0h-6.0zM360.9 268.5h6.0v6.0h-6.0zM363.3 267.6h6.0v6.0h-6.0zM369.1 267.2h6.0v6.0h-6.0zM373.3 267.7h6.0v6.0h-6.0zM376.1 268.6h6.0v6.0h-6.0zM380.5 268.3h6.0v6.0h-6.0zM348.4 272.9h6.0v6.0h-6.0zM353.2 272.8h6.0v6.0h-6.0zM356.9 271.7h6.0v6.0h-6.0zM358.7 272.8h6.0v6.0h-6.0zM365.4 271.9h6.0v6.0h-6.0zM369.1 272.2h6.0v6.0h-6.0zM371.7 272.9h6.0v6.0h-6.0zM374.8 271.6h6.0v6.0h-6.0zM380.5 270.8h6.0v6.0h-6.0zM384.2 271.7h6.0v6.0h-6.0zM342.9 276.4h6.0v6.0h-6.0zM348.5 276.4h6.0v6.0h-6.0zM352.8 277.4h6.0v6.0h-6.0zM356.6 277.3h6.0v6.0h-6.0zM360.4 275.4h6.0v6.0h-6.0zM365.0 276.5h6.0v6.0h-6.0zM368.4 275.0h6.0v6.0h-6.0zM372.2 275.6h6.0v6.0h-6.0zM376.2 277.2h6.0v6.0h-6.0zM379.7 274.7h6.0v6.0h-6.0zM382.9 276.1h6.0v6.0h-6.0zM345.0 280.9h6.0v6.0h-6.0zM349.1 279.0h6.0v6.0h-6.0zM352.1 279.3h6.0v6.0h-6.0zM354.9 281.2h6.0v6.0h-6.0zM360.4 279.9h6.0v6.0h-6.0zM364.7 281.0h6.0v6.0h-6.0zM367.9 278.9h6.0v6.0h-6.0zM373.1 280.0h6.0v6.0h-6.0zM375.8 279.1h6.0v6.0h-6.0zM380.1 281.0h6.0v6.0h-6.0zM339.7 285.0h6.0v6.0h-6.0zM344.3 282.7h6.0v6.0h-6.0zM346.7 284.9h6.0v6.0h-6.0zM352.3 284.7h6.0v6.0h-6.0zM356.0 284.6h6.0v6.0h-6.0zM359.6 283.6h6.0v6.0h-6.0zM363.6 283.4h6.0v6.0h-6.0zM369.3 285.1h6.0v6.0h-6.0zM372.1 282.7h6.0v6.0h-6.0zM340.5 287.7h6.0v6.0h-6.0zM345.4 289.2h6.0v6.0h-6.0zM347.4 286.9h6.0v6.0h-6.0zM352.9 289.0h6.0v6.0h-6.0zM355.6 288.7h6.0v6.0h-6.0zM340.5 290.6h6.0v6.0h-6.0zM343.3 291.9h6.0v6.0h-6.0zM347.8 293.2h6.0v6.0h-6.0zM353.2 292.0h6.0v6.0h-6.0zM336.4 296.7h6.0v6.0h-6.0zM341.1 295.0h6.0v6.0h-6.0zM345.4 296.5h6.0v6.0h-6.0zM347.4 296.5h6.0v6.0h-6.0zM336.0 298.6h6.0v6.0h-6.0zM340.5 300.0h6.0v6.0h-6.0zM386.8 255.4h6.9v6.9h-6.9zM361.0 260.0h8.5v9.0h-8.5z"/>
<path fill="#1d5a8d" d="M344.6 262.3h3.0v2.3h-3.0z"/>
<path fill="#f35a79" d="M402.6 268.0h3.4v6.6h-3.4z"/>
<path fill="#1a8bb7" d="M396.0 267.0h4.0v6.0h-4.0zM398.2 266.9h6.0v6.0h-6.0zM403.9 266.8h6.0v6.0h-6.0zM410.5 266.0h6.0v6.0h-6.0zM391.8 270.0h6.0v6.0h-6.0zM397.1 270.1h6.0v6.0h-6.0zM405.8 272.4h6.0v6.0h-6.0zM409.7 269.0h6.0v6.0h-6.0zM388.4 274.2h6.0v6.0h-6.0zM393.5 275.7h6.0v6.0h-6.0zM398.6 274.6h6.0v6.0h-6.0zM404.1 274.5h6.0v6.0h-6.0zM410.7 276.6h6.0v6.0h-6.0zM395.1 280.2h6.0v6.0h-6.0zM400.0 283.2h6.0v6.0h-6.0zM405.9 281.4h6.0v6.0h-6.0zM409.8 282.9h6.0v6.0h-6.0zM388.9 286.0h6.0v6.0h-6.0zM392.4 288.3h6.0v6.0h-6.0zM399.3 286.7h6.0v6.0h-6.0zM404.4 286.1h6.0v6.0h-6.0zM409.0 285.5h6.0v6.0h-6.0zM388.4 290.9h6.0v6.0h-6.0zM393.9 291.2h6.0v6.0h-6.0zM398.5 291.1h6.0v6.0h-6.0zM404.5 290.9h6.0v6.0h-6.0zM409.2 291.5h6.0v6.0h-6.0z"/>
<path fill="#1d5a8d" d="M391.0 285.0h5.0v6.0h-5.0zM402.0 283.0h5.0v6.0h-5.0z"/>
<path fill="#45a5b1" d="M401.6 282.1h6.0v6.0h-6.0zM406.4 281.3h6.0v6.0h-6.0zM396.2 287.0h6.0v6.0h-6.0zM403.2 285.8h6.0v6.0h-6.0zM406.4 286.4h6.0v6.0h-6.0zM396.7 291.2h6.0v6.0h-6.0zM400.2 292.9h6.0v6.0h-6.0zM407.3 292.3h6.0v6.0h-6.0zM410.6 291.0h6.0v6.0h-6.0z"/>
<path fill="#1a8bb7" d="M401.0 299.0h9.8v7.5h-9.8z"/>
<path fill="#45a5b1" d="M414.6 282.4h10.4v9.5h-10.4z"/>
<path fill="#1a8bb7" d="M414.0 268.0h6.0v8.0h-6.0zM419.0 275.0h7.0v8.0h-7.0z"/>
<path fill="#1d5a8d" d="M429.7 271.0h17.0v13.3h-17.0zM439.0 276.7h9.6v17.1h-9.6z"/>
<path fill="#1a8bb7" d="M431.6 280.5h9.4v7.5h-9.4z"/>
<path fill="#45a5b1" d="M428.8 288.0h14.2v7.0h-14.2z"/>
<path fill="#1d5a8d" d="M441.0 283.8h9.5v10.4h-9.5z"/>
<path fill="#f35a79" d="M427.8 261.6h17.0v15.1h-17.0z"/>
<path fill="#f7715b" d="M404.0 267.0h10.6v7.0h-10.6z"/>
<path fill="#f9b04d" d="M421.0 267.0h6.8v7.0h-6.8z"/>
<path fill="#45a5b1" d="M452.4 270.0h7.6v6.7h-7.6z"/>
<path fill="#1a8bb7" d="M459.0 267.0h6.6v7.0h-6.6z"/>
<path fill="#f9b04d" d="M410.0 257.8h8.4v6.6h-8.4zM390.0 256.0h3.8v6.5h-3.8z"/>
<path fill="#45a5b1" d="M423.0 257.8h6.7v7.6h-6.7z"/>
<path fill="#1a8bb7" d="M427.0 255.0h8.4v7.5h-8.4z"/>
<path fill="#f35a79" d="M427.0 245.5h9.0v9.5h-9.0z"/>
<path fill="#f7715b" d="M438.0 248.0h8.7v8.0h-8.7z"/>
<path fill="#1d5a8d" d="M436.0 244.6h5.0v5.4h-5.0zM446.7 253.0h7.3v7.7h-7.3zM457.0 251.0h8.6v7.8h-8.6z"/>
<path fill="#45a5b1" d="M462.8 256.9h5.7v5.6h-5.7z"/>
<path fill="#1d5a8d" d="M455.0 242.7h7.0v6.6h-7.0zM462.8 238.0h5.7v5.6h-5.7z"/>
<path fill="#f35a79" d="M465.6 233.0h4.4v7.0h-4.4z"/>
<path fill="#1d5a8d" d="M443.0 233.0h6.6v7.0h-6.6z"/>
<path fill="#f7715b" d="M441.0 238.0h6.7v6.6h-6.7zM453.4 226.6h6.6v6.6h-6.6z"/>
<path fill="#1d5a8d" d="M468.5 257.8h1.5v11.2h-1.5z"/>
<path fill="#f7715b" d="M460.0 299.9h6.6v6.6h-6.6z"/>
<path fill="#f9b04d" d="M461.0 317.0h7.5v6.5h-7.5z"/>
<path fill="#f7715b" d="M488.4 223.8h6.6v6.6h-6.6z"/>
<path fill="#f35a79" d="M481.7 231.3h6.7v6.7h-6.7z"/>
<path fill="#f9b04d" d="M501.6 231.3h6.6v6.7h-6.6z"/>
<path fill="#f35a79" d="M465.7 234.2h6.6v6.6h-6.6z"/>
<path fill="#f9b04d" d="M493.0 236.0h6.7v6.7h-6.7z"/>
<path fill="#f7715b" d="M492.0 241.7h6.8v5.7h-6.8z"/>
<path fill="#1d5a8d" d="M462.0 238.0h6.5v6.6h-6.5zM460.0 243.6h5.7v5.7h-5.7z"/>
<path fill="#1a8bb7" d="M477.0 245.5h6.6v5.7h-6.6z"/>
<path fill="#f7715b" d="M476.0 248.4h6.7v6.6h-6.7z"/>
<path fill="#f35a79" d="M484.6 248.4h6.6v6.6h-6.6zM480.8 252.0h5.7v7.7h-5.7z"/>
<path fill="#f9b04d" d="M495.0 248.4h6.6v8.5h-6.6z"/>
<path fill="#f7715b" d="M496.0 256.0h6.6v6.5h-6.6z"/>
<path fill="#1d5a8d" d="M460.0 251.0h7.6v8.7h-7.6z"/>
<path fill="#45a5b1" d="M462.8 256.9h5.7v4.7h-5.7z"/>
<path fill="#1a8bb7" d="M473.0 255.0h7.8v6.6h-7.8z"/>
<path fill="#1d5a8d" d="M468.5 262.5h6.5v6.5h-6.5z"/>
<path fill="#45a5b1" d="M476.0 261.6h6.7v13.2h-6.7z"/>
<path fill="#1a8bb7" d="M460.0 267.0h5.7v7.0h-5.7z"/>
<path fill="#f35a79" d="M489.3 262.5h6.7v6.5h-6.7z"/>
<path fill="#f7715b" d="M494.0 264.4h6.7v7.6h-6.7z"/>
<path fill="#1d5a8d" d="M468.5 271.0h6.5v5.7h-6.5z"/>
<path fill="#1a8bb7" d="M481.7 272.0h6.7v6.6h-6.7z"/>
<path fill="#1d5a8d" d="M484.6 274.8h9.4v7.6h-9.4z"/>
<path fill="#f9b04d" d="M494.0 273.0h7.6v6.6h-7.6z"/>
<path fill="#1d5a8d" d="M476.0 279.6h5.7v6.6h-5.7zM469.5 284.3h6.5v6.7h-6.5zM487.4 284.3h6.6v6.7h-6.6zM484.6 292.8h5.7v2.8h-5.7z"/>
<path fill="#f7715b" d="M460.0 300.0h6.6v5.8h-6.6z"/>
<path fill="#f9b04d" d="M470.4 297.3h5.6v6.7h-5.6z"/>
<path fill="#1a8bb7" d="M476.0 295.4h5.8v12.3h-5.8zM475.0 294.7h5.8v5.3h-5.8z"/>
<path fill="#f9b04d" d="M484.6 294.7h6.6v7.3h-6.6z"/>
<path fill="#1a8bb7" d="M480.0 304.0L490.0 306.0L497.0 315.0L503.0 325.0L507.0 333.0L503.5 335.5L495.0 331.0L488.0 326.0L482.0 320.0L479.0 312.0zM477.1 303.5h6.0v6.0h-6.0zM480.5 304.6h6.0v6.0h-6.0zM482.2 304.2h6.0v6.0h-6.0zM486.4 303.6h6.0v6.0h-6.0zM478.5 308.2h6.0v6.0h-6.0zM483.2 308.1h6.0v6.0h-6.0zM487.4 307.3h6.0v6.0h-6.0zM490.6 308.2h6.0v6.0h-6.0zM480.2 310.6h6.0v6.0h-6.0zM482.9 312.6h6.0v6.0h-6.0zM485.3 311.9h6.0v6.0h-6.0zM490.4 312.1h6.0v6.0h-6.0zM479.3 315.9h6.0v6.0h-6.0zM482.7 314.6h6.0v6.0h-6.0zM486.7 315.4h6.0v6.0h-6.0zM490.5 315.1h6.0v6.0h-6.0zM493.3 315.6h6.0v6.0h-6.0zM481.8 319.6h6.0v6.0h-6.0zM485.5 318.5h6.0v6.0h-6.0zM490.1 319.2h6.0v6.0h-6.0zM492.6 319.3h6.0v6.0h-6.0zM496.4 319.1h6.0v6.0h-6.0zM485.7 322.9h6.0v6.0h-6.0zM490.2 322.3h6.0v6.0h-6.0zM492.7 322.1h6.0v6.0h-6.0zM496.8 321.3h6.0v6.0h-6.0zM491.1 325.5h6.0v6.0h-6.0zM492.5 324.4h6.0v6.0h-6.0zM498.1 324.8h6.0v6.0h-6.0zM501.2 324.7h6.0v6.0h-6.0zM497.7 328.0h6.0v6.0h-6.0zM501.1 329.4h6.0v6.0h-6.0z"/>
<path fill="#45a5b1" d="M480.8 311.5h8.5v11.4h-8.5z"/>
<path fill="#1a8bb7" d="M482.7 318.0h9.3v8.6h-9.3z"/>
<path fill="#1d5a8d" d="M489.3 322.0h8.6v8.4h-8.6z"/>
<path fill="#f7715b" d="M475.0 317.0h6.8v6.8h-6.8z"/>
<path fill="#f9b04d" d="M461.0 317.0h7.5v6.8h-7.5z"/>
<path fill="#f7715b" d="M488.4 305.8L496.0 303.0L503.5 306.0L503.5 332.3L497.0 330.0L492.0 322.0L488.4 314.0zM485.6 304.5h6.0v6.0h-6.0zM490.5 304.1h6.0v6.0h-6.0zM492.4 304.1h6.0v6.0h-6.0zM497.5 303.1h6.0v6.0h-6.0zM500.3 303.1h6.0v6.0h-6.0zM485.8 307.8h6.0v6.0h-6.0zM488.1 306.6h6.0v6.0h-6.0zM493.8 308.1h6.0v6.0h-6.0zM497.3 307.1h6.0v6.0h-6.0zM500.3 307.1h6.0v6.0h-6.0zM489.2 312.1h6.0v6.0h-6.0zM494.1 312.8h6.0v6.0h-6.0zM496.4 313.3h6.0v6.0h-6.0zM489.9 317.0h6.0v6.0h-6.0zM494.1 317.1h6.0v6.0h-6.0zM497.5 316.5h6.0v6.0h-6.0zM500.2 316.5h6.0v6.0h-6.0zM493.4 319.0h6.0v6.0h-6.0zM498.1 320.3h6.0v6.0h-6.0zM493.9 325.4h6.0v6.0h-6.0zM496.9 323.2h6.0v6.0h-6.0z"/>
<path fill="#f9b04d" d="M495.0 304.0L499.0 298.0L501.0 293.5L516.5 293.5L518.5 305.0L524.0 311.5L530.5 314.0L530.5 320.5L523.5 323.0L524.0 330.0L517.5 332.0L505.5 332.0L499.0 324.0L498.0 310.0zM508.8 291.2h6.0v6.0h-6.0zM511.9 291.4h6.0v6.0h-6.0zM499.0 295.7h6.0v6.0h-6.0zM503.2 294.6h6.0v6.0h-6.0zM508.4 294.9h6.0v6.0h-6.0zM511.9 294.6h6.0v6.0h-6.0zM495.3 298.0h6.0v6.0h-6.0zM499.1 299.6h6.0v6.0h-6.0zM504.3 298.5h6.0v6.0h-6.0zM507.2 299.4h6.0v6.0h-6.0zM512.2 297.5h6.0v6.0h-6.0zM515.1 299.8h6.0v6.0h-6.0zM496.5 301.8h6.0v6.0h-6.0zM500.3 303.8h6.0v6.0h-6.0zM505.2 303.0h6.0v6.0h-6.0zM508.3 301.5h6.0v6.0h-6.0zM512.9 303.6h6.0v6.0h-6.0zM495.2 307.4h6.0v6.0h-6.0zM498.7 305.8h6.0v6.0h-6.0zM504.2 305.2h6.0v6.0h-6.0zM508.3 306.0h6.0v6.0h-6.0zM511.5 305.3h6.0v6.0h-6.0zM515.7 306.7h6.0v6.0h-6.0zM518.7 307.4h6.0v6.0h-6.0zM495.6 309.4h6.0v6.0h-6.0zM500.8 311.0h6.0v6.0h-6.0zM502.6 311.3h6.0v6.0h-6.0zM509.4 310.2h6.0v6.0h-6.0zM513.2 309.7h6.0v6.0h-6.0zM516.4 311.3h6.0v6.0h-6.0zM519.7 309.9h6.0v6.0h-6.0zM523.0 310.6h6.0v6.0h-6.0zM496.5 315.1h6.0v6.0h-6.0zM499.4 313.7h6.0v6.0h-6.0zM504.4 314.4h6.0v6.0h-6.0zM508.9 315.2h6.0v6.0h-6.0zM511.9 314.3h6.0v6.0h-6.0zM516.2 314.8h6.0v6.0h-6.0zM519.9 314.6h6.0v6.0h-6.0zM523.6 315.0h6.0v6.0h-6.0zM497.0 318.2h6.0v6.0h-6.0zM499.7 318.9h6.0v6.0h-6.0zM505.0 319.3h6.0v6.0h-6.0zM509.4 317.3h6.0v6.0h-6.0zM512.1 318.1h6.0v6.0h-6.0zM515.6 318.0h6.0v6.0h-6.0zM520.3 319.2h6.0v6.0h-6.0zM524.4 317.3h6.0v6.0h-6.0zM498.6 321.5h6.0v6.0h-6.0zM504.5 321.3h6.0v6.0h-6.0zM507.5 321.9h6.0v6.0h-6.0zM512.9 323.4h6.0v6.0h-6.0zM514.7 321.5h6.0v6.0h-6.0zM519.3 321.5h6.0v6.0h-6.0zM504.4 325.6h6.0v6.0h-6.0zM507.9 327.0h6.0v6.0h-6.0zM511.5 327.7h6.0v6.0h-6.0zM514.8 326.1h6.0v6.0h-6.0z"/>
<path fill="#f7715b" d="M516.8 297.3h7.6v7.6h-7.6z"/>
<path fill="#f9b04d" d="M484.6 307.7h7.6v7.6h-7.6zM500.7 292.8h16.0v7.2h-16.0z"/>
<path fill="#1a8bb7" d="M505.4 332.3h9.6v3.7h-9.6z"/>
<path fill="#f7715b" d="M498.8 331.4h6.6v5.6h-6.6z"/>
<path fill="#f9b04d" d="M498.8 335.0h7.6v7.7h-7.6z"/>
<path fill="#f7715b" d="M517.7 331.4h9.5v6.6h-9.5z"/>
<path fill="#1d5a8d" d="M525.3 328.5h4.7v6.7h-4.7z"/>
<path fill="#f9b04d" d="M535.7 343.7h7.6v6.6h-7.6z"/>
<rect x="169.5" y="236" width="79.8" height="100" fill="#fff" stroke="#444" stroke-width="1"/>
<rect x="188.8" y="242.9" width="6.4" height="6.4" fill="#45a5b1"/>
<text x="245.5" y="250.4" font-size="13" text-anchor="end"><tspan font-style="italic">&#961;</tspan>=0.0</text>
<rect x="188.8" y="259.1" width="6.4" height="6.4" fill="#1a8bb7"/>
<text x="245.5" y="266.6" font-size="13" text-anchor="end"><tspan font-style="italic">&#961;</tspan>=0.2</text>
<rect x="188.8" y="275.3" width="6.4" height="6.4" fill="#1d5a8d"/>
<text x="245.5" y="282.8" font-size="13" text-anchor="end"><tspan font-style="italic">&#961;</tspan>=0.4</text>
<rect x="188.8" y="291.5" width="6.4" height="6.4" fill="#f35a79"/>
<text x="245.5" y="299.0" font-size="13" text-anchor="end"><tspan font-style="italic">&#961;</tspan>=0.6</text>
<rect x="188.8" y="307.7" width="6.4" height="6.4" fill="#f7715b"/>
<text x="245.5" y="315.2" font-size="13" text-anchor="end"><tspan font-style="italic">&#961;</tspan>=0.8</text>
<rect x="188.8" y="323.9" width="6.4" height="6.4" fill="#f9b04d"/>
<text x="245.5" y="331.4" font-size="13" text-anchor="end"><tspan font-style="italic">&#961;</tspan>=1.0</text>
</svg>
</body></html>
